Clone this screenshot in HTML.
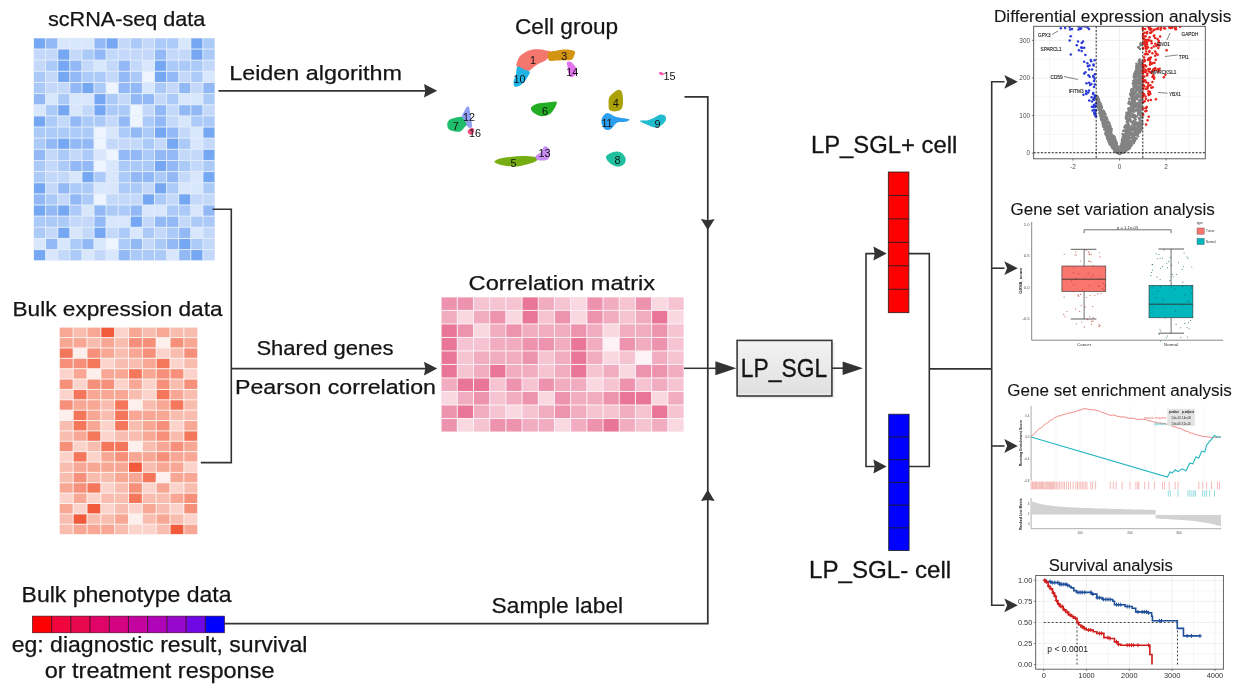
<!DOCTYPE html>
<html><head><meta charset="utf-8"><title>LP_SGL workflow</title><style>html,body{margin:0;padding:0;background:#fff;}body{width:1240px;height:687px;overflow:hidden;font-family:"Liberation Sans",sans-serif;}svg{display:block;}svg{will-change:transform}</style></head><body><svg width="1240" height="687" viewBox="0 0 1240 687" font-family="Liberation Sans, sans-serif">
<rect width="1240" height="687" fill="#ffffff"/>
<rect x="33.50" y="37.90" width="181.50" height="222.80" fill="#e2ecfb"/>
<rect x="34.00" y="38.40" width="11.10" height="10.14" fill="#76a7f3"/>
<rect x="46.10" y="38.40" width="11.10" height="10.14" fill="#92b9f6"/>
<rect x="58.20" y="38.40" width="11.10" height="10.14" fill="#d9e7fc"/>
<rect x="70.30" y="38.40" width="11.10" height="10.14" fill="#d9e7fc"/>
<rect x="82.40" y="38.40" width="11.10" height="10.14" fill="#d9e7fc"/>
<rect x="94.50" y="38.40" width="11.10" height="10.14" fill="#92b9f6"/>
<rect x="106.60" y="38.40" width="11.10" height="10.14" fill="#76a7f3"/>
<rect x="118.70" y="38.40" width="11.10" height="10.14" fill="#c4d9fa"/>
<rect x="130.80" y="38.40" width="11.10" height="10.14" fill="#abcaf8"/>
<rect x="142.90" y="38.40" width="11.10" height="10.14" fill="#c4d9fa"/>
<rect x="155.00" y="38.40" width="11.10" height="10.14" fill="#abcaf8"/>
<rect x="167.10" y="38.40" width="11.10" height="10.14" fill="#abcaf8"/>
<rect x="179.20" y="38.40" width="11.10" height="10.14" fill="#d9e7fc"/>
<rect x="191.30" y="38.40" width="11.10" height="10.14" fill="#76a7f3"/>
<rect x="203.40" y="38.40" width="11.10" height="10.14" fill="#abcaf8"/>
<rect x="34.00" y="49.54" width="11.10" height="10.14" fill="#c4d9fa"/>
<rect x="46.10" y="49.54" width="11.10" height="10.14" fill="#c4d9fa"/>
<rect x="58.20" y="49.54" width="11.10" height="10.14" fill="#76a7f3"/>
<rect x="70.30" y="49.54" width="11.10" height="10.14" fill="#c4d9fa"/>
<rect x="82.40" y="49.54" width="11.10" height="10.14" fill="#abcaf8"/>
<rect x="94.50" y="49.54" width="11.10" height="10.14" fill="#92b9f6"/>
<rect x="106.60" y="49.54" width="11.10" height="10.14" fill="#c4d9fa"/>
<rect x="118.70" y="49.54" width="11.10" height="10.14" fill="#c4d9fa"/>
<rect x="130.80" y="49.54" width="11.10" height="10.14" fill="#c4d9fa"/>
<rect x="142.90" y="49.54" width="11.10" height="10.14" fill="#c4d9fa"/>
<rect x="155.00" y="49.54" width="11.10" height="10.14" fill="#92b9f6"/>
<rect x="167.10" y="49.54" width="11.10" height="10.14" fill="#c4d9fa"/>
<rect x="179.20" y="49.54" width="11.10" height="10.14" fill="#c4d9fa"/>
<rect x="191.30" y="49.54" width="11.10" height="10.14" fill="#76a7f3"/>
<rect x="203.40" y="49.54" width="11.10" height="10.14" fill="#abcaf8"/>
<rect x="34.00" y="60.68" width="11.10" height="10.14" fill="#c4d9fa"/>
<rect x="46.10" y="60.68" width="11.10" height="10.14" fill="#abcaf8"/>
<rect x="58.20" y="60.68" width="11.10" height="10.14" fill="#76a7f3"/>
<rect x="70.30" y="60.68" width="11.10" height="10.14" fill="#92b9f6"/>
<rect x="82.40" y="60.68" width="11.10" height="10.14" fill="#c4d9fa"/>
<rect x="94.50" y="60.68" width="11.10" height="10.14" fill="#d9e7fc"/>
<rect x="106.60" y="60.68" width="11.10" height="10.14" fill="#c4d9fa"/>
<rect x="118.70" y="60.68" width="11.10" height="10.14" fill="#92b9f6"/>
<rect x="130.80" y="60.68" width="11.10" height="10.14" fill="#c4d9fa"/>
<rect x="142.90" y="60.68" width="11.10" height="10.14" fill="#d9e7fc"/>
<rect x="155.00" y="60.68" width="11.10" height="10.14" fill="#76a7f3"/>
<rect x="167.10" y="60.68" width="11.10" height="10.14" fill="#abcaf8"/>
<rect x="179.20" y="60.68" width="11.10" height="10.14" fill="#abcaf8"/>
<rect x="191.30" y="60.68" width="11.10" height="10.14" fill="#abcaf8"/>
<rect x="203.40" y="60.68" width="11.10" height="10.14" fill="#c4d9fa"/>
<rect x="34.00" y="71.82" width="11.10" height="10.14" fill="#abcaf8"/>
<rect x="46.10" y="71.82" width="11.10" height="10.14" fill="#c4d9fa"/>
<rect x="58.20" y="71.82" width="11.10" height="10.14" fill="#76a7f3"/>
<rect x="70.30" y="71.82" width="11.10" height="10.14" fill="#92b9f6"/>
<rect x="82.40" y="71.82" width="11.10" height="10.14" fill="#abcaf8"/>
<rect x="94.50" y="71.82" width="11.10" height="10.14" fill="#abcaf8"/>
<rect x="106.60" y="71.82" width="11.10" height="10.14" fill="#c4d9fa"/>
<rect x="118.70" y="71.82" width="11.10" height="10.14" fill="#92b9f6"/>
<rect x="130.80" y="71.82" width="11.10" height="10.14" fill="#abcaf8"/>
<rect x="142.90" y="71.82" width="11.10" height="10.14" fill="#eff5fe"/>
<rect x="155.00" y="71.82" width="11.10" height="10.14" fill="#76a7f3"/>
<rect x="167.10" y="71.82" width="11.10" height="10.14" fill="#92b9f6"/>
<rect x="179.20" y="71.82" width="11.10" height="10.14" fill="#c4d9fa"/>
<rect x="191.30" y="71.82" width="11.10" height="10.14" fill="#abcaf8"/>
<rect x="203.40" y="71.82" width="11.10" height="10.14" fill="#d9e7fc"/>
<rect x="34.00" y="82.96" width="11.10" height="10.14" fill="#abcaf8"/>
<rect x="46.10" y="82.96" width="11.10" height="10.14" fill="#c4d9fa"/>
<rect x="58.20" y="82.96" width="11.10" height="10.14" fill="#c4d9fa"/>
<rect x="70.30" y="82.96" width="11.10" height="10.14" fill="#92b9f6"/>
<rect x="82.40" y="82.96" width="11.10" height="10.14" fill="#76a7f3"/>
<rect x="94.50" y="82.96" width="11.10" height="10.14" fill="#abcaf8"/>
<rect x="106.60" y="82.96" width="11.10" height="10.14" fill="#eff5fe"/>
<rect x="118.70" y="82.96" width="11.10" height="10.14" fill="#92b9f6"/>
<rect x="130.80" y="82.96" width="11.10" height="10.14" fill="#92b9f6"/>
<rect x="142.90" y="82.96" width="11.10" height="10.14" fill="#d9e7fc"/>
<rect x="155.00" y="82.96" width="11.10" height="10.14" fill="#abcaf8"/>
<rect x="167.10" y="82.96" width="11.10" height="10.14" fill="#c4d9fa"/>
<rect x="179.20" y="82.96" width="11.10" height="10.14" fill="#92b9f6"/>
<rect x="191.30" y="82.96" width="11.10" height="10.14" fill="#c4d9fa"/>
<rect x="203.40" y="82.96" width="11.10" height="10.14" fill="#92b9f6"/>
<rect x="34.00" y="94.10" width="11.10" height="10.14" fill="#92b9f6"/>
<rect x="46.10" y="94.10" width="11.10" height="10.14" fill="#d9e7fc"/>
<rect x="58.20" y="94.10" width="11.10" height="10.14" fill="#abcaf8"/>
<rect x="70.30" y="94.10" width="11.10" height="10.14" fill="#d9e7fc"/>
<rect x="82.40" y="94.10" width="11.10" height="10.14" fill="#d9e7fc"/>
<rect x="94.50" y="94.10" width="11.10" height="10.14" fill="#76a7f3"/>
<rect x="106.60" y="94.10" width="11.10" height="10.14" fill="#abcaf8"/>
<rect x="118.70" y="94.10" width="11.10" height="10.14" fill="#c4d9fa"/>
<rect x="130.80" y="94.10" width="11.10" height="10.14" fill="#92b9f6"/>
<rect x="142.90" y="94.10" width="11.10" height="10.14" fill="#92b9f6"/>
<rect x="155.00" y="94.10" width="11.10" height="10.14" fill="#c4d9fa"/>
<rect x="167.10" y="94.10" width="11.10" height="10.14" fill="#abcaf8"/>
<rect x="179.20" y="94.10" width="11.10" height="10.14" fill="#d9e7fc"/>
<rect x="191.30" y="94.10" width="11.10" height="10.14" fill="#d9e7fc"/>
<rect x="203.40" y="94.10" width="11.10" height="10.14" fill="#abcaf8"/>
<rect x="34.00" y="105.24" width="11.10" height="10.14" fill="#d9e7fc"/>
<rect x="46.10" y="105.24" width="11.10" height="10.14" fill="#abcaf8"/>
<rect x="58.20" y="105.24" width="11.10" height="10.14" fill="#76a7f3"/>
<rect x="70.30" y="105.24" width="11.10" height="10.14" fill="#d9e7fc"/>
<rect x="82.40" y="105.24" width="11.10" height="10.14" fill="#c4d9fa"/>
<rect x="94.50" y="105.24" width="11.10" height="10.14" fill="#76a7f3"/>
<rect x="106.60" y="105.24" width="11.10" height="10.14" fill="#abcaf8"/>
<rect x="118.70" y="105.24" width="11.10" height="10.14" fill="#abcaf8"/>
<rect x="130.80" y="105.24" width="11.10" height="10.14" fill="#eff5fe"/>
<rect x="142.90" y="105.24" width="11.10" height="10.14" fill="#c4d9fa"/>
<rect x="155.00" y="105.24" width="11.10" height="10.14" fill="#92b9f6"/>
<rect x="167.10" y="105.24" width="11.10" height="10.14" fill="#c4d9fa"/>
<rect x="179.20" y="105.24" width="11.10" height="10.14" fill="#92b9f6"/>
<rect x="191.30" y="105.24" width="11.10" height="10.14" fill="#92b9f6"/>
<rect x="203.40" y="105.24" width="11.10" height="10.14" fill="#c4d9fa"/>
<rect x="34.00" y="116.38" width="11.10" height="10.14" fill="#76a7f3"/>
<rect x="46.10" y="116.38" width="11.10" height="10.14" fill="#abcaf8"/>
<rect x="58.20" y="116.38" width="11.10" height="10.14" fill="#c4d9fa"/>
<rect x="70.30" y="116.38" width="11.10" height="10.14" fill="#92b9f6"/>
<rect x="82.40" y="116.38" width="11.10" height="10.14" fill="#abcaf8"/>
<rect x="94.50" y="116.38" width="11.10" height="10.14" fill="#abcaf8"/>
<rect x="106.60" y="116.38" width="11.10" height="10.14" fill="#c4d9fa"/>
<rect x="118.70" y="116.38" width="11.10" height="10.14" fill="#92b9f6"/>
<rect x="130.80" y="116.38" width="11.10" height="10.14" fill="#eff5fe"/>
<rect x="142.90" y="116.38" width="11.10" height="10.14" fill="#abcaf8"/>
<rect x="155.00" y="116.38" width="11.10" height="10.14" fill="#92b9f6"/>
<rect x="167.10" y="116.38" width="11.10" height="10.14" fill="#c4d9fa"/>
<rect x="179.20" y="116.38" width="11.10" height="10.14" fill="#d9e7fc"/>
<rect x="191.30" y="116.38" width="11.10" height="10.14" fill="#abcaf8"/>
<rect x="203.40" y="116.38" width="11.10" height="10.14" fill="#abcaf8"/>
<rect x="34.00" y="127.52" width="11.10" height="10.14" fill="#abcaf8"/>
<rect x="46.10" y="127.52" width="11.10" height="10.14" fill="#abcaf8"/>
<rect x="58.20" y="127.52" width="11.10" height="10.14" fill="#abcaf8"/>
<rect x="70.30" y="127.52" width="11.10" height="10.14" fill="#abcaf8"/>
<rect x="82.40" y="127.52" width="11.10" height="10.14" fill="#abcaf8"/>
<rect x="94.50" y="127.52" width="11.10" height="10.14" fill="#eff5fe"/>
<rect x="106.60" y="127.52" width="11.10" height="10.14" fill="#d9e7fc"/>
<rect x="118.70" y="127.52" width="11.10" height="10.14" fill="#abcaf8"/>
<rect x="130.80" y="127.52" width="11.10" height="10.14" fill="#92b9f6"/>
<rect x="142.90" y="127.52" width="11.10" height="10.14" fill="#abcaf8"/>
<rect x="155.00" y="127.52" width="11.10" height="10.14" fill="#76a7f3"/>
<rect x="167.10" y="127.52" width="11.10" height="10.14" fill="#92b9f6"/>
<rect x="179.20" y="127.52" width="11.10" height="10.14" fill="#c4d9fa"/>
<rect x="191.30" y="127.52" width="11.10" height="10.14" fill="#d9e7fc"/>
<rect x="203.40" y="127.52" width="11.10" height="10.14" fill="#76a7f3"/>
<rect x="34.00" y="138.66" width="11.10" height="10.14" fill="#abcaf8"/>
<rect x="46.10" y="138.66" width="11.10" height="10.14" fill="#92b9f6"/>
<rect x="58.20" y="138.66" width="11.10" height="10.14" fill="#76a7f3"/>
<rect x="70.30" y="138.66" width="11.10" height="10.14" fill="#92b9f6"/>
<rect x="82.40" y="138.66" width="11.10" height="10.14" fill="#92b9f6"/>
<rect x="94.50" y="138.66" width="11.10" height="10.14" fill="#eff5fe"/>
<rect x="106.60" y="138.66" width="11.10" height="10.14" fill="#c4d9fa"/>
<rect x="118.70" y="138.66" width="11.10" height="10.14" fill="#c4d9fa"/>
<rect x="130.80" y="138.66" width="11.10" height="10.14" fill="#c4d9fa"/>
<rect x="142.90" y="138.66" width="11.10" height="10.14" fill="#abcaf8"/>
<rect x="155.00" y="138.66" width="11.10" height="10.14" fill="#c4d9fa"/>
<rect x="167.10" y="138.66" width="11.10" height="10.14" fill="#76a7f3"/>
<rect x="179.20" y="138.66" width="11.10" height="10.14" fill="#abcaf8"/>
<rect x="191.30" y="138.66" width="11.10" height="10.14" fill="#d9e7fc"/>
<rect x="203.40" y="138.66" width="11.10" height="10.14" fill="#c4d9fa"/>
<rect x="34.00" y="149.80" width="11.10" height="10.14" fill="#92b9f6"/>
<rect x="46.10" y="149.80" width="11.10" height="10.14" fill="#c4d9fa"/>
<rect x="58.20" y="149.80" width="11.10" height="10.14" fill="#abcaf8"/>
<rect x="70.30" y="149.80" width="11.10" height="10.14" fill="#c4d9fa"/>
<rect x="82.40" y="149.80" width="11.10" height="10.14" fill="#abcaf8"/>
<rect x="94.50" y="149.80" width="11.10" height="10.14" fill="#d9e7fc"/>
<rect x="106.60" y="149.80" width="11.10" height="10.14" fill="#eff5fe"/>
<rect x="118.70" y="149.80" width="11.10" height="10.14" fill="#92b9f6"/>
<rect x="130.80" y="149.80" width="11.10" height="10.14" fill="#92b9f6"/>
<rect x="142.90" y="149.80" width="11.10" height="10.14" fill="#abcaf8"/>
<rect x="155.00" y="149.80" width="11.10" height="10.14" fill="#92b9f6"/>
<rect x="167.10" y="149.80" width="11.10" height="10.14" fill="#92b9f6"/>
<rect x="179.20" y="149.80" width="11.10" height="10.14" fill="#c4d9fa"/>
<rect x="191.30" y="149.80" width="11.10" height="10.14" fill="#c4d9fa"/>
<rect x="203.40" y="149.80" width="11.10" height="10.14" fill="#76a7f3"/>
<rect x="34.00" y="160.94" width="11.10" height="10.14" fill="#abcaf8"/>
<rect x="46.10" y="160.94" width="11.10" height="10.14" fill="#c4d9fa"/>
<rect x="58.20" y="160.94" width="11.10" height="10.14" fill="#abcaf8"/>
<rect x="70.30" y="160.94" width="11.10" height="10.14" fill="#92b9f6"/>
<rect x="82.40" y="160.94" width="11.10" height="10.14" fill="#92b9f6"/>
<rect x="94.50" y="160.94" width="11.10" height="10.14" fill="#eff5fe"/>
<rect x="106.60" y="160.94" width="11.10" height="10.14" fill="#d9e7fc"/>
<rect x="118.70" y="160.94" width="11.10" height="10.14" fill="#abcaf8"/>
<rect x="130.80" y="160.94" width="11.10" height="10.14" fill="#abcaf8"/>
<rect x="142.90" y="160.94" width="11.10" height="10.14" fill="#abcaf8"/>
<rect x="155.00" y="160.94" width="11.10" height="10.14" fill="#76a7f3"/>
<rect x="167.10" y="160.94" width="11.10" height="10.14" fill="#92b9f6"/>
<rect x="179.20" y="160.94" width="11.10" height="10.14" fill="#abcaf8"/>
<rect x="191.30" y="160.94" width="11.10" height="10.14" fill="#c4d9fa"/>
<rect x="203.40" y="160.94" width="11.10" height="10.14" fill="#abcaf8"/>
<rect x="34.00" y="172.08" width="11.10" height="10.14" fill="#abcaf8"/>
<rect x="46.10" y="172.08" width="11.10" height="10.14" fill="#c4d9fa"/>
<rect x="58.20" y="172.08" width="11.10" height="10.14" fill="#c4d9fa"/>
<rect x="70.30" y="172.08" width="11.10" height="10.14" fill="#d9e7fc"/>
<rect x="82.40" y="172.08" width="11.10" height="10.14" fill="#76a7f3"/>
<rect x="94.50" y="172.08" width="11.10" height="10.14" fill="#abcaf8"/>
<rect x="106.60" y="172.08" width="11.10" height="10.14" fill="#d9e7fc"/>
<rect x="118.70" y="172.08" width="11.10" height="10.14" fill="#abcaf8"/>
<rect x="130.80" y="172.08" width="11.10" height="10.14" fill="#92b9f6"/>
<rect x="142.90" y="172.08" width="11.10" height="10.14" fill="#92b9f6"/>
<rect x="155.00" y="172.08" width="11.10" height="10.14" fill="#abcaf8"/>
<rect x="167.10" y="172.08" width="11.10" height="10.14" fill="#92b9f6"/>
<rect x="179.20" y="172.08" width="11.10" height="10.14" fill="#c4d9fa"/>
<rect x="191.30" y="172.08" width="11.10" height="10.14" fill="#d9e7fc"/>
<rect x="203.40" y="172.08" width="11.10" height="10.14" fill="#76a7f3"/>
<rect x="34.00" y="183.22" width="11.10" height="10.14" fill="#76a7f3"/>
<rect x="46.10" y="183.22" width="11.10" height="10.14" fill="#c4d9fa"/>
<rect x="58.20" y="183.22" width="11.10" height="10.14" fill="#92b9f6"/>
<rect x="70.30" y="183.22" width="11.10" height="10.14" fill="#abcaf8"/>
<rect x="82.40" y="183.22" width="11.10" height="10.14" fill="#abcaf8"/>
<rect x="94.50" y="183.22" width="11.10" height="10.14" fill="#d9e7fc"/>
<rect x="106.60" y="183.22" width="11.10" height="10.14" fill="#d9e7fc"/>
<rect x="118.70" y="183.22" width="11.10" height="10.14" fill="#abcaf8"/>
<rect x="130.80" y="183.22" width="11.10" height="10.14" fill="#abcaf8"/>
<rect x="142.90" y="183.22" width="11.10" height="10.14" fill="#c4d9fa"/>
<rect x="155.00" y="183.22" width="11.10" height="10.14" fill="#76a7f3"/>
<rect x="167.10" y="183.22" width="11.10" height="10.14" fill="#abcaf8"/>
<rect x="179.20" y="183.22" width="11.10" height="10.14" fill="#d9e7fc"/>
<rect x="191.30" y="183.22" width="11.10" height="10.14" fill="#d9e7fc"/>
<rect x="203.40" y="183.22" width="11.10" height="10.14" fill="#abcaf8"/>
<rect x="34.00" y="194.36" width="11.10" height="10.14" fill="#92b9f6"/>
<rect x="46.10" y="194.36" width="11.10" height="10.14" fill="#abcaf8"/>
<rect x="58.20" y="194.36" width="11.10" height="10.14" fill="#c4d9fa"/>
<rect x="70.30" y="194.36" width="11.10" height="10.14" fill="#92b9f6"/>
<rect x="82.40" y="194.36" width="11.10" height="10.14" fill="#abcaf8"/>
<rect x="94.50" y="194.36" width="11.10" height="10.14" fill="#eff5fe"/>
<rect x="106.60" y="194.36" width="11.10" height="10.14" fill="#c4d9fa"/>
<rect x="118.70" y="194.36" width="11.10" height="10.14" fill="#c4d9fa"/>
<rect x="130.80" y="194.36" width="11.10" height="10.14" fill="#c4d9fa"/>
<rect x="142.90" y="194.36" width="11.10" height="10.14" fill="#76a7f3"/>
<rect x="155.00" y="194.36" width="11.10" height="10.14" fill="#abcaf8"/>
<rect x="167.10" y="194.36" width="11.10" height="10.14" fill="#c4d9fa"/>
<rect x="179.20" y="194.36" width="11.10" height="10.14" fill="#76a7f3"/>
<rect x="191.30" y="194.36" width="11.10" height="10.14" fill="#c4d9fa"/>
<rect x="203.40" y="194.36" width="11.10" height="10.14" fill="#c4d9fa"/>
<rect x="34.00" y="205.50" width="11.10" height="10.14" fill="#76a7f3"/>
<rect x="46.10" y="205.50" width="11.10" height="10.14" fill="#92b9f6"/>
<rect x="58.20" y="205.50" width="11.10" height="10.14" fill="#76a7f3"/>
<rect x="70.30" y="205.50" width="11.10" height="10.14" fill="#abcaf8"/>
<rect x="82.40" y="205.50" width="11.10" height="10.14" fill="#d9e7fc"/>
<rect x="94.50" y="205.50" width="11.10" height="10.14" fill="#92b9f6"/>
<rect x="106.60" y="205.50" width="11.10" height="10.14" fill="#abcaf8"/>
<rect x="118.70" y="205.50" width="11.10" height="10.14" fill="#abcaf8"/>
<rect x="130.80" y="205.50" width="11.10" height="10.14" fill="#92b9f6"/>
<rect x="142.90" y="205.50" width="11.10" height="10.14" fill="#d9e7fc"/>
<rect x="155.00" y="205.50" width="11.10" height="10.14" fill="#d9e7fc"/>
<rect x="167.10" y="205.50" width="11.10" height="10.14" fill="#abcaf8"/>
<rect x="179.20" y="205.50" width="11.10" height="10.14" fill="#abcaf8"/>
<rect x="191.30" y="205.50" width="11.10" height="10.14" fill="#d9e7fc"/>
<rect x="203.40" y="205.50" width="11.10" height="10.14" fill="#92b9f6"/>
<rect x="34.00" y="216.64" width="11.10" height="10.14" fill="#abcaf8"/>
<rect x="46.10" y="216.64" width="11.10" height="10.14" fill="#abcaf8"/>
<rect x="58.20" y="216.64" width="11.10" height="10.14" fill="#abcaf8"/>
<rect x="70.30" y="216.64" width="11.10" height="10.14" fill="#c4d9fa"/>
<rect x="82.40" y="216.64" width="11.10" height="10.14" fill="#c4d9fa"/>
<rect x="94.50" y="216.64" width="11.10" height="10.14" fill="#92b9f6"/>
<rect x="106.60" y="216.64" width="11.10" height="10.14" fill="#d9e7fc"/>
<rect x="118.70" y="216.64" width="11.10" height="10.14" fill="#d9e7fc"/>
<rect x="130.80" y="216.64" width="11.10" height="10.14" fill="#76a7f3"/>
<rect x="142.90" y="216.64" width="11.10" height="10.14" fill="#c4d9fa"/>
<rect x="155.00" y="216.64" width="11.10" height="10.14" fill="#92b9f6"/>
<rect x="167.10" y="216.64" width="11.10" height="10.14" fill="#92b9f6"/>
<rect x="179.20" y="216.64" width="11.10" height="10.14" fill="#c4d9fa"/>
<rect x="191.30" y="216.64" width="11.10" height="10.14" fill="#abcaf8"/>
<rect x="203.40" y="216.64" width="11.10" height="10.14" fill="#abcaf8"/>
<rect x="34.00" y="227.78" width="11.10" height="10.14" fill="#abcaf8"/>
<rect x="46.10" y="227.78" width="11.10" height="10.14" fill="#c4d9fa"/>
<rect x="58.20" y="227.78" width="11.10" height="10.14" fill="#76a7f3"/>
<rect x="70.30" y="227.78" width="11.10" height="10.14" fill="#d9e7fc"/>
<rect x="82.40" y="227.78" width="11.10" height="10.14" fill="#c4d9fa"/>
<rect x="94.50" y="227.78" width="11.10" height="10.14" fill="#76a7f3"/>
<rect x="106.60" y="227.78" width="11.10" height="10.14" fill="#c4d9fa"/>
<rect x="118.70" y="227.78" width="11.10" height="10.14" fill="#abcaf8"/>
<rect x="130.80" y="227.78" width="11.10" height="10.14" fill="#d9e7fc"/>
<rect x="142.90" y="227.78" width="11.10" height="10.14" fill="#abcaf8"/>
<rect x="155.00" y="227.78" width="11.10" height="10.14" fill="#c4d9fa"/>
<rect x="167.10" y="227.78" width="11.10" height="10.14" fill="#abcaf8"/>
<rect x="179.20" y="227.78" width="11.10" height="10.14" fill="#92b9f6"/>
<rect x="191.30" y="227.78" width="11.10" height="10.14" fill="#d9e7fc"/>
<rect x="203.40" y="227.78" width="11.10" height="10.14" fill="#c4d9fa"/>
<rect x="34.00" y="238.92" width="11.10" height="10.14" fill="#d9e7fc"/>
<rect x="46.10" y="238.92" width="11.10" height="10.14" fill="#92b9f6"/>
<rect x="58.20" y="238.92" width="11.10" height="10.14" fill="#d9e7fc"/>
<rect x="70.30" y="238.92" width="11.10" height="10.14" fill="#abcaf8"/>
<rect x="82.40" y="238.92" width="11.10" height="10.14" fill="#92b9f6"/>
<rect x="94.50" y="238.92" width="11.10" height="10.14" fill="#d9e7fc"/>
<rect x="106.60" y="238.92" width="11.10" height="10.14" fill="#eff5fe"/>
<rect x="118.70" y="238.92" width="11.10" height="10.14" fill="#abcaf8"/>
<rect x="130.80" y="238.92" width="11.10" height="10.14" fill="#92b9f6"/>
<rect x="142.90" y="238.92" width="11.10" height="10.14" fill="#c4d9fa"/>
<rect x="155.00" y="238.92" width="11.10" height="10.14" fill="#abcaf8"/>
<rect x="167.10" y="238.92" width="11.10" height="10.14" fill="#92b9f6"/>
<rect x="179.20" y="238.92" width="11.10" height="10.14" fill="#76a7f3"/>
<rect x="191.30" y="238.92" width="11.10" height="10.14" fill="#abcaf8"/>
<rect x="203.40" y="238.92" width="11.10" height="10.14" fill="#c4d9fa"/>
<rect x="34.00" y="250.06" width="11.10" height="10.14" fill="#76a7f3"/>
<rect x="46.10" y="250.06" width="11.10" height="10.14" fill="#d9e7fc"/>
<rect x="58.20" y="250.06" width="11.10" height="10.14" fill="#c4d9fa"/>
<rect x="70.30" y="250.06" width="11.10" height="10.14" fill="#abcaf8"/>
<rect x="82.40" y="250.06" width="11.10" height="10.14" fill="#d9e7fc"/>
<rect x="94.50" y="250.06" width="11.10" height="10.14" fill="#c4d9fa"/>
<rect x="106.60" y="250.06" width="11.10" height="10.14" fill="#d9e7fc"/>
<rect x="118.70" y="250.06" width="11.10" height="10.14" fill="#92b9f6"/>
<rect x="130.80" y="250.06" width="11.10" height="10.14" fill="#abcaf8"/>
<rect x="142.90" y="250.06" width="11.10" height="10.14" fill="#abcaf8"/>
<rect x="155.00" y="250.06" width="11.10" height="10.14" fill="#abcaf8"/>
<rect x="167.10" y="250.06" width="11.10" height="10.14" fill="#d9e7fc"/>
<rect x="179.20" y="250.06" width="11.10" height="10.14" fill="#92b9f6"/>
<rect x="191.30" y="250.06" width="11.10" height="10.14" fill="#76a7f3"/>
<rect x="203.40" y="250.06" width="11.10" height="10.14" fill="#c4d9fa"/>
<rect x="59.30" y="327.20" width="138.40" height="207.40" fill="#fdf2ef"/>
<rect x="59.80" y="327.70" width="12.84" height="9.37" fill="#f8a795"/>
<rect x="73.64" y="327.70" width="12.84" height="9.37" fill="#f9bdaf"/>
<rect x="87.48" y="327.70" width="12.84" height="9.37" fill="#f8a795"/>
<rect x="101.32" y="327.70" width="12.84" height="9.37" fill="#f15a3b"/>
<rect x="115.16" y="327.70" width="12.84" height="9.37" fill="#fbd3ca"/>
<rect x="129.00" y="327.70" width="12.84" height="9.37" fill="#f8a795"/>
<rect x="142.84" y="327.70" width="12.84" height="9.37" fill="#f9bdaf"/>
<rect x="156.68" y="327.70" width="12.84" height="9.37" fill="#f8a795"/>
<rect x="170.52" y="327.70" width="12.84" height="9.37" fill="#f9bdaf"/>
<rect x="184.36" y="327.70" width="12.84" height="9.37" fill="#f9bdaf"/>
<rect x="59.80" y="338.07" width="12.84" height="9.37" fill="#f8a795"/>
<rect x="73.64" y="338.07" width="12.84" height="9.37" fill="#f8a795"/>
<rect x="87.48" y="338.07" width="12.84" height="9.37" fill="#f9bdaf"/>
<rect x="101.32" y="338.07" width="12.84" height="9.37" fill="#f8a795"/>
<rect x="115.16" y="338.07" width="12.84" height="9.37" fill="#f9bdaf"/>
<rect x="129.00" y="338.07" width="12.84" height="9.37" fill="#f6907a"/>
<rect x="142.84" y="338.07" width="12.84" height="9.37" fill="#f6907a"/>
<rect x="156.68" y="338.07" width="12.84" height="9.37" fill="#fdf0ec"/>
<rect x="170.52" y="338.07" width="12.84" height="9.37" fill="#f6907a"/>
<rect x="184.36" y="338.07" width="12.84" height="9.37" fill="#f8a795"/>
<rect x="59.80" y="348.44" width="12.84" height="9.37" fill="#f4765b"/>
<rect x="73.64" y="348.44" width="12.84" height="9.37" fill="#fdf0ec"/>
<rect x="87.48" y="348.44" width="12.84" height="9.37" fill="#f6907a"/>
<rect x="101.32" y="348.44" width="12.84" height="9.37" fill="#f8a795"/>
<rect x="115.16" y="348.44" width="12.84" height="9.37" fill="#f9bdaf"/>
<rect x="129.00" y="348.44" width="12.84" height="9.37" fill="#f8a795"/>
<rect x="142.84" y="348.44" width="12.84" height="9.37" fill="#f6907a"/>
<rect x="156.68" y="348.44" width="12.84" height="9.37" fill="#fbd3ca"/>
<rect x="170.52" y="348.44" width="12.84" height="9.37" fill="#f9bdaf"/>
<rect x="184.36" y="348.44" width="12.84" height="9.37" fill="#f6907a"/>
<rect x="59.80" y="358.81" width="12.84" height="9.37" fill="#f6907a"/>
<rect x="73.64" y="358.81" width="12.84" height="9.37" fill="#f6907a"/>
<rect x="87.48" y="358.81" width="12.84" height="9.37" fill="#f4765b"/>
<rect x="101.32" y="358.81" width="12.84" height="9.37" fill="#fbd3ca"/>
<rect x="115.16" y="358.81" width="12.84" height="9.37" fill="#f9bdaf"/>
<rect x="129.00" y="358.81" width="12.84" height="9.37" fill="#f9bdaf"/>
<rect x="142.84" y="358.81" width="12.84" height="9.37" fill="#f8a795"/>
<rect x="156.68" y="358.81" width="12.84" height="9.37" fill="#f4765b"/>
<rect x="170.52" y="358.81" width="12.84" height="9.37" fill="#fbd3ca"/>
<rect x="184.36" y="358.81" width="12.84" height="9.37" fill="#f9bdaf"/>
<rect x="59.80" y="369.18" width="12.84" height="9.37" fill="#fbd3ca"/>
<rect x="73.64" y="369.18" width="12.84" height="9.37" fill="#f8a795"/>
<rect x="87.48" y="369.18" width="12.84" height="9.37" fill="#fdf0ec"/>
<rect x="101.32" y="369.18" width="12.84" height="9.37" fill="#f8a795"/>
<rect x="115.16" y="369.18" width="12.84" height="9.37" fill="#f8a795"/>
<rect x="129.00" y="369.18" width="12.84" height="9.37" fill="#f4765b"/>
<rect x="142.84" y="369.18" width="12.84" height="9.37" fill="#f8a795"/>
<rect x="156.68" y="369.18" width="12.84" height="9.37" fill="#f6907a"/>
<rect x="170.52" y="369.18" width="12.84" height="9.37" fill="#f6907a"/>
<rect x="184.36" y="369.18" width="12.84" height="9.37" fill="#fbd3ca"/>
<rect x="59.80" y="379.55" width="12.84" height="9.37" fill="#f6907a"/>
<rect x="73.64" y="379.55" width="12.84" height="9.37" fill="#fbd3ca"/>
<rect x="87.48" y="379.55" width="12.84" height="9.37" fill="#f6907a"/>
<rect x="101.32" y="379.55" width="12.84" height="9.37" fill="#f6907a"/>
<rect x="115.16" y="379.55" width="12.84" height="9.37" fill="#fbd3ca"/>
<rect x="129.00" y="379.55" width="12.84" height="9.37" fill="#f8a795"/>
<rect x="142.84" y="379.55" width="12.84" height="9.37" fill="#fbd3ca"/>
<rect x="156.68" y="379.55" width="12.84" height="9.37" fill="#f6907a"/>
<rect x="170.52" y="379.55" width="12.84" height="9.37" fill="#f9bdaf"/>
<rect x="184.36" y="379.55" width="12.84" height="9.37" fill="#f6907a"/>
<rect x="59.80" y="389.92" width="12.84" height="9.37" fill="#fbd3ca"/>
<rect x="73.64" y="389.92" width="12.84" height="9.37" fill="#f4765b"/>
<rect x="87.48" y="389.92" width="12.84" height="9.37" fill="#f8a795"/>
<rect x="101.32" y="389.92" width="12.84" height="9.37" fill="#f8a795"/>
<rect x="115.16" y="389.92" width="12.84" height="9.37" fill="#f8a795"/>
<rect x="129.00" y="389.92" width="12.84" height="9.37" fill="#f9bdaf"/>
<rect x="142.84" y="389.92" width="12.84" height="9.37" fill="#fbd3ca"/>
<rect x="156.68" y="389.92" width="12.84" height="9.37" fill="#f4765b"/>
<rect x="170.52" y="389.92" width="12.84" height="9.37" fill="#f8a795"/>
<rect x="184.36" y="389.92" width="12.84" height="9.37" fill="#f9bdaf"/>
<rect x="59.80" y="400.29" width="12.84" height="9.37" fill="#f6907a"/>
<rect x="73.64" y="400.29" width="12.84" height="9.37" fill="#f8a795"/>
<rect x="87.48" y="400.29" width="12.84" height="9.37" fill="#f8a795"/>
<rect x="101.32" y="400.29" width="12.84" height="9.37" fill="#f9bdaf"/>
<rect x="115.16" y="400.29" width="12.84" height="9.37" fill="#f4765b"/>
<rect x="129.00" y="400.29" width="12.84" height="9.37" fill="#fdf0ec"/>
<rect x="142.84" y="400.29" width="12.84" height="9.37" fill="#f9bdaf"/>
<rect x="156.68" y="400.29" width="12.84" height="9.37" fill="#f8a795"/>
<rect x="170.52" y="400.29" width="12.84" height="9.37" fill="#f4765b"/>
<rect x="184.36" y="400.29" width="12.84" height="9.37" fill="#f9bdaf"/>
<rect x="59.80" y="410.66" width="12.84" height="9.37" fill="#fdf0ec"/>
<rect x="73.64" y="410.66" width="12.84" height="9.37" fill="#f4765b"/>
<rect x="87.48" y="410.66" width="12.84" height="9.37" fill="#f8a795"/>
<rect x="101.32" y="410.66" width="12.84" height="9.37" fill="#f9bdaf"/>
<rect x="115.16" y="410.66" width="12.84" height="9.37" fill="#f4765b"/>
<rect x="129.00" y="410.66" width="12.84" height="9.37" fill="#f8a795"/>
<rect x="142.84" y="410.66" width="12.84" height="9.37" fill="#f8a795"/>
<rect x="156.68" y="410.66" width="12.84" height="9.37" fill="#f8a795"/>
<rect x="170.52" y="410.66" width="12.84" height="9.37" fill="#f9bdaf"/>
<rect x="184.36" y="410.66" width="12.84" height="9.37" fill="#f9bdaf"/>
<rect x="59.80" y="421.03" width="12.84" height="9.37" fill="#f9bdaf"/>
<rect x="73.64" y="421.03" width="12.84" height="9.37" fill="#f4765b"/>
<rect x="87.48" y="421.03" width="12.84" height="9.37" fill="#f8a795"/>
<rect x="101.32" y="421.03" width="12.84" height="9.37" fill="#fbd3ca"/>
<rect x="115.16" y="421.03" width="12.84" height="9.37" fill="#f4765b"/>
<rect x="129.00" y="421.03" width="12.84" height="9.37" fill="#f9bdaf"/>
<rect x="142.84" y="421.03" width="12.84" height="9.37" fill="#f8a795"/>
<rect x="156.68" y="421.03" width="12.84" height="9.37" fill="#f6907a"/>
<rect x="170.52" y="421.03" width="12.84" height="9.37" fill="#fbd3ca"/>
<rect x="184.36" y="421.03" width="12.84" height="9.37" fill="#f8a795"/>
<rect x="59.80" y="431.40" width="12.84" height="9.37" fill="#f9bdaf"/>
<rect x="73.64" y="431.40" width="12.84" height="9.37" fill="#f8a795"/>
<rect x="87.48" y="431.40" width="12.84" height="9.37" fill="#f4765b"/>
<rect x="101.32" y="431.40" width="12.84" height="9.37" fill="#fbd3ca"/>
<rect x="115.16" y="431.40" width="12.84" height="9.37" fill="#f9bdaf"/>
<rect x="129.00" y="431.40" width="12.84" height="9.37" fill="#f9bdaf"/>
<rect x="142.84" y="431.40" width="12.84" height="9.37" fill="#f8a795"/>
<rect x="156.68" y="431.40" width="12.84" height="9.37" fill="#f6907a"/>
<rect x="170.52" y="431.40" width="12.84" height="9.37" fill="#f9bdaf"/>
<rect x="184.36" y="431.40" width="12.84" height="9.37" fill="#f4765b"/>
<rect x="59.80" y="441.77" width="12.84" height="9.37" fill="#f6907a"/>
<rect x="73.64" y="441.77" width="12.84" height="9.37" fill="#fbd3ca"/>
<rect x="87.48" y="441.77" width="12.84" height="9.37" fill="#f9bdaf"/>
<rect x="101.32" y="441.77" width="12.84" height="9.37" fill="#f4765b"/>
<rect x="115.16" y="441.77" width="12.84" height="9.37" fill="#f4765b"/>
<rect x="129.00" y="441.77" width="12.84" height="9.37" fill="#fdf0ec"/>
<rect x="142.84" y="441.77" width="12.84" height="9.37" fill="#f9bdaf"/>
<rect x="156.68" y="441.77" width="12.84" height="9.37" fill="#f8a795"/>
<rect x="170.52" y="441.77" width="12.84" height="9.37" fill="#f6907a"/>
<rect x="184.36" y="441.77" width="12.84" height="9.37" fill="#f8a795"/>
<rect x="59.80" y="452.14" width="12.84" height="9.37" fill="#fbd3ca"/>
<rect x="73.64" y="452.14" width="12.84" height="9.37" fill="#f4765b"/>
<rect x="87.48" y="452.14" width="12.84" height="9.37" fill="#fbd3ca"/>
<rect x="101.32" y="452.14" width="12.84" height="9.37" fill="#f8a795"/>
<rect x="115.16" y="452.14" width="12.84" height="9.37" fill="#f6907a"/>
<rect x="129.00" y="452.14" width="12.84" height="9.37" fill="#f8a795"/>
<rect x="142.84" y="452.14" width="12.84" height="9.37" fill="#f8a795"/>
<rect x="156.68" y="452.14" width="12.84" height="9.37" fill="#f6907a"/>
<rect x="170.52" y="452.14" width="12.84" height="9.37" fill="#f8a795"/>
<rect x="184.36" y="452.14" width="12.84" height="9.37" fill="#f8a795"/>
<rect x="59.80" y="462.51" width="12.84" height="9.37" fill="#f9bdaf"/>
<rect x="73.64" y="462.51" width="12.84" height="9.37" fill="#f8a795"/>
<rect x="87.48" y="462.51" width="12.84" height="9.37" fill="#f8a795"/>
<rect x="101.32" y="462.51" width="12.84" height="9.37" fill="#f8a795"/>
<rect x="115.16" y="462.51" width="12.84" height="9.37" fill="#f8a795"/>
<rect x="129.00" y="462.51" width="12.84" height="9.37" fill="#f15a3b"/>
<rect x="142.84" y="462.51" width="12.84" height="9.37" fill="#f9bdaf"/>
<rect x="156.68" y="462.51" width="12.84" height="9.37" fill="#f8a795"/>
<rect x="170.52" y="462.51" width="12.84" height="9.37" fill="#f8a795"/>
<rect x="184.36" y="462.51" width="12.84" height="9.37" fill="#fbd3ca"/>
<rect x="59.80" y="472.88" width="12.84" height="9.37" fill="#f9bdaf"/>
<rect x="73.64" y="472.88" width="12.84" height="9.37" fill="#f6907a"/>
<rect x="87.48" y="472.88" width="12.84" height="9.37" fill="#f9bdaf"/>
<rect x="101.32" y="472.88" width="12.84" height="9.37" fill="#f9bdaf"/>
<rect x="115.16" y="472.88" width="12.84" height="9.37" fill="#f8a795"/>
<rect x="129.00" y="472.88" width="12.84" height="9.37" fill="#f8a795"/>
<rect x="142.84" y="472.88" width="12.84" height="9.37" fill="#f4765b"/>
<rect x="156.68" y="472.88" width="12.84" height="9.37" fill="#fdf0ec"/>
<rect x="170.52" y="472.88" width="12.84" height="9.37" fill="#f8a795"/>
<rect x="184.36" y="472.88" width="12.84" height="9.37" fill="#f8a795"/>
<rect x="59.80" y="483.25" width="12.84" height="9.37" fill="#f8a795"/>
<rect x="73.64" y="483.25" width="12.84" height="9.37" fill="#f6907a"/>
<rect x="87.48" y="483.25" width="12.84" height="9.37" fill="#f4765b"/>
<rect x="101.32" y="483.25" width="12.84" height="9.37" fill="#fbd3ca"/>
<rect x="115.16" y="483.25" width="12.84" height="9.37" fill="#f9bdaf"/>
<rect x="129.00" y="483.25" width="12.84" height="9.37" fill="#f6907a"/>
<rect x="142.84" y="483.25" width="12.84" height="9.37" fill="#fbd3ca"/>
<rect x="156.68" y="483.25" width="12.84" height="9.37" fill="#f8a795"/>
<rect x="170.52" y="483.25" width="12.84" height="9.37" fill="#fbd3ca"/>
<rect x="184.36" y="483.25" width="12.84" height="9.37" fill="#f9bdaf"/>
<rect x="59.80" y="493.62" width="12.84" height="9.37" fill="#fbd3ca"/>
<rect x="73.64" y="493.62" width="12.84" height="9.37" fill="#f8a795"/>
<rect x="87.48" y="493.62" width="12.84" height="9.37" fill="#fbd3ca"/>
<rect x="101.32" y="493.62" width="12.84" height="9.37" fill="#f9bdaf"/>
<rect x="115.16" y="493.62" width="12.84" height="9.37" fill="#f9bdaf"/>
<rect x="129.00" y="493.62" width="12.84" height="9.37" fill="#f4765b"/>
<rect x="142.84" y="493.62" width="12.84" height="9.37" fill="#f9bdaf"/>
<rect x="156.68" y="493.62" width="12.84" height="9.37" fill="#f9bdaf"/>
<rect x="170.52" y="493.62" width="12.84" height="9.37" fill="#f8a795"/>
<rect x="184.36" y="493.62" width="12.84" height="9.37" fill="#f6907a"/>
<rect x="59.80" y="503.99" width="12.84" height="9.37" fill="#f8a795"/>
<rect x="73.64" y="503.99" width="12.84" height="9.37" fill="#fbd3ca"/>
<rect x="87.48" y="503.99" width="12.84" height="9.37" fill="#f15a3b"/>
<rect x="101.32" y="503.99" width="12.84" height="9.37" fill="#fbd3ca"/>
<rect x="115.16" y="503.99" width="12.84" height="9.37" fill="#f9bdaf"/>
<rect x="129.00" y="503.99" width="12.84" height="9.37" fill="#fbd3ca"/>
<rect x="142.84" y="503.99" width="12.84" height="9.37" fill="#f8a795"/>
<rect x="156.68" y="503.99" width="12.84" height="9.37" fill="#f9bdaf"/>
<rect x="170.52" y="503.99" width="12.84" height="9.37" fill="#fbd3ca"/>
<rect x="184.36" y="503.99" width="12.84" height="9.37" fill="#f6907a"/>
<rect x="59.80" y="514.36" width="12.84" height="9.37" fill="#f9bdaf"/>
<rect x="73.64" y="514.36" width="12.84" height="9.37" fill="#f15a3b"/>
<rect x="87.48" y="514.36" width="12.84" height="9.37" fill="#f9bdaf"/>
<rect x="101.32" y="514.36" width="12.84" height="9.37" fill="#f9bdaf"/>
<rect x="115.16" y="514.36" width="12.84" height="9.37" fill="#f8a795"/>
<rect x="129.00" y="514.36" width="12.84" height="9.37" fill="#fdf0ec"/>
<rect x="142.84" y="514.36" width="12.84" height="9.37" fill="#f9bdaf"/>
<rect x="156.68" y="514.36" width="12.84" height="9.37" fill="#f8a795"/>
<rect x="170.52" y="514.36" width="12.84" height="9.37" fill="#f9bdaf"/>
<rect x="184.36" y="514.36" width="12.84" height="9.37" fill="#fbd3ca"/>
<rect x="59.80" y="524.73" width="12.84" height="9.37" fill="#f9bdaf"/>
<rect x="73.64" y="524.73" width="12.84" height="9.37" fill="#f8a795"/>
<rect x="87.48" y="524.73" width="12.84" height="9.37" fill="#f8a795"/>
<rect x="101.32" y="524.73" width="12.84" height="9.37" fill="#f8a795"/>
<rect x="115.16" y="524.73" width="12.84" height="9.37" fill="#f9bdaf"/>
<rect x="129.00" y="524.73" width="12.84" height="9.37" fill="#fbd3ca"/>
<rect x="142.84" y="524.73" width="12.84" height="9.37" fill="#fbd3ca"/>
<rect x="156.68" y="524.73" width="12.84" height="9.37" fill="#f9bdaf"/>
<rect x="170.52" y="524.73" width="12.84" height="9.37" fill="#f15a3b"/>
<rect x="184.36" y="524.73" width="12.84" height="9.37" fill="#f8a795"/>
<rect x="441.10" y="296.90" width="242.90" height="135.10" fill="#fcf1f5"/>
<rect x="441.60" y="297.40" width="15.19" height="12.51" fill="#ee93af"/>
<rect x="457.79" y="297.40" width="15.19" height="12.51" fill="#ee93af"/>
<rect x="473.99" y="297.40" width="15.19" height="12.51" fill="#f6c3d2"/>
<rect x="490.18" y="297.40" width="15.19" height="12.51" fill="#f6c3d2"/>
<rect x="506.37" y="297.40" width="15.19" height="12.51" fill="#f6c3d2"/>
<rect x="522.57" y="297.40" width="15.19" height="12.51" fill="#e97599"/>
<rect x="538.76" y="297.40" width="15.19" height="12.51" fill="#f2acc1"/>
<rect x="554.95" y="297.40" width="15.19" height="12.51" fill="#f6c3d2"/>
<rect x="571.15" y="297.40" width="15.19" height="12.51" fill="#f9d8e2"/>
<rect x="587.34" y="297.40" width="15.19" height="12.51" fill="#ee93af"/>
<rect x="603.53" y="297.40" width="15.19" height="12.51" fill="#f2acc1"/>
<rect x="619.73" y="297.40" width="15.19" height="12.51" fill="#f6c3d2"/>
<rect x="635.92" y="297.40" width="15.19" height="12.51" fill="#ee93af"/>
<rect x="652.11" y="297.40" width="15.19" height="12.51" fill="#f9d8e2"/>
<rect x="668.31" y="297.40" width="15.19" height="12.51" fill="#f6c3d2"/>
<rect x="441.60" y="310.91" width="15.19" height="12.51" fill="#f2acc1"/>
<rect x="457.79" y="310.91" width="15.19" height="12.51" fill="#f9d8e2"/>
<rect x="473.99" y="310.91" width="15.19" height="12.51" fill="#f2acc1"/>
<rect x="490.18" y="310.91" width="15.19" height="12.51" fill="#ee93af"/>
<rect x="506.37" y="310.91" width="15.19" height="12.51" fill="#f9d8e2"/>
<rect x="522.57" y="310.91" width="15.19" height="12.51" fill="#e97599"/>
<rect x="538.76" y="310.91" width="15.19" height="12.51" fill="#f6c3d2"/>
<rect x="554.95" y="310.91" width="15.19" height="12.51" fill="#ee93af"/>
<rect x="571.15" y="310.91" width="15.19" height="12.51" fill="#f9d8e2"/>
<rect x="587.34" y="310.91" width="15.19" height="12.51" fill="#ee93af"/>
<rect x="603.53" y="310.91" width="15.19" height="12.51" fill="#f2acc1"/>
<rect x="619.73" y="310.91" width="15.19" height="12.51" fill="#f6c3d2"/>
<rect x="635.92" y="310.91" width="15.19" height="12.51" fill="#f2acc1"/>
<rect x="652.11" y="310.91" width="15.19" height="12.51" fill="#e97599"/>
<rect x="668.31" y="310.91" width="15.19" height="12.51" fill="#f9d8e2"/>
<rect x="441.60" y="324.42" width="15.19" height="12.51" fill="#e97599"/>
<rect x="457.79" y="324.42" width="15.19" height="12.51" fill="#ee93af"/>
<rect x="473.99" y="324.42" width="15.19" height="12.51" fill="#f9d8e2"/>
<rect x="490.18" y="324.42" width="15.19" height="12.51" fill="#f2acc1"/>
<rect x="506.37" y="324.42" width="15.19" height="12.51" fill="#ee93af"/>
<rect x="522.57" y="324.42" width="15.19" height="12.51" fill="#f2acc1"/>
<rect x="538.76" y="324.42" width="15.19" height="12.51" fill="#f2acc1"/>
<rect x="554.95" y="324.42" width="15.19" height="12.51" fill="#f2acc1"/>
<rect x="571.15" y="324.42" width="15.19" height="12.51" fill="#ee93af"/>
<rect x="587.34" y="324.42" width="15.19" height="12.51" fill="#f2acc1"/>
<rect x="603.53" y="324.42" width="15.19" height="12.51" fill="#f9d8e2"/>
<rect x="619.73" y="324.42" width="15.19" height="12.51" fill="#f2acc1"/>
<rect x="635.92" y="324.42" width="15.19" height="12.51" fill="#f2acc1"/>
<rect x="652.11" y="324.42" width="15.19" height="12.51" fill="#ee93af"/>
<rect x="668.31" y="324.42" width="15.19" height="12.51" fill="#f6c3d2"/>
<rect x="441.60" y="337.93" width="15.19" height="12.51" fill="#e97599"/>
<rect x="457.79" y="337.93" width="15.19" height="12.51" fill="#f6c3d2"/>
<rect x="473.99" y="337.93" width="15.19" height="12.51" fill="#f6c3d2"/>
<rect x="490.18" y="337.93" width="15.19" height="12.51" fill="#f2acc1"/>
<rect x="506.37" y="337.93" width="15.19" height="12.51" fill="#f2acc1"/>
<rect x="522.57" y="337.93" width="15.19" height="12.51" fill="#ee93af"/>
<rect x="538.76" y="337.93" width="15.19" height="12.51" fill="#ee93af"/>
<rect x="554.95" y="337.93" width="15.19" height="12.51" fill="#f2acc1"/>
<rect x="571.15" y="337.93" width="15.19" height="12.51" fill="#e97599"/>
<rect x="587.34" y="337.93" width="15.19" height="12.51" fill="#f2acc1"/>
<rect x="603.53" y="337.93" width="15.19" height="12.51" fill="#fdf2f6"/>
<rect x="619.73" y="337.93" width="15.19" height="12.51" fill="#ee93af"/>
<rect x="635.92" y="337.93" width="15.19" height="12.51" fill="#f2acc1"/>
<rect x="652.11" y="337.93" width="15.19" height="12.51" fill="#ee93af"/>
<rect x="668.31" y="337.93" width="15.19" height="12.51" fill="#f6c3d2"/>
<rect x="441.60" y="351.44" width="15.19" height="12.51" fill="#e97599"/>
<rect x="457.79" y="351.44" width="15.19" height="12.51" fill="#f6c3d2"/>
<rect x="473.99" y="351.44" width="15.19" height="12.51" fill="#f2acc1"/>
<rect x="490.18" y="351.44" width="15.19" height="12.51" fill="#f2acc1"/>
<rect x="506.37" y="351.44" width="15.19" height="12.51" fill="#f2acc1"/>
<rect x="522.57" y="351.44" width="15.19" height="12.51" fill="#ee93af"/>
<rect x="538.76" y="351.44" width="15.19" height="12.51" fill="#f6c3d2"/>
<rect x="554.95" y="351.44" width="15.19" height="12.51" fill="#f2acc1"/>
<rect x="571.15" y="351.44" width="15.19" height="12.51" fill="#e97599"/>
<rect x="587.34" y="351.44" width="15.19" height="12.51" fill="#f2acc1"/>
<rect x="603.53" y="351.44" width="15.19" height="12.51" fill="#f9d8e2"/>
<rect x="619.73" y="351.44" width="15.19" height="12.51" fill="#f6c3d2"/>
<rect x="635.92" y="351.44" width="15.19" height="12.51" fill="#fdf2f6"/>
<rect x="652.11" y="351.44" width="15.19" height="12.51" fill="#f2acc1"/>
<rect x="668.31" y="351.44" width="15.19" height="12.51" fill="#f6c3d2"/>
<rect x="441.60" y="364.95" width="15.19" height="12.51" fill="#e97599"/>
<rect x="457.79" y="364.95" width="15.19" height="12.51" fill="#f6c3d2"/>
<rect x="473.99" y="364.95" width="15.19" height="12.51" fill="#f2acc1"/>
<rect x="490.18" y="364.95" width="15.19" height="12.51" fill="#e97599"/>
<rect x="506.37" y="364.95" width="15.19" height="12.51" fill="#f2acc1"/>
<rect x="522.57" y="364.95" width="15.19" height="12.51" fill="#f2acc1"/>
<rect x="538.76" y="364.95" width="15.19" height="12.51" fill="#f6c3d2"/>
<rect x="554.95" y="364.95" width="15.19" height="12.51" fill="#f2acc1"/>
<rect x="571.15" y="364.95" width="15.19" height="12.51" fill="#e97599"/>
<rect x="587.34" y="364.95" width="15.19" height="12.51" fill="#f6c3d2"/>
<rect x="603.53" y="364.95" width="15.19" height="12.51" fill="#f2acc1"/>
<rect x="619.73" y="364.95" width="15.19" height="12.51" fill="#f9d8e2"/>
<rect x="635.92" y="364.95" width="15.19" height="12.51" fill="#ee93af"/>
<rect x="652.11" y="364.95" width="15.19" height="12.51" fill="#ee93af"/>
<rect x="668.31" y="364.95" width="15.19" height="12.51" fill="#f2acc1"/>
<rect x="441.60" y="378.46" width="15.19" height="12.51" fill="#f2acc1"/>
<rect x="457.79" y="378.46" width="15.19" height="12.51" fill="#e97599"/>
<rect x="473.99" y="378.46" width="15.19" height="12.51" fill="#e97599"/>
<rect x="490.18" y="378.46" width="15.19" height="12.51" fill="#f6c3d2"/>
<rect x="506.37" y="378.46" width="15.19" height="12.51" fill="#ee93af"/>
<rect x="522.57" y="378.46" width="15.19" height="12.51" fill="#f6c3d2"/>
<rect x="538.76" y="378.46" width="15.19" height="12.51" fill="#ee93af"/>
<rect x="554.95" y="378.46" width="15.19" height="12.51" fill="#f2acc1"/>
<rect x="571.15" y="378.46" width="15.19" height="12.51" fill="#f2acc1"/>
<rect x="587.34" y="378.46" width="15.19" height="12.51" fill="#f9d8e2"/>
<rect x="603.53" y="378.46" width="15.19" height="12.51" fill="#f6c3d2"/>
<rect x="619.73" y="378.46" width="15.19" height="12.51" fill="#ee93af"/>
<rect x="635.92" y="378.46" width="15.19" height="12.51" fill="#f6c3d2"/>
<rect x="652.11" y="378.46" width="15.19" height="12.51" fill="#f2acc1"/>
<rect x="668.31" y="378.46" width="15.19" height="12.51" fill="#f6c3d2"/>
<rect x="441.60" y="391.97" width="15.19" height="12.51" fill="#f9d8e2"/>
<rect x="457.79" y="391.97" width="15.19" height="12.51" fill="#f2acc1"/>
<rect x="473.99" y="391.97" width="15.19" height="12.51" fill="#ee93af"/>
<rect x="490.18" y="391.97" width="15.19" height="12.51" fill="#f6c3d2"/>
<rect x="506.37" y="391.97" width="15.19" height="12.51" fill="#f2acc1"/>
<rect x="522.57" y="391.97" width="15.19" height="12.51" fill="#ee93af"/>
<rect x="538.76" y="391.97" width="15.19" height="12.51" fill="#f9d8e2"/>
<rect x="554.95" y="391.97" width="15.19" height="12.51" fill="#ee93af"/>
<rect x="571.15" y="391.97" width="15.19" height="12.51" fill="#f2acc1"/>
<rect x="587.34" y="391.97" width="15.19" height="12.51" fill="#f2acc1"/>
<rect x="603.53" y="391.97" width="15.19" height="12.51" fill="#ee93af"/>
<rect x="619.73" y="391.97" width="15.19" height="12.51" fill="#e97599"/>
<rect x="635.92" y="391.97" width="15.19" height="12.51" fill="#e97599"/>
<rect x="652.11" y="391.97" width="15.19" height="12.51" fill="#f9d8e2"/>
<rect x="668.31" y="391.97" width="15.19" height="12.51" fill="#f2acc1"/>
<rect x="441.60" y="405.48" width="15.19" height="12.51" fill="#ee93af"/>
<rect x="457.79" y="405.48" width="15.19" height="12.51" fill="#e97599"/>
<rect x="473.99" y="405.48" width="15.19" height="12.51" fill="#f2acc1"/>
<rect x="490.18" y="405.48" width="15.19" height="12.51" fill="#f6c3d2"/>
<rect x="506.37" y="405.48" width="15.19" height="12.51" fill="#f9d8e2"/>
<rect x="522.57" y="405.48" width="15.19" height="12.51" fill="#f6c3d2"/>
<rect x="538.76" y="405.48" width="15.19" height="12.51" fill="#f2acc1"/>
<rect x="554.95" y="405.48" width="15.19" height="12.51" fill="#ee93af"/>
<rect x="571.15" y="405.48" width="15.19" height="12.51" fill="#f2acc1"/>
<rect x="587.34" y="405.48" width="15.19" height="12.51" fill="#f6c3d2"/>
<rect x="603.53" y="405.48" width="15.19" height="12.51" fill="#f6c3d2"/>
<rect x="619.73" y="405.48" width="15.19" height="12.51" fill="#f2acc1"/>
<rect x="635.92" y="405.48" width="15.19" height="12.51" fill="#f6c3d2"/>
<rect x="652.11" y="405.48" width="15.19" height="12.51" fill="#e97599"/>
<rect x="668.31" y="405.48" width="15.19" height="12.51" fill="#f6c3d2"/>
<rect x="441.60" y="418.99" width="15.19" height="12.51" fill="#ee93af"/>
<rect x="457.79" y="418.99" width="15.19" height="12.51" fill="#f9d8e2"/>
<rect x="473.99" y="418.99" width="15.19" height="12.51" fill="#f6c3d2"/>
<rect x="490.18" y="418.99" width="15.19" height="12.51" fill="#ee93af"/>
<rect x="506.37" y="418.99" width="15.19" height="12.51" fill="#ee93af"/>
<rect x="522.57" y="418.99" width="15.19" height="12.51" fill="#f2acc1"/>
<rect x="538.76" y="418.99" width="15.19" height="12.51" fill="#f2acc1"/>
<rect x="554.95" y="418.99" width="15.19" height="12.51" fill="#f9d8e2"/>
<rect x="571.15" y="418.99" width="15.19" height="12.51" fill="#f2acc1"/>
<rect x="587.34" y="418.99" width="15.19" height="12.51" fill="#ee93af"/>
<rect x="603.53" y="418.99" width="15.19" height="12.51" fill="#e97599"/>
<rect x="619.73" y="418.99" width="15.19" height="12.51" fill="#f2acc1"/>
<rect x="635.92" y="418.99" width="15.19" height="12.51" fill="#f6c3d2"/>
<rect x="652.11" y="418.99" width="15.19" height="12.51" fill="#f2acc1"/>
<rect x="668.31" y="418.99" width="15.19" height="12.51" fill="#f9d8e2"/>
<path d="M218.50,90.80 L426.00,90.80" fill="none" stroke="#333333" stroke-width="1.7" stroke-linejoin="miter"/>
<path d="M437.20,90.80 L424.00,84.10 L425.30,90.80 L424.00,97.50Z" fill="#333333"/>
<path d="M212.50,209.30 L231.30,209.30 L231.30,462.60 L200.80,462.60" fill="none" stroke="#333333" stroke-width="1.6" stroke-linejoin="miter"/>
<path d="M231.30,368.60 L426.00,368.60" fill="none" stroke="#333333" stroke-width="1.7" stroke-linejoin="miter"/>
<path d="M437.20,368.60 L424.00,361.80 L425.30,368.60 L424.00,375.40Z" fill="#333333"/>
<path d="M684.50,96.80 L707.80,96.80 L707.80,623.60 L224.50,623.60" fill="none" stroke="#333333" stroke-width="1.75" stroke-linejoin="miter"/>
<path d="M707.80,230.10 L700.90,219.00 L707.80,220.30 L714.70,219.00Z" fill="#333333"/>
<path d="M707.80,489.40 L701.00,501.00 L707.80,500.00 L714.60,501.00Z" fill="#333333"/>
<path d="M684.00,368.30 L716.00,368.30" fill="none" stroke="#333333" stroke-width="1.5" stroke-linejoin="miter"/>
<path d="M736.40,368.30 L715.40,361.30 L715.40,368.30 L715.40,375.30Z" fill="#333333"/>
<defs><linearGradient id="gb" x1="0" y1="0" x2="0" y2="1"><stop offset="0" stop-color="#f3f3f3"/><stop offset="1" stop-color="#dfdfdf"/></linearGradient></defs>
<rect x="738.5" y="342.0" width="96" height="56.5" fill="#e9e9e9" opacity="0.8"/>
<rect x="737.1" y="340.4" width="94.8" height="55.6" fill="url(#gb)" stroke="#3a3a3a" stroke-width="1.6"/>
<line x1="738" y1="394.3" x2="831" y2="394.3" stroke="#f4f4f4" stroke-width="0.8"/>
<text x="740.80" y="377.10" font-size="26.12" textLength="86.30" lengthAdjust="spacingAndGlyphs" fill="#141414" stroke="#141414" stroke-width="0.3" >LP_SGL</text>
<path d="M832.00,368.20 L846.00,368.20" fill="none" stroke="#333333" stroke-width="1.6" stroke-linejoin="miter"/>
<path d="M863.00,368.20 L842.60,361.40 L842.60,368.20 L842.60,375.00Z" fill="#333333"/>
<path d="M876.00,253.60 L866.00,253.60 L866.00,466.50 L876.00,466.50" fill="none" stroke="#333333" stroke-width="1.6" stroke-linejoin="miter"/>
<path d="M886.70,253.60 L873.40,246.60 L874.70,253.60 L873.40,260.60Z" fill="#333333"/>
<path d="M886.70,466.50 L873.40,459.50 L874.70,466.50 L873.40,473.50Z" fill="#333333"/>
<path d="M909.00,253.60 L929.30,253.60 L929.30,466.50 L909.00,466.50" fill="none" stroke="#333333" stroke-width="1.6" stroke-linejoin="miter"/>
<path d="M929.30,368.90 L991.70,368.90" fill="none" stroke="#333333" stroke-width="1.6" stroke-linejoin="miter"/>
<rect x="888.3" y="172.0" width="20.600000000000023" height="140.7" fill="#ff0000" stroke="#202020" stroke-width="0.8"/>
<line x1="888.3" y1="195.45" x2="908.9" y2="195.45" stroke="#202020" stroke-width="0.9"/>
<line x1="888.3" y1="218.90" x2="908.9" y2="218.90" stroke="#202020" stroke-width="0.9"/>
<line x1="888.3" y1="242.35" x2="908.9" y2="242.35" stroke="#202020" stroke-width="0.9"/>
<line x1="888.3" y1="265.80" x2="908.9" y2="265.80" stroke="#202020" stroke-width="0.9"/>
<line x1="888.3" y1="289.25" x2="908.9" y2="289.25" stroke="#202020" stroke-width="0.9"/>
<rect x="888.7" y="414.2" width="20.399999999999977" height="136.40000000000003" fill="#0000ff" stroke="#202020" stroke-width="0.8"/>
<line x1="888.7" y1="436.93" x2="909.1" y2="436.93" stroke="#202020" stroke-width="0.9"/>
<line x1="888.7" y1="459.67" x2="909.1" y2="459.67" stroke="#202020" stroke-width="0.9"/>
<line x1="888.7" y1="482.40" x2="909.1" y2="482.40" stroke="#202020" stroke-width="0.9"/>
<line x1="888.7" y1="505.13" x2="909.1" y2="505.13" stroke="#202020" stroke-width="0.9"/>
<line x1="888.7" y1="527.87" x2="909.1" y2="527.87" stroke="#202020" stroke-width="0.9"/>
<rect x="32.40" y="616.1" width="19.21" height="16.70" fill="#ff0000"/>
<rect x="51.61" y="616.1" width="19.21" height="16.70" fill="#f0063c"/>
<rect x="70.82" y="616.1" width="19.21" height="16.70" fill="#e8084e"/>
<rect x="90.03" y="616.1" width="19.21" height="16.70" fill="#e00468"/>
<rect x="109.24" y="616.1" width="19.21" height="16.70" fill="#d40382"/>
<rect x="128.45" y="616.1" width="19.21" height="16.70" fill="#c4029e"/>
<rect x="147.66" y="616.1" width="19.21" height="16.70" fill="#b004b8"/>
<rect x="166.87" y="616.1" width="19.21" height="16.70" fill="#9808cc"/>
<rect x="186.08" y="616.1" width="19.21" height="16.70" fill="#7008e6"/>
<rect x="205.29" y="616.1" width="19.21" height="16.70" fill="#0000ff"/>
<line x1="51.61" y1="616.1" x2="51.61" y2="632.8" stroke="#3a0a20" stroke-width="0.9"/>
<line x1="70.82" y1="616.1" x2="70.82" y2="632.8" stroke="#3a0a20" stroke-width="0.9"/>
<line x1="90.03" y1="616.1" x2="90.03" y2="632.8" stroke="#3a0a20" stroke-width="0.9"/>
<line x1="109.24" y1="616.1" x2="109.24" y2="632.8" stroke="#3a0a20" stroke-width="0.9"/>
<line x1="128.45" y1="616.1" x2="128.45" y2="632.8" stroke="#3a0a20" stroke-width="0.9"/>
<line x1="147.66" y1="616.1" x2="147.66" y2="632.8" stroke="#3a0a20" stroke-width="0.9"/>
<line x1="166.87" y1="616.1" x2="166.87" y2="632.8" stroke="#3a0a20" stroke-width="0.9"/>
<line x1="186.08" y1="616.1" x2="186.08" y2="632.8" stroke="#3a0a20" stroke-width="0.9"/>
<line x1="205.29" y1="616.1" x2="205.29" y2="632.8" stroke="#3a0a20" stroke-width="0.9"/>
<rect x="32.4" y="616.1" width="192.10" height="16.70" fill="none" stroke="#3a0a20" stroke-width="0.6"/>
<path d="M1004.50,81.80 L991.70,81.80 L991.70,605.30 L1004.50,605.30" fill="none" stroke="#333333" stroke-width="1.6" stroke-linejoin="miter"/>
<path d="M991.70,268.20 L1004.50,268.20" fill="none" stroke="#333333" stroke-width="1.6" stroke-linejoin="miter"/>
<path d="M991.70,446.00 L1004.50,446.00" fill="none" stroke="#333333" stroke-width="1.6" stroke-linejoin="miter"/>
<path d="M1017.80,81.80 L1004.30,74.90 L1007.10,81.80 L1004.30,88.70Z" fill="#333333"/>
<path d="M1017.80,268.20 L1004.30,261.30 L1007.10,268.20 L1004.30,275.10Z" fill="#333333"/>
<path d="M1017.80,446.00 L1004.30,439.10 L1007.10,446.00 L1004.30,452.90Z" fill="#333333"/>
<path d="M1017.80,605.30 L1004.30,598.40 L1007.10,605.30 L1004.30,612.20Z" fill="#333333"/>
<path d="M516.60,63.80 C517.10,62.23 518.13,58.53 519.60,56.60 C521.07,54.67 523.22,53.37 525.40,52.20 C527.58,51.03 530.28,50.08 532.70,49.60 C535.12,49.12 537.72,49.17 539.90,49.30 C542.08,49.43 544.10,50.03 545.80,50.40 C547.50,50.77 549.62,50.47 550.10,51.50 C550.58,52.53 549.42,55.15 548.70,56.60 C547.98,58.05 547.27,59.12 545.80,60.20 C544.33,61.28 541.85,62.02 539.90,63.10 C537.95,64.18 535.80,65.48 534.10,66.70 C532.40,67.92 531.40,69.67 529.70,70.40 C528.00,71.13 525.58,71.47 523.90,71.10 C522.22,70.73 520.82,69.05 519.60,68.20 C518.38,67.35 517.10,66.73 516.60,66.00 C516.10,65.27 516.10,65.37 516.60,63.80Z" fill="#f4766d"/>
<path d="M548.70,52.20 C550.03,50.98 553.48,51.13 555.90,50.70 C558.32,50.27 560.77,49.72 563.20,49.60 C565.63,49.48 568.55,49.68 570.50,50.00 C572.45,50.32 574.30,50.53 574.90,51.50 C575.50,52.47 574.58,54.47 574.10,55.80 C573.62,57.13 573.08,58.77 572.00,59.50 C570.92,60.23 569.07,60.08 567.60,60.20 C566.13,60.32 565.15,60.13 563.20,60.20 C561.25,60.27 558.08,60.48 555.90,60.60 C553.72,60.72 551.43,61.33 550.10,60.90 C548.77,60.47 548.13,59.45 547.90,58.00 C547.67,56.55 547.37,53.42 548.70,52.20Z" fill="#d39511"/>
<path d="M517.40,66.70 C518.62,65.72 521.15,68.05 523.20,68.90 C525.25,69.75 528.97,70.47 529.70,71.80 C530.43,73.13 528.57,75.20 527.60,76.90 C526.63,78.60 525.23,80.53 523.90,82.00 C522.57,83.47 521.17,84.97 519.60,85.70 C518.03,86.43 515.48,87.13 514.50,86.40 C513.52,85.67 513.47,83.23 513.70,81.30 C513.93,79.37 515.28,77.23 515.90,74.80 C516.52,72.37 516.18,67.68 517.40,66.70Z" fill="#20b3e6"/>
<path d="M566.90,62.40 C567.38,61.57 569.17,61.10 570.50,61.70 C571.83,62.30 573.82,64.43 574.90,66.00 C575.98,67.57 577.00,69.52 577.00,71.10 C577.00,72.68 575.98,74.53 574.90,75.50 C573.82,76.47 571.60,77.38 570.50,76.90 C569.40,76.42 568.78,74.30 568.30,72.60 C567.82,70.90 567.83,68.40 567.60,66.70 C567.37,65.00 566.42,63.23 566.90,62.40Z" fill="#e272ee"/>
<path d="M447.30,124.10 C447.43,122.53 448.05,120.88 449.50,119.80 C450.95,118.72 453.95,118.10 456.00,117.60 C458.05,117.10 460.10,116.57 461.80,116.80 C463.50,117.03 465.22,117.78 466.20,119.00 C467.18,120.22 467.93,122.77 467.70,124.10 C467.47,125.43 466.02,125.78 464.80,127.00 C463.58,128.22 462.10,130.67 460.40,131.40 C458.70,132.13 456.55,131.77 454.60,131.40 C452.65,131.03 449.92,130.42 448.70,129.20 C447.48,127.98 447.17,125.67 447.30,124.10Z" fill="#1fbe6c"/>
<path d="M466.90,106.70 C467.75,105.97 468.48,105.95 469.10,107.40 C469.72,108.85 470.12,112.25 470.60,115.40 C471.08,118.55 472.25,124.23 472.00,126.30 C471.75,128.37 469.93,127.92 469.10,127.80 C468.27,127.68 467.72,126.82 467.00,125.60 C466.28,124.38 465.67,121.97 464.80,120.50 C463.93,119.03 461.93,118.25 461.80,116.80 C461.67,115.35 463.15,113.48 464.00,111.80 C464.85,110.12 466.05,107.43 466.90,106.70Z" fill="#8f9ff3"/>
<path d="M467.70,130.70 C468.18,129.62 470.92,127.92 472.00,127.80 C473.08,127.68 474.07,128.92 474.20,130.00 C474.33,131.08 473.65,133.58 472.80,134.30 C471.95,135.02 469.95,134.90 469.10,134.30 C468.25,133.70 467.22,131.78 467.70,130.70Z" fill="#ef5580"/>
<path d="M531.50,107.00 C532.40,105.90 534.35,104.43 536.90,103.70 C539.45,102.97 543.70,102.97 546.80,102.60 C549.90,102.23 553.87,101.32 555.50,101.50 C557.13,101.68 556.97,102.23 556.60,103.70 C556.23,105.17 554.58,108.48 553.30,110.30 C552.02,112.12 550.90,113.60 548.90,114.60 C546.90,115.60 543.67,116.47 541.30,116.30 C538.93,116.13 536.33,114.60 534.70,113.60 C533.07,112.60 532.03,111.40 531.50,110.30 C530.97,109.20 530.60,108.10 531.50,107.00Z" fill="#22ad22"/>
<path d="M494.40,161.60 C494.77,160.60 498.00,159.12 500.90,158.30 C503.80,157.48 508.17,157.07 511.80,156.70 C515.43,156.33 518.70,156.02 522.70,156.10 C526.70,156.18 533.43,156.47 535.80,157.20 C538.17,157.93 537.98,159.40 536.90,160.50 C535.82,161.60 532.57,162.80 529.30,163.80 C526.03,164.80 521.12,166.15 517.30,166.50 C513.48,166.85 509.50,166.27 506.40,165.90 C503.30,165.53 500.70,165.02 498.70,164.30 C496.70,163.58 494.03,162.60 494.40,161.60Z" fill="#76ad12"/>
<path d="M535.80,156.10 C536.53,154.83 539.83,153.43 541.30,151.80 C542.77,150.17 543.33,146.85 544.60,146.30 C545.87,145.75 548.00,147.05 548.90,148.50 C549.80,149.95 550.18,153.18 550.00,155.00 C549.82,156.82 549.25,158.48 547.80,159.40 C546.35,160.32 543.12,160.50 541.30,160.50 C539.48,160.50 537.82,160.13 536.90,159.40 C535.98,158.67 535.07,157.37 535.80,156.10Z" fill="#c98ef3"/>
<path d="M609.40,97.00 C610.33,95.13 612.60,93.40 614.20,92.20 C615.80,91.00 617.67,89.67 619.00,89.80 C620.33,89.93 621.53,90.73 622.20,93.00 C622.87,95.27 623.27,100.60 623.00,103.40 C622.73,106.20 622.07,108.47 620.60,109.80 C619.13,111.13 616.07,111.40 614.20,111.40 C612.33,111.40 610.33,111.13 609.40,109.80 C608.47,108.47 608.60,105.53 608.60,103.40 C608.60,101.27 608.47,98.87 609.40,97.00Z" fill="#aba20a"/>
<path d="M603.00,116.20 C604.07,114.60 605.93,113.00 607.80,113.00 C609.67,113.00 612.07,115.40 614.20,116.20 C616.33,117.00 618.07,117.27 620.60,117.80 C623.13,118.33 628.60,118.73 629.40,119.40 C630.20,120.07 627.40,121.27 625.40,121.80 C623.40,122.33 619.53,121.67 617.40,122.60 C615.27,123.53 613.93,126.20 612.60,127.40 C611.27,128.60 610.73,129.53 609.40,129.80 C608.07,130.07 605.93,130.20 604.60,129.00 C603.27,127.80 601.67,124.73 601.40,122.60 C601.13,120.47 601.93,117.80 603.00,116.20Z" fill="#2d9ff0"/>
<path d="M639.80,121.00 C639.80,120.20 645.40,120.73 647.80,120.20 C650.20,119.67 652.07,118.73 654.20,117.80 C656.33,116.87 658.73,114.87 660.60,114.60 C662.47,114.33 664.60,115.13 665.40,116.20 C666.20,117.27 666.20,119.40 665.40,121.00 C664.60,122.60 662.47,124.73 660.60,125.80 C658.73,126.87 656.33,127.53 654.20,127.40 C652.07,127.27 650.20,126.07 647.80,125.00 C645.40,123.93 639.80,121.80 639.80,121.00Z" fill="#20bbcf"/>
<path d="M606.20,156.20 C607.00,154.73 610.20,152.87 612.60,152.20 C615.00,151.53 618.47,151.27 620.60,152.20 C622.73,153.13 624.73,155.93 625.40,157.80 C626.07,159.67 625.67,161.93 624.60,163.40 C623.53,164.87 621.00,166.33 619.00,166.60 C617.00,166.87 614.47,165.93 612.60,165.00 C610.73,164.07 608.87,162.47 607.80,161.00 C606.73,159.53 605.40,157.67 606.20,156.20Z" fill="#20bf9f"/>
<path d="M658.80,72.40 C659.05,72.03 660.05,71.73 661.00,72.00 C661.95,72.27 664.33,73.47 664.50,74.00 C664.67,74.53 662.83,75.17 662.00,75.20 C661.17,75.23 660.03,74.67 659.50,74.20 C658.97,73.73 658.55,72.77 658.80,72.40Z" fill="#f060b4"/>
<text x="533.0" y="64.2" font-size="10.8" text-anchor="middle" fill="#111111">1</text>
<text x="564.3" y="60.2" font-size="10.8" text-anchor="middle" fill="#111111">3</text>
<text x="519.6" y="83.1" font-size="10.8" text-anchor="middle" fill="#111111">10</text>
<text x="572.3" y="75.5" font-size="10.8" text-anchor="middle" fill="#111111">14</text>
<text x="455.7" y="129.6" font-size="10.8" text-anchor="middle" fill="#111111">7</text>
<text x="469.1" y="120.8" font-size="10.8" text-anchor="middle" fill="#111111">12</text>
<text x="475.0" y="137.2" font-size="10.8" text-anchor="middle" fill="#111111">16</text>
<text x="545.1" y="114.8" font-size="10.8" text-anchor="middle" fill="#111111">6</text>
<text x="513.5" y="166.7" font-size="10.8" text-anchor="middle" fill="#111111">5</text>
<text x="544.6" y="157.4" font-size="10.8" text-anchor="middle" fill="#111111">13</text>
<text x="615.8" y="106.6" font-size="10.8" text-anchor="middle" fill="#111111">4</text>
<text x="607.0" y="127.4" font-size="10.8" text-anchor="middle" fill="#111111">11</text>
<text x="657.4" y="128.2" font-size="10.8" text-anchor="middle" fill="#111111">9</text>
<text x="617.4" y="164.2" font-size="10.8" text-anchor="middle" fill="#111111">8</text>
<text x="669.4" y="80.2" font-size="10.8" text-anchor="middle" fill="#111111">15</text>
<text x="48.00" y="25.50" font-size="20.95" textLength="157.40" lengthAdjust="spacingAndGlyphs" fill="#141414" stroke="#141414" stroke-width="0.25" >scRNA-seq data</text>
<text x="229.20" y="80.30" font-size="21.09" textLength="172.70" lengthAdjust="spacingAndGlyphs" fill="#141414" stroke="#141414" stroke-width="0.25" >Leiden algorithm</text>
<text x="515.00" y="33.60" font-size="21.37" textLength="103.20" lengthAdjust="spacingAndGlyphs" fill="#141414" stroke="#141414" stroke-width="0.25" >Cell group</text>
<text x="12.50" y="315.70" font-size="21.09" textLength="210.10" lengthAdjust="spacingAndGlyphs" fill="#141414" stroke="#141414" stroke-width="0.25" >Bulk expression data</text>
<text x="256.40" y="354.80" font-size="20.95" textLength="137.20" lengthAdjust="spacingAndGlyphs" fill="#141414" stroke="#141414" stroke-width="0.25" >Shared genes</text>
<text x="235.00" y="393.90" font-size="21.09" textLength="201.00" lengthAdjust="spacingAndGlyphs" fill="#141414" stroke="#141414" stroke-width="0.25" >Pearson correlation</text>
<text x="468.60" y="289.60" font-size="20.67" textLength="186.50" lengthAdjust="spacingAndGlyphs" fill="#141414" stroke="#141414" stroke-width="0.25" >Correlation matrix</text>
<text x="810.90" y="153.40" font-size="24.30" textLength="146.40" lengthAdjust="spacingAndGlyphs" fill="#141414" stroke="#141414" stroke-width="0.3" >LP_SGL+ cell</text>
<text x="809.00" y="578.10" font-size="24.44" textLength="142.10" lengthAdjust="spacingAndGlyphs" fill="#141414" stroke="#141414" stroke-width="0.3" >LP_SGL- cell</text>
<text x="21.60" y="601.90" font-size="21.51" textLength="209.90" lengthAdjust="spacingAndGlyphs" fill="#141414" stroke="#141414" stroke-width="0.25" >Bulk phenotype data</text>
<text x="11.70" y="652.30" font-size="21.51" textLength="295.70" lengthAdjust="spacingAndGlyphs" fill="#141414" stroke="#141414" stroke-width="0.25" >eg: diagnostic result, survival</text>
<text x="44.70" y="677.50" font-size="21.51" textLength="229.80" lengthAdjust="spacingAndGlyphs" fill="#141414" stroke="#141414" stroke-width="0.25" >or treatment response</text>
<text x="491.60" y="612.70" font-size="21.79" textLength="131.50" lengthAdjust="spacingAndGlyphs" fill="#141414" stroke="#141414" stroke-width="0.25" >Sample label</text>
<text x="993.90" y="21.60" font-size="16.34" textLength="237.40" lengthAdjust="spacingAndGlyphs" fill="#141414" stroke="#141414" stroke-width="0.08" >Differential expression analysis</text>
<text x="1010.50" y="215.40" font-size="16.06" textLength="204.30" lengthAdjust="spacingAndGlyphs" fill="#141414" stroke="#141414" stroke-width="0.08" >Gene set variation analysis</text>
<text x="1007.30" y="395.90" font-size="15.64" textLength="224.60" lengthAdjust="spacingAndGlyphs" fill="#141414" stroke="#141414" stroke-width="0.08" >Gene set enrichment analysis</text>
<text x="1048.70" y="570.90" font-size="16.62" textLength="124.20" lengthAdjust="spacingAndGlyphs" fill="#141414" stroke="#141414" stroke-width="0.08" >Survival analysis</text>
<clipPath id="vclip"><rect x="1033.7" y="26.3" width="171.6" height="132.5"/></clipPath>
<rect x="1033.7" y="26.3" width="171.6" height="132.5" fill="#ffffff"/>
<line x1="1049.60" y1="26.3" x2="1049.60" y2="158.8" stroke="#ececec" stroke-width="0.5"/>
<line x1="1072.90" y1="26.3" x2="1072.90" y2="158.8" stroke="#ececec" stroke-width="0.8"/>
<line x1="1096.20" y1="26.3" x2="1096.20" y2="158.8" stroke="#ececec" stroke-width="0.5"/>
<line x1="1119.50" y1="26.3" x2="1119.50" y2="158.8" stroke="#ececec" stroke-width="0.8"/>
<line x1="1142.80" y1="26.3" x2="1142.80" y2="158.8" stroke="#ececec" stroke-width="0.5"/>
<line x1="1166.10" y1="26.3" x2="1166.10" y2="158.8" stroke="#ececec" stroke-width="0.8"/>
<line x1="1189.40" y1="26.3" x2="1189.40" y2="158.8" stroke="#ececec" stroke-width="0.5"/>
<line x1="1033.7" y1="153.20" x2="1205.3" y2="153.20" stroke="#ececec" stroke-width="0.8"/>
<line x1="1033.7" y1="134.40" x2="1205.3" y2="134.40" stroke="#ececec" stroke-width="0.5"/>
<line x1="1033.7" y1="115.60" x2="1205.3" y2="115.60" stroke="#ececec" stroke-width="0.8"/>
<line x1="1033.7" y1="96.80" x2="1205.3" y2="96.80" stroke="#ececec" stroke-width="0.5"/>
<line x1="1033.7" y1="78.00" x2="1205.3" y2="78.00" stroke="#ececec" stroke-width="0.8"/>
<line x1="1033.7" y1="59.20" x2="1205.3" y2="59.20" stroke="#ececec" stroke-width="0.5"/>
<line x1="1033.7" y1="40.40" x2="1205.3" y2="40.40" stroke="#ececec" stroke-width="0.8"/>
<g clip-path="url(#vclip)">
<circle cx="1113.9" cy="138.3" r="1.25" fill="#838383"/>
<circle cx="1106.9" cy="118.8" r="1.25" fill="#838383"/>
<circle cx="1107.6" cy="126.0" r="1.25" fill="#838383"/>
<circle cx="1116.9" cy="151.3" r="1.25" fill="#838383"/>
<circle cx="1117.8" cy="152.1" r="1.25" fill="#838383"/>
<circle cx="1118.6" cy="150.8" r="1.25" fill="#838383"/>
<circle cx="1106.4" cy="132.6" r="1.25" fill="#838383"/>
<circle cx="1117.0" cy="148.5" r="1.25" fill="#838383"/>
<circle cx="1101.7" cy="120.3" r="1.25" fill="#838383"/>
<circle cx="1106.5" cy="123.5" r="1.25" fill="#838383"/>
<circle cx="1097.7" cy="97.3" r="1.25" fill="#838383"/>
<circle cx="1100.3" cy="105.3" r="1.25" fill="#838383"/>
<circle cx="1117.4" cy="147.6" r="1.25" fill="#838383"/>
<circle cx="1108.9" cy="139.2" r="1.25" fill="#838383"/>
<circle cx="1113.5" cy="145.8" r="1.25" fill="#838383"/>
<circle cx="1105.2" cy="119.6" r="1.25" fill="#838383"/>
<circle cx="1109.6" cy="125.3" r="1.25" fill="#838383"/>
<circle cx="1118.2" cy="151.2" r="1.25" fill="#838383"/>
<circle cx="1103.9" cy="117.0" r="1.25" fill="#838383"/>
<circle cx="1110.6" cy="138.9" r="1.25" fill="#838383"/>
<circle cx="1109.9" cy="130.9" r="1.25" fill="#838383"/>
<circle cx="1100.0" cy="109.6" r="1.25" fill="#838383"/>
<circle cx="1112.2" cy="142.6" r="1.25" fill="#838383"/>
<circle cx="1104.0" cy="126.6" r="1.25" fill="#838383"/>
<circle cx="1103.6" cy="113.8" r="1.25" fill="#838383"/>
<circle cx="1097.5" cy="97.0" r="1.25" fill="#838383"/>
<circle cx="1107.1" cy="133.0" r="1.25" fill="#838383"/>
<circle cx="1114.8" cy="147.2" r="1.25" fill="#838383"/>
<circle cx="1116.9" cy="152.0" r="1.25" fill="#838383"/>
<circle cx="1101.3" cy="111.5" r="1.25" fill="#838383"/>
<circle cx="1099.8" cy="104.2" r="1.25" fill="#838383"/>
<circle cx="1102.6" cy="116.0" r="1.25" fill="#838383"/>
<circle cx="1106.0" cy="123.3" r="1.25" fill="#838383"/>
<circle cx="1098.1" cy="106.5" r="1.25" fill="#838383"/>
<circle cx="1106.7" cy="129.7" r="1.25" fill="#838383"/>
<circle cx="1116.0" cy="151.2" r="1.25" fill="#838383"/>
<circle cx="1101.0" cy="119.1" r="1.25" fill="#838383"/>
<circle cx="1101.3" cy="107.7" r="1.25" fill="#838383"/>
<circle cx="1108.4" cy="134.9" r="1.25" fill="#838383"/>
<circle cx="1118.1" cy="152.6" r="1.25" fill="#838383"/>
<circle cx="1117.0" cy="146.4" r="1.25" fill="#838383"/>
<circle cx="1115.8" cy="151.3" r="1.25" fill="#838383"/>
<circle cx="1116.8" cy="148.3" r="1.25" fill="#838383"/>
<circle cx="1106.7" cy="134.6" r="1.25" fill="#838383"/>
<circle cx="1116.6" cy="150.4" r="1.25" fill="#838383"/>
<circle cx="1103.5" cy="125.2" r="1.25" fill="#838383"/>
<circle cx="1098.8" cy="107.9" r="1.25" fill="#838383"/>
<circle cx="1112.7" cy="140.8" r="1.25" fill="#838383"/>
<circle cx="1107.3" cy="136.4" r="1.25" fill="#838383"/>
<circle cx="1098.0" cy="98.6" r="1.25" fill="#838383"/>
<circle cx="1116.1" cy="146.0" r="1.25" fill="#838383"/>
<circle cx="1113.1" cy="143.2" r="1.25" fill="#838383"/>
<circle cx="1107.2" cy="122.7" r="1.25" fill="#838383"/>
<circle cx="1118.9" cy="153.1" r="1.25" fill="#838383"/>
<circle cx="1109.6" cy="135.8" r="1.25" fill="#838383"/>
<circle cx="1096.9" cy="98.9" r="1.25" fill="#838383"/>
<circle cx="1106.2" cy="127.2" r="1.25" fill="#838383"/>
<circle cx="1106.4" cy="117.2" r="1.25" fill="#838383"/>
<circle cx="1097.7" cy="102.5" r="1.25" fill="#838383"/>
<circle cx="1098.1" cy="104.2" r="1.25" fill="#838383"/>
<circle cx="1110.5" cy="134.5" r="1.25" fill="#838383"/>
<circle cx="1115.1" cy="149.4" r="1.25" fill="#838383"/>
<circle cx="1118.8" cy="151.1" r="1.25" fill="#838383"/>
<circle cx="1116.0" cy="144.4" r="1.25" fill="#838383"/>
<circle cx="1114.3" cy="137.4" r="1.25" fill="#838383"/>
<circle cx="1119.4" cy="153.2" r="1.25" fill="#838383"/>
<circle cx="1116.6" cy="149.5" r="1.25" fill="#838383"/>
<circle cx="1116.8" cy="152.5" r="1.25" fill="#838383"/>
<circle cx="1107.3" cy="121.2" r="1.25" fill="#838383"/>
<circle cx="1113.8" cy="142.2" r="1.25" fill="#838383"/>
<circle cx="1113.3" cy="136.1" r="1.25" fill="#838383"/>
<circle cx="1097.8" cy="105.9" r="1.25" fill="#838383"/>
<circle cx="1108.2" cy="130.2" r="1.25" fill="#838383"/>
<circle cx="1118.3" cy="150.2" r="1.25" fill="#838383"/>
<circle cx="1112.6" cy="137.3" r="1.25" fill="#838383"/>
<circle cx="1101.7" cy="107.3" r="1.25" fill="#838383"/>
<circle cx="1116.7" cy="152.6" r="1.25" fill="#838383"/>
<circle cx="1109.4" cy="126.5" r="1.25" fill="#838383"/>
<circle cx="1110.0" cy="125.5" r="1.25" fill="#838383"/>
<circle cx="1103.2" cy="126.5" r="1.25" fill="#838383"/>
<circle cx="1098.7" cy="105.0" r="1.25" fill="#838383"/>
<circle cx="1113.4" cy="141.7" r="1.25" fill="#838383"/>
<circle cx="1112.6" cy="146.5" r="1.25" fill="#838383"/>
<circle cx="1104.6" cy="126.2" r="1.25" fill="#838383"/>
<circle cx="1113.2" cy="138.0" r="1.25" fill="#838383"/>
<circle cx="1098.4" cy="108.4" r="1.25" fill="#838383"/>
<circle cx="1098.5" cy="105.7" r="1.25" fill="#838383"/>
<circle cx="1099.4" cy="108.0" r="1.25" fill="#838383"/>
<circle cx="1113.0" cy="143.5" r="1.25" fill="#838383"/>
<circle cx="1114.2" cy="136.6" r="1.25" fill="#838383"/>
<circle cx="1118.5" cy="152.4" r="1.25" fill="#838383"/>
<circle cx="1111.0" cy="141.8" r="1.25" fill="#838383"/>
<circle cx="1097.4" cy="98.7" r="1.25" fill="#838383"/>
<circle cx="1096.5" cy="100.0" r="1.25" fill="#838383"/>
<circle cx="1097.6" cy="98.8" r="1.25" fill="#838383"/>
<circle cx="1115.3" cy="143.8" r="1.25" fill="#838383"/>
<circle cx="1115.9" cy="145.0" r="1.25" fill="#838383"/>
<circle cx="1102.0" cy="120.5" r="1.25" fill="#838383"/>
<circle cx="1100.0" cy="106.5" r="1.25" fill="#838383"/>
<circle cx="1102.2" cy="118.7" r="1.25" fill="#838383"/>
<circle cx="1115.4" cy="150.2" r="1.25" fill="#838383"/>
<circle cx="1097.5" cy="101.8" r="1.25" fill="#838383"/>
<circle cx="1102.1" cy="112.5" r="1.25" fill="#838383"/>
<circle cx="1112.2" cy="145.9" r="1.25" fill="#838383"/>
<circle cx="1108.5" cy="137.9" r="1.25" fill="#838383"/>
<circle cx="1097.2" cy="97.6" r="1.25" fill="#838383"/>
<circle cx="1105.9" cy="134.0" r="1.25" fill="#838383"/>
<circle cx="1104.4" cy="114.1" r="1.25" fill="#838383"/>
<circle cx="1117.4" cy="148.4" r="1.25" fill="#838383"/>
<circle cx="1097.5" cy="102.2" r="1.25" fill="#838383"/>
<circle cx="1112.8" cy="147.5" r="1.25" fill="#838383"/>
<circle cx="1096.7" cy="97.0" r="1.25" fill="#838383"/>
<circle cx="1110.1" cy="136.9" r="1.25" fill="#838383"/>
<circle cx="1118.2" cy="148.2" r="1.25" fill="#838383"/>
<circle cx="1096.8" cy="97.7" r="1.25" fill="#838383"/>
<circle cx="1103.6" cy="126.6" r="1.25" fill="#838383"/>
<circle cx="1105.8" cy="132.1" r="1.25" fill="#838383"/>
<circle cx="1101.5" cy="107.5" r="1.25" fill="#838383"/>
<circle cx="1114.2" cy="142.2" r="1.25" fill="#838383"/>
<circle cx="1112.2" cy="142.8" r="1.25" fill="#838383"/>
<circle cx="1113.1" cy="141.8" r="1.25" fill="#838383"/>
<circle cx="1112.7" cy="148.2" r="1.25" fill="#838383"/>
<circle cx="1110.8" cy="136.7" r="1.25" fill="#838383"/>
<circle cx="1102.7" cy="123.1" r="1.25" fill="#838383"/>
<circle cx="1105.7" cy="132.9" r="1.25" fill="#838383"/>
<circle cx="1107.1" cy="128.1" r="1.25" fill="#838383"/>
<circle cx="1110.5" cy="126.7" r="1.25" fill="#838383"/>
<circle cx="1111.2" cy="131.7" r="1.25" fill="#838383"/>
<circle cx="1118.5" cy="153.1" r="1.25" fill="#838383"/>
<circle cx="1114.5" cy="146.2" r="1.25" fill="#838383"/>
<circle cx="1102.2" cy="114.1" r="1.25" fill="#838383"/>
<circle cx="1110.9" cy="138.2" r="1.25" fill="#838383"/>
<circle cx="1104.1" cy="124.8" r="1.25" fill="#838383"/>
<circle cx="1115.4" cy="149.3" r="1.25" fill="#838383"/>
<circle cx="1114.4" cy="142.4" r="1.25" fill="#838383"/>
<circle cx="1101.4" cy="111.0" r="1.25" fill="#838383"/>
<circle cx="1104.2" cy="124.4" r="1.25" fill="#838383"/>
<circle cx="1098.5" cy="101.7" r="1.25" fill="#838383"/>
<circle cx="1104.9" cy="121.3" r="1.25" fill="#838383"/>
<circle cx="1105.7" cy="127.4" r="1.25" fill="#838383"/>
<circle cx="1108.1" cy="131.0" r="1.25" fill="#838383"/>
<circle cx="1104.4" cy="129.5" r="1.25" fill="#838383"/>
<circle cx="1100.8" cy="115.8" r="1.25" fill="#838383"/>
<circle cx="1098.2" cy="99.6" r="1.25" fill="#838383"/>
<circle cx="1102.9" cy="124.5" r="1.25" fill="#838383"/>
<circle cx="1101.4" cy="106.5" r="1.25" fill="#838383"/>
<circle cx="1115.8" cy="148.6" r="1.25" fill="#838383"/>
<circle cx="1117.8" cy="150.7" r="1.25" fill="#838383"/>
<circle cx="1115.7" cy="150.7" r="1.25" fill="#838383"/>
<circle cx="1099.3" cy="110.2" r="1.25" fill="#838383"/>
<circle cx="1113.3" cy="147.1" r="1.25" fill="#838383"/>
<circle cx="1106.2" cy="118.2" r="1.25" fill="#838383"/>
<circle cx="1097.4" cy="103.7" r="1.25" fill="#838383"/>
<circle cx="1109.9" cy="143.9" r="1.25" fill="#838383"/>
<circle cx="1109.6" cy="134.1" r="1.25" fill="#838383"/>
<circle cx="1096.4" cy="96.4" r="1.25" fill="#838383"/>
<circle cx="1115.0" cy="146.7" r="1.25" fill="#838383"/>
<circle cx="1108.3" cy="127.2" r="1.25" fill="#838383"/>
<circle cx="1115.1" cy="145.1" r="1.25" fill="#838383"/>
<circle cx="1105.3" cy="114.3" r="1.25" fill="#838383"/>
<circle cx="1106.7" cy="124.9" r="1.25" fill="#838383"/>
<circle cx="1118.6" cy="152.7" r="1.25" fill="#838383"/>
<circle cx="1104.6" cy="120.5" r="1.25" fill="#838383"/>
<circle cx="1114.6" cy="151.1" r="1.25" fill="#838383"/>
<circle cx="1098.8" cy="110.0" r="1.25" fill="#838383"/>
<circle cx="1117.1" cy="149.4" r="1.25" fill="#838383"/>
<circle cx="1116.5" cy="152.0" r="1.25" fill="#838383"/>
<circle cx="1115.1" cy="141.2" r="1.25" fill="#838383"/>
<circle cx="1105.8" cy="132.8" r="1.25" fill="#838383"/>
<circle cx="1101.5" cy="107.9" r="1.25" fill="#838383"/>
<circle cx="1112.1" cy="147.3" r="1.25" fill="#838383"/>
<circle cx="1104.4" cy="123.9" r="1.25" fill="#838383"/>
<circle cx="1118.5" cy="150.0" r="1.25" fill="#838383"/>
<circle cx="1103.8" cy="116.5" r="1.25" fill="#838383"/>
<circle cx="1114.5" cy="150.7" r="1.25" fill="#838383"/>
<circle cx="1102.5" cy="119.9" r="1.25" fill="#838383"/>
<circle cx="1114.5" cy="150.3" r="1.25" fill="#838383"/>
<circle cx="1115.1" cy="151.0" r="1.25" fill="#838383"/>
<circle cx="1109.6" cy="130.9" r="1.25" fill="#838383"/>
<circle cx="1103.1" cy="124.9" r="1.25" fill="#838383"/>
<circle cx="1115.1" cy="141.4" r="1.25" fill="#838383"/>
<circle cx="1108.8" cy="126.5" r="1.25" fill="#838383"/>
<circle cx="1117.6" cy="149.2" r="1.25" fill="#838383"/>
<circle cx="1118.4" cy="151.6" r="1.25" fill="#838383"/>
<circle cx="1112.9" cy="139.0" r="1.25" fill="#838383"/>
<circle cx="1102.9" cy="111.8" r="1.25" fill="#838383"/>
<circle cx="1109.8" cy="128.2" r="1.25" fill="#838383"/>
<circle cx="1114.5" cy="137.0" r="1.25" fill="#838383"/>
<circle cx="1116.3" cy="142.3" r="1.25" fill="#838383"/>
<circle cx="1102.1" cy="113.6" r="1.25" fill="#838383"/>
<circle cx="1114.1" cy="145.4" r="1.25" fill="#838383"/>
<circle cx="1098.8" cy="100.2" r="1.25" fill="#838383"/>
<circle cx="1100.7" cy="107.9" r="1.25" fill="#838383"/>
<circle cx="1104.9" cy="128.5" r="1.25" fill="#838383"/>
<circle cx="1109.6" cy="134.4" r="1.25" fill="#838383"/>
<circle cx="1100.4" cy="116.5" r="1.25" fill="#838383"/>
<circle cx="1108.0" cy="137.3" r="1.25" fill="#838383"/>
<circle cx="1102.1" cy="115.3" r="1.25" fill="#838383"/>
<circle cx="1110.6" cy="133.8" r="1.25" fill="#838383"/>
<circle cx="1118.6" cy="151.5" r="1.25" fill="#838383"/>
<circle cx="1115.5" cy="150.8" r="1.25" fill="#838383"/>
<circle cx="1115.1" cy="142.0" r="1.25" fill="#838383"/>
<circle cx="1114.5" cy="150.2" r="1.25" fill="#838383"/>
<circle cx="1098.6" cy="104.5" r="1.25" fill="#838383"/>
<circle cx="1114.0" cy="140.6" r="1.25" fill="#838383"/>
<circle cx="1112.1" cy="140.0" r="1.25" fill="#838383"/>
<circle cx="1115.0" cy="146.9" r="1.25" fill="#838383"/>
<circle cx="1108.8" cy="141.6" r="1.25" fill="#838383"/>
<circle cx="1097.0" cy="97.6" r="1.25" fill="#838383"/>
<circle cx="1109.2" cy="142.6" r="1.25" fill="#838383"/>
<circle cx="1112.5" cy="139.1" r="1.25" fill="#838383"/>
<circle cx="1119.2" cy="153.2" r="1.25" fill="#838383"/>
<circle cx="1107.9" cy="129.7" r="1.25" fill="#838383"/>
<circle cx="1113.6" cy="144.8" r="1.25" fill="#838383"/>
<circle cx="1119.1" cy="153.1" r="1.25" fill="#838383"/>
<circle cx="1116.7" cy="150.0" r="1.25" fill="#838383"/>
<circle cx="1119.2" cy="151.9" r="1.25" fill="#838383"/>
<circle cx="1113.6" cy="139.4" r="1.25" fill="#838383"/>
<circle cx="1105.4" cy="122.9" r="1.25" fill="#838383"/>
<circle cx="1101.1" cy="112.4" r="1.25" fill="#838383"/>
<circle cx="1100.5" cy="114.7" r="1.25" fill="#838383"/>
<circle cx="1111.1" cy="134.6" r="1.25" fill="#838383"/>
<circle cx="1097.3" cy="96.7" r="1.25" fill="#838383"/>
<circle cx="1101.7" cy="114.1" r="1.25" fill="#838383"/>
<circle cx="1116.1" cy="151.9" r="1.25" fill="#838383"/>
<circle cx="1098.4" cy="103.0" r="1.25" fill="#838383"/>
<circle cx="1100.6" cy="113.5" r="1.25" fill="#838383"/>
<circle cx="1114.9" cy="147.8" r="1.25" fill="#838383"/>
<circle cx="1104.7" cy="127.9" r="1.25" fill="#838383"/>
<circle cx="1099.2" cy="108.9" r="1.25" fill="#838383"/>
<circle cx="1102.8" cy="123.0" r="1.25" fill="#838383"/>
<circle cx="1102.3" cy="116.8" r="1.25" fill="#838383"/>
<circle cx="1116.6" cy="143.3" r="1.25" fill="#838383"/>
<circle cx="1116.0" cy="148.1" r="1.25" fill="#838383"/>
<circle cx="1113.9" cy="149.4" r="1.25" fill="#838383"/>
<circle cx="1105.2" cy="124.6" r="1.25" fill="#838383"/>
<circle cx="1103.5" cy="120.4" r="1.25" fill="#838383"/>
<circle cx="1111.4" cy="128.8" r="1.25" fill="#838383"/>
<circle cx="1099.7" cy="109.3" r="1.25" fill="#838383"/>
<circle cx="1107.1" cy="128.0" r="1.25" fill="#838383"/>
<circle cx="1106.7" cy="118.3" r="1.25" fill="#838383"/>
<circle cx="1103.6" cy="113.3" r="1.25" fill="#838383"/>
<circle cx="1117.7" cy="150.7" r="1.25" fill="#838383"/>
<circle cx="1104.1" cy="113.8" r="1.25" fill="#838383"/>
<circle cx="1099.6" cy="113.1" r="1.25" fill="#838383"/>
<circle cx="1108.4" cy="128.5" r="1.25" fill="#838383"/>
<circle cx="1106.4" cy="129.4" r="1.25" fill="#838383"/>
<circle cx="1101.0" cy="111.4" r="1.25" fill="#838383"/>
<circle cx="1107.1" cy="119.4" r="1.25" fill="#838383"/>
<circle cx="1116.4" cy="147.4" r="1.25" fill="#838383"/>
<circle cx="1103.2" cy="112.9" r="1.25" fill="#838383"/>
<circle cx="1109.5" cy="124.0" r="1.25" fill="#838383"/>
<circle cx="1117.9" cy="151.2" r="1.25" fill="#838383"/>
<circle cx="1102.5" cy="117.5" r="1.25" fill="#838383"/>
<circle cx="1104.9" cy="117.3" r="1.25" fill="#838383"/>
<circle cx="1107.3" cy="127.2" r="1.25" fill="#838383"/>
<circle cx="1111.1" cy="130.2" r="1.25" fill="#838383"/>
<circle cx="1099.7" cy="102.9" r="1.25" fill="#838383"/>
<circle cx="1096.3" cy="97.2" r="1.25" fill="#838383"/>
<circle cx="1118.3" cy="152.8" r="1.25" fill="#838383"/>
<circle cx="1098.4" cy="107.9" r="1.25" fill="#838383"/>
<circle cx="1110.3" cy="131.2" r="1.25" fill="#838383"/>
<circle cx="1110.2" cy="144.4" r="1.25" fill="#838383"/>
<circle cx="1112.9" cy="144.3" r="1.25" fill="#838383"/>
<circle cx="1114.8" cy="147.7" r="1.25" fill="#838383"/>
<circle cx="1098.2" cy="98.9" r="1.25" fill="#838383"/>
<circle cx="1100.4" cy="107.8" r="1.25" fill="#838383"/>
<circle cx="1098.2" cy="103.4" r="1.25" fill="#838383"/>
<circle cx="1110.1" cy="143.3" r="1.25" fill="#838383"/>
<circle cx="1111.3" cy="129.0" r="1.25" fill="#838383"/>
<circle cx="1118.9" cy="153.1" r="1.25" fill="#838383"/>
<circle cx="1110.0" cy="131.1" r="1.25" fill="#838383"/>
<circle cx="1116.0" cy="147.7" r="1.25" fill="#838383"/>
<circle cx="1108.6" cy="138.8" r="1.25" fill="#838383"/>
<circle cx="1118.8" cy="153.2" r="1.25" fill="#838383"/>
<circle cx="1101.5" cy="106.6" r="1.25" fill="#838383"/>
<circle cx="1097.4" cy="100.7" r="1.25" fill="#838383"/>
<circle cx="1099.2" cy="102.4" r="1.25" fill="#838383"/>
<circle cx="1110.9" cy="135.6" r="1.25" fill="#838383"/>
<circle cx="1096.5" cy="95.8" r="1.25" fill="#838383"/>
<circle cx="1110.9" cy="136.3" r="1.25" fill="#838383"/>
<circle cx="1115.6" cy="141.0" r="1.25" fill="#838383"/>
<circle cx="1114.0" cy="149.5" r="1.25" fill="#838383"/>
<circle cx="1108.5" cy="140.4" r="1.25" fill="#838383"/>
<circle cx="1114.4" cy="142.3" r="1.25" fill="#838383"/>
<circle cx="1109.5" cy="127.5" r="1.25" fill="#838383"/>
<circle cx="1106.4" cy="135.6" r="1.25" fill="#838383"/>
<circle cx="1097.9" cy="103.6" r="1.25" fill="#838383"/>
<circle cx="1101.8" cy="120.1" r="1.25" fill="#838383"/>
<circle cx="1097.5" cy="99.7" r="1.25" fill="#838383"/>
<circle cx="1105.2" cy="114.4" r="1.25" fill="#838383"/>
<circle cx="1102.6" cy="113.6" r="1.25" fill="#838383"/>
<circle cx="1101.1" cy="112.3" r="1.25" fill="#838383"/>
<circle cx="1115.4" cy="140.4" r="1.25" fill="#838383"/>
<circle cx="1099.0" cy="100.7" r="1.25" fill="#838383"/>
<circle cx="1109.2" cy="129.8" r="1.25" fill="#838383"/>
<circle cx="1109.8" cy="139.8" r="1.25" fill="#838383"/>
<circle cx="1097.4" cy="97.3" r="1.25" fill="#838383"/>
<circle cx="1105.3" cy="118.5" r="1.25" fill="#838383"/>
<circle cx="1106.9" cy="124.7" r="1.25" fill="#838383"/>
<circle cx="1116.7" cy="146.5" r="1.25" fill="#838383"/>
<circle cx="1110.6" cy="144.5" r="1.25" fill="#838383"/>
<circle cx="1109.6" cy="128.3" r="1.25" fill="#838383"/>
<circle cx="1096.9" cy="102.1" r="1.25" fill="#838383"/>
<circle cx="1111.3" cy="131.1" r="1.25" fill="#838383"/>
<circle cx="1116.8" cy="145.2" r="1.25" fill="#838383"/>
<circle cx="1114.0" cy="137.3" r="1.25" fill="#838383"/>
<circle cx="1114.7" cy="142.9" r="1.25" fill="#838383"/>
<circle cx="1103.1" cy="123.9" r="1.25" fill="#838383"/>
<circle cx="1102.4" cy="112.5" r="1.25" fill="#838383"/>
<circle cx="1109.0" cy="133.2" r="1.25" fill="#838383"/>
<circle cx="1111.3" cy="135.4" r="1.25" fill="#838383"/>
<circle cx="1117.8" cy="151.2" r="1.25" fill="#838383"/>
<circle cx="1097.8" cy="97.9" r="1.25" fill="#838383"/>
<circle cx="1106.3" cy="128.0" r="1.25" fill="#838383"/>
<circle cx="1100.5" cy="105.0" r="1.25" fill="#838383"/>
<circle cx="1114.1" cy="141.2" r="1.25" fill="#838383"/>
<circle cx="1109.9" cy="134.1" r="1.25" fill="#838383"/>
<circle cx="1096.6" cy="98.8" r="1.25" fill="#838383"/>
<circle cx="1100.9" cy="104.3" r="1.25" fill="#838383"/>
<circle cx="1117.0" cy="152.3" r="1.25" fill="#838383"/>
<circle cx="1098.8" cy="102.8" r="1.25" fill="#838383"/>
<circle cx="1109.1" cy="122.8" r="1.25" fill="#838383"/>
<circle cx="1106.3" cy="134.5" r="1.25" fill="#838383"/>
<circle cx="1098.8" cy="107.5" r="1.25" fill="#838383"/>
<circle cx="1097.5" cy="97.6" r="1.25" fill="#838383"/>
<circle cx="1117.7" cy="149.2" r="1.25" fill="#838383"/>
<circle cx="1105.5" cy="126.8" r="1.25" fill="#838383"/>
<circle cx="1097.1" cy="99.7" r="1.25" fill="#838383"/>
<circle cx="1102.5" cy="119.1" r="1.25" fill="#838383"/>
<circle cx="1107.9" cy="130.7" r="1.25" fill="#838383"/>
<circle cx="1116.4" cy="152.0" r="1.25" fill="#838383"/>
<circle cx="1109.9" cy="143.2" r="1.25" fill="#838383"/>
<circle cx="1105.5" cy="119.2" r="1.25" fill="#838383"/>
<circle cx="1116.8" cy="148.3" r="1.25" fill="#838383"/>
<circle cx="1103.1" cy="119.8" r="1.25" fill="#838383"/>
<circle cx="1118.1" cy="149.0" r="1.25" fill="#838383"/>
<circle cx="1106.2" cy="126.7" r="1.25" fill="#838383"/>
<circle cx="1112.0" cy="134.7" r="1.25" fill="#838383"/>
<circle cx="1108.6" cy="122.0" r="1.25" fill="#838383"/>
<circle cx="1111.9" cy="139.6" r="1.25" fill="#838383"/>
<circle cx="1097.0" cy="98.5" r="1.25" fill="#838383"/>
<circle cx="1099.1" cy="103.6" r="1.25" fill="#838383"/>
<circle cx="1114.9" cy="143.1" r="1.25" fill="#838383"/>
<circle cx="1096.8" cy="98.4" r="1.25" fill="#838383"/>
<circle cx="1115.2" cy="139.2" r="1.25" fill="#838383"/>
<circle cx="1106.1" cy="128.3" r="1.25" fill="#838383"/>
<circle cx="1111.0" cy="132.9" r="1.25" fill="#838383"/>
<circle cx="1101.1" cy="117.8" r="1.25" fill="#838383"/>
<circle cx="1116.6" cy="143.5" r="1.25" fill="#838383"/>
<circle cx="1111.4" cy="137.5" r="1.25" fill="#838383"/>
<circle cx="1105.3" cy="116.8" r="1.25" fill="#838383"/>
<circle cx="1099.8" cy="109.4" r="1.25" fill="#838383"/>
<circle cx="1109.5" cy="127.9" r="1.25" fill="#838383"/>
<circle cx="1097.4" cy="97.7" r="1.25" fill="#838383"/>
<circle cx="1101.6" cy="107.9" r="1.25" fill="#838383"/>
<circle cx="1111.3" cy="143.8" r="1.25" fill="#838383"/>
<circle cx="1108.1" cy="139.9" r="1.25" fill="#838383"/>
<circle cx="1109.9" cy="128.4" r="1.25" fill="#838383"/>
<circle cx="1113.8" cy="143.7" r="1.25" fill="#838383"/>
<circle cx="1101.0" cy="117.9" r="1.25" fill="#838383"/>
<circle cx="1115.5" cy="147.5" r="1.25" fill="#838383"/>
<circle cx="1110.0" cy="144.2" r="1.25" fill="#838383"/>
<circle cx="1117.8" cy="147.7" r="1.25" fill="#838383"/>
<circle cx="1117.4" cy="151.2" r="1.25" fill="#838383"/>
<circle cx="1097.4" cy="102.6" r="1.25" fill="#838383"/>
<circle cx="1099.6" cy="113.6" r="1.25" fill="#838383"/>
<circle cx="1098.3" cy="100.4" r="1.25" fill="#838383"/>
<circle cx="1110.9" cy="145.6" r="1.25" fill="#838383"/>
<circle cx="1104.6" cy="112.7" r="1.25" fill="#838383"/>
<circle cx="1104.6" cy="118.0" r="1.25" fill="#838383"/>
<circle cx="1111.4" cy="135.5" r="1.25" fill="#838383"/>
<circle cx="1117.7" cy="146.4" r="1.25" fill="#838383"/>
<circle cx="1113.2" cy="140.7" r="1.25" fill="#838383"/>
<circle cx="1098.2" cy="98.7" r="1.25" fill="#838383"/>
<circle cx="1097.8" cy="98.1" r="1.25" fill="#838383"/>
<circle cx="1107.8" cy="136.5" r="1.25" fill="#838383"/>
<circle cx="1100.7" cy="107.7" r="1.25" fill="#838383"/>
<circle cx="1117.3" cy="151.6" r="1.25" fill="#838383"/>
<circle cx="1106.7" cy="135.6" r="1.25" fill="#838383"/>
<circle cx="1114.8" cy="145.2" r="1.25" fill="#838383"/>
<circle cx="1100.2" cy="102.7" r="1.25" fill="#838383"/>
<circle cx="1106.8" cy="133.4" r="1.25" fill="#838383"/>
<circle cx="1104.0" cy="111.4" r="1.25" fill="#838383"/>
<circle cx="1119.1" cy="152.2" r="1.25" fill="#838383"/>
<circle cx="1098.8" cy="101.1" r="1.25" fill="#838383"/>
<circle cx="1099.9" cy="112.6" r="1.25" fill="#838383"/>
<circle cx="1112.6" cy="137.5" r="1.25" fill="#838383"/>
<circle cx="1097.0" cy="98.6" r="1.25" fill="#838383"/>
<circle cx="1110.7" cy="141.7" r="1.25" fill="#838383"/>
<circle cx="1113.0" cy="138.7" r="1.25" fill="#838383"/>
<circle cx="1118.5" cy="153.1" r="1.25" fill="#838383"/>
<circle cx="1097.8" cy="101.4" r="1.25" fill="#838383"/>
<circle cx="1098.8" cy="99.6" r="1.25" fill="#838383"/>
<circle cx="1113.2" cy="143.1" r="1.25" fill="#838383"/>
<circle cx="1096.3" cy="98.6" r="1.25" fill="#838383"/>
<circle cx="1111.8" cy="134.8" r="1.25" fill="#838383"/>
<circle cx="1108.9" cy="132.3" r="1.25" fill="#838383"/>
<circle cx="1098.8" cy="100.6" r="1.25" fill="#838383"/>
<circle cx="1099.7" cy="109.0" r="1.25" fill="#838383"/>
<circle cx="1099.2" cy="107.7" r="1.25" fill="#838383"/>
<circle cx="1106.3" cy="121.6" r="1.25" fill="#838383"/>
<circle cx="1112.3" cy="138.6" r="1.25" fill="#838383"/>
<circle cx="1103.3" cy="110.4" r="1.25" fill="#838383"/>
<circle cx="1111.9" cy="145.0" r="1.25" fill="#838383"/>
<circle cx="1116.0" cy="142.4" r="1.25" fill="#838383"/>
<circle cx="1117.5" cy="152.2" r="1.25" fill="#838383"/>
<circle cx="1107.2" cy="138.2" r="1.25" fill="#838383"/>
<circle cx="1097.3" cy="103.6" r="1.25" fill="#838383"/>
<circle cx="1115.5" cy="141.5" r="1.25" fill="#838383"/>
<circle cx="1116.0" cy="149.7" r="1.25" fill="#838383"/>
<circle cx="1103.2" cy="115.1" r="1.25" fill="#838383"/>
<circle cx="1113.6" cy="143.1" r="1.25" fill="#838383"/>
<circle cx="1103.6" cy="120.8" r="1.25" fill="#838383"/>
<circle cx="1100.2" cy="112.6" r="1.25" fill="#838383"/>
<circle cx="1106.3" cy="118.0" r="1.25" fill="#838383"/>
<circle cx="1100.8" cy="106.5" r="1.25" fill="#838383"/>
<circle cx="1106.9" cy="124.1" r="1.25" fill="#838383"/>
<circle cx="1103.9" cy="113.2" r="1.25" fill="#838383"/>
<circle cx="1114.6" cy="142.4" r="1.25" fill="#838383"/>
<circle cx="1112.2" cy="147.1" r="1.25" fill="#838383"/>
<circle cx="1107.0" cy="123.4" r="1.25" fill="#838383"/>
<circle cx="1105.6" cy="134.3" r="1.25" fill="#838383"/>
<circle cx="1109.3" cy="127.7" r="1.25" fill="#838383"/>
<circle cx="1100.0" cy="108.6" r="1.25" fill="#838383"/>
<circle cx="1097.2" cy="96.3" r="1.25" fill="#838383"/>
<circle cx="1105.4" cy="129.7" r="1.25" fill="#838383"/>
<circle cx="1098.3" cy="106.5" r="1.25" fill="#838383"/>
<circle cx="1118.2" cy="152.0" r="1.25" fill="#838383"/>
<circle cx="1117.3" cy="148.7" r="1.25" fill="#838383"/>
<circle cx="1096.9" cy="97.5" r="1.25" fill="#838383"/>
<circle cx="1098.2" cy="100.5" r="1.25" fill="#838383"/>
<circle cx="1099.6" cy="104.8" r="1.25" fill="#838383"/>
<circle cx="1110.3" cy="141.8" r="1.25" fill="#838383"/>
<circle cx="1098.5" cy="99.4" r="1.25" fill="#838383"/>
<circle cx="1104.5" cy="122.3" r="1.25" fill="#838383"/>
<circle cx="1114.3" cy="144.0" r="1.25" fill="#838383"/>
<circle cx="1116.9" cy="147.7" r="1.25" fill="#838383"/>
<circle cx="1111.8" cy="142.0" r="1.25" fill="#838383"/>
<circle cx="1106.0" cy="118.8" r="1.25" fill="#838383"/>
<circle cx="1118.8" cy="152.9" r="1.25" fill="#838383"/>
<circle cx="1105.5" cy="117.1" r="1.25" fill="#838383"/>
<circle cx="1113.7" cy="139.0" r="1.25" fill="#838383"/>
<circle cx="1100.7" cy="109.5" r="1.25" fill="#838383"/>
<circle cx="1118.6" cy="151.1" r="1.25" fill="#838383"/>
<circle cx="1109.2" cy="134.3" r="1.25" fill="#838383"/>
<circle cx="1107.1" cy="119.6" r="1.25" fill="#838383"/>
<circle cx="1113.2" cy="146.6" r="1.25" fill="#838383"/>
<circle cx="1111.0" cy="133.5" r="1.25" fill="#838383"/>
<circle cx="1107.8" cy="139.2" r="1.25" fill="#838383"/>
<circle cx="1132.1" cy="134.1" r="1.25" fill="#838383"/>
<circle cx="1130.8" cy="130.3" r="1.25" fill="#838383"/>
<circle cx="1142.5" cy="77.5" r="1.25" fill="#838383"/>
<circle cx="1126.9" cy="129.7" r="1.25" fill="#838383"/>
<circle cx="1132.8" cy="93.2" r="1.25" fill="#838383"/>
<circle cx="1120.7" cy="153.1" r="1.25" fill="#838383"/>
<circle cx="1139.3" cy="124.3" r="1.25" fill="#838383"/>
<circle cx="1140.4" cy="125.9" r="1.25" fill="#838383"/>
<circle cx="1127.9" cy="120.8" r="1.25" fill="#838383"/>
<circle cx="1120.9" cy="152.9" r="1.25" fill="#838383"/>
<circle cx="1141.3" cy="102.7" r="1.25" fill="#838383"/>
<circle cx="1125.0" cy="149.7" r="1.25" fill="#838383"/>
<circle cx="1132.7" cy="129.1" r="1.25" fill="#838383"/>
<circle cx="1123.6" cy="146.3" r="1.25" fill="#838383"/>
<circle cx="1141.3" cy="115.0" r="1.25" fill="#838383"/>
<circle cx="1124.6" cy="148.6" r="1.25" fill="#838383"/>
<circle cx="1142.2" cy="84.5" r="1.25" fill="#838383"/>
<circle cx="1122.7" cy="142.9" r="1.25" fill="#838383"/>
<circle cx="1142.4" cy="68.1" r="1.25" fill="#838383"/>
<circle cx="1126.3" cy="118.7" r="1.25" fill="#838383"/>
<circle cx="1137.9" cy="70.1" r="1.25" fill="#838383"/>
<circle cx="1139.5" cy="72.8" r="1.25" fill="#838383"/>
<circle cx="1134.1" cy="82.2" r="1.25" fill="#838383"/>
<circle cx="1134.1" cy="86.7" r="1.25" fill="#838383"/>
<circle cx="1139.7" cy="126.1" r="1.25" fill="#838383"/>
<circle cx="1134.5" cy="81.7" r="1.25" fill="#838383"/>
<circle cx="1126.8" cy="141.4" r="1.25" fill="#838383"/>
<circle cx="1132.4" cy="115.3" r="1.25" fill="#838383"/>
<circle cx="1122.7" cy="147.8" r="1.25" fill="#838383"/>
<circle cx="1141.3" cy="93.5" r="1.25" fill="#838383"/>
<circle cx="1122.4" cy="152.0" r="1.25" fill="#838383"/>
<circle cx="1131.4" cy="89.9" r="1.25" fill="#838383"/>
<circle cx="1134.0" cy="80.6" r="1.25" fill="#838383"/>
<circle cx="1135.8" cy="107.0" r="1.25" fill="#838383"/>
<circle cx="1132.6" cy="104.1" r="1.25" fill="#838383"/>
<circle cx="1134.9" cy="124.6" r="1.25" fill="#838383"/>
<circle cx="1136.4" cy="124.1" r="1.25" fill="#838383"/>
<circle cx="1132.6" cy="122.2" r="1.25" fill="#838383"/>
<circle cx="1121.7" cy="152.6" r="1.25" fill="#838383"/>
<circle cx="1129.5" cy="118.1" r="1.25" fill="#838383"/>
<circle cx="1140.1" cy="89.2" r="1.25" fill="#838383"/>
<circle cx="1128.1" cy="121.1" r="1.25" fill="#838383"/>
<circle cx="1127.1" cy="119.7" r="1.25" fill="#838383"/>
<circle cx="1124.7" cy="147.4" r="1.25" fill="#838383"/>
<circle cx="1123.6" cy="149.5" r="1.25" fill="#838383"/>
<circle cx="1126.6" cy="116.1" r="1.25" fill="#838383"/>
<circle cx="1129.5" cy="103.1" r="1.25" fill="#838383"/>
<circle cx="1139.9" cy="92.6" r="1.25" fill="#838383"/>
<circle cx="1126.8" cy="115.9" r="1.25" fill="#838383"/>
<circle cx="1132.1" cy="116.7" r="1.25" fill="#838383"/>
<circle cx="1136.6" cy="67.1" r="1.25" fill="#838383"/>
<circle cx="1142.5" cy="78.4" r="1.25" fill="#838383"/>
<circle cx="1140.3" cy="92.7" r="1.25" fill="#838383"/>
<circle cx="1133.7" cy="143.2" r="1.25" fill="#838383"/>
<circle cx="1141.8" cy="117.9" r="1.25" fill="#838383"/>
<circle cx="1136.0" cy="71.4" r="1.25" fill="#838383"/>
<circle cx="1141.8" cy="86.4" r="1.25" fill="#838383"/>
<circle cx="1122.1" cy="150.9" r="1.25" fill="#838383"/>
<circle cx="1132.8" cy="90.0" r="1.25" fill="#838383"/>
<circle cx="1136.6" cy="73.7" r="1.25" fill="#838383"/>
<circle cx="1133.8" cy="83.2" r="1.25" fill="#838383"/>
<circle cx="1141.2" cy="116.8" r="1.25" fill="#838383"/>
<circle cx="1124.7" cy="142.1" r="1.25" fill="#838383"/>
<circle cx="1131.2" cy="116.5" r="1.25" fill="#838383"/>
<circle cx="1120.5" cy="152.1" r="1.25" fill="#838383"/>
<circle cx="1131.5" cy="145.4" r="1.25" fill="#838383"/>
<circle cx="1141.2" cy="98.5" r="1.25" fill="#838383"/>
<circle cx="1130.1" cy="144.9" r="1.25" fill="#838383"/>
<circle cx="1125.2" cy="148.2" r="1.25" fill="#838383"/>
<circle cx="1133.5" cy="103.2" r="1.25" fill="#838383"/>
<circle cx="1138.6" cy="76.5" r="1.25" fill="#838383"/>
<circle cx="1140.8" cy="109.0" r="1.25" fill="#838383"/>
<circle cx="1128.9" cy="148.8" r="1.25" fill="#838383"/>
<circle cx="1133.9" cy="103.9" r="1.25" fill="#838383"/>
<circle cx="1134.7" cy="85.3" r="1.25" fill="#838383"/>
<circle cx="1140.1" cy="62.3" r="1.25" fill="#838383"/>
<circle cx="1137.1" cy="130.0" r="1.25" fill="#838383"/>
<circle cx="1127.8" cy="122.6" r="1.25" fill="#838383"/>
<circle cx="1131.3" cy="91.4" r="1.25" fill="#838383"/>
<circle cx="1135.0" cy="82.8" r="1.25" fill="#838383"/>
<circle cx="1142.3" cy="102.9" r="1.25" fill="#838383"/>
<circle cx="1137.5" cy="108.4" r="1.25" fill="#838383"/>
<circle cx="1122.6" cy="134.0" r="1.25" fill="#838383"/>
<circle cx="1120.3" cy="152.2" r="1.25" fill="#838383"/>
<circle cx="1134.3" cy="105.3" r="1.25" fill="#838383"/>
<circle cx="1140.8" cy="115.8" r="1.25" fill="#838383"/>
<circle cx="1122.7" cy="147.2" r="1.25" fill="#838383"/>
<circle cx="1129.0" cy="101.4" r="1.25" fill="#838383"/>
<circle cx="1119.1" cy="153.2" r="1.25" fill="#838383"/>
<circle cx="1123.3" cy="148.7" r="1.25" fill="#838383"/>
<circle cx="1129.6" cy="141.0" r="1.25" fill="#838383"/>
<circle cx="1130.5" cy="108.1" r="1.25" fill="#838383"/>
<circle cx="1135.0" cy="104.5" r="1.25" fill="#838383"/>
<circle cx="1130.1" cy="147.0" r="1.25" fill="#838383"/>
<circle cx="1123.8" cy="139.5" r="1.25" fill="#838383"/>
<circle cx="1125.4" cy="149.3" r="1.25" fill="#838383"/>
<circle cx="1140.6" cy="76.7" r="1.25" fill="#838383"/>
<circle cx="1128.9" cy="126.3" r="1.25" fill="#838383"/>
<circle cx="1120.9" cy="153.0" r="1.25" fill="#838383"/>
<circle cx="1132.4" cy="110.9" r="1.25" fill="#838383"/>
<circle cx="1134.8" cy="102.2" r="1.25" fill="#838383"/>
<circle cx="1140.6" cy="68.8" r="1.25" fill="#838383"/>
<circle cx="1135.1" cy="139.1" r="1.25" fill="#838383"/>
<circle cx="1122.4" cy="151.8" r="1.25" fill="#838383"/>
<circle cx="1128.5" cy="125.9" r="1.25" fill="#838383"/>
<circle cx="1124.5" cy="151.2" r="1.25" fill="#838383"/>
<circle cx="1120.7" cy="153.0" r="1.25" fill="#838383"/>
<circle cx="1136.4" cy="68.4" r="1.25" fill="#838383"/>
<circle cx="1129.1" cy="142.7" r="1.25" fill="#838383"/>
<circle cx="1136.6" cy="116.4" r="1.25" fill="#838383"/>
<circle cx="1134.1" cy="83.5" r="1.25" fill="#838383"/>
<circle cx="1127.6" cy="134.3" r="1.25" fill="#838383"/>
<circle cx="1124.5" cy="151.7" r="1.25" fill="#838383"/>
<circle cx="1139.4" cy="87.0" r="1.25" fill="#838383"/>
<circle cx="1120.6" cy="153.1" r="1.25" fill="#838383"/>
<circle cx="1136.2" cy="91.3" r="1.25" fill="#838383"/>
<circle cx="1136.0" cy="91.7" r="1.25" fill="#838383"/>
<circle cx="1122.9" cy="140.8" r="1.25" fill="#838383"/>
<circle cx="1122.0" cy="140.4" r="1.25" fill="#838383"/>
<circle cx="1136.0" cy="132.1" r="1.25" fill="#838383"/>
<circle cx="1140.6" cy="96.8" r="1.25" fill="#838383"/>
<circle cx="1133.3" cy="95.0" r="1.25" fill="#838383"/>
<circle cx="1133.6" cy="111.7" r="1.25" fill="#838383"/>
<circle cx="1137.4" cy="86.4" r="1.25" fill="#838383"/>
<circle cx="1131.8" cy="137.8" r="1.25" fill="#838383"/>
<circle cx="1137.4" cy="65.4" r="1.25" fill="#838383"/>
<circle cx="1134.0" cy="75.7" r="1.25" fill="#838383"/>
<circle cx="1125.4" cy="138.2" r="1.25" fill="#838383"/>
<circle cx="1141.9" cy="91.4" r="1.25" fill="#838383"/>
<circle cx="1134.6" cy="91.2" r="1.25" fill="#838383"/>
<circle cx="1136.7" cy="75.7" r="1.25" fill="#838383"/>
<circle cx="1134.8" cy="139.8" r="1.25" fill="#838383"/>
<circle cx="1138.2" cy="103.8" r="1.25" fill="#838383"/>
<circle cx="1142.3" cy="100.1" r="1.25" fill="#838383"/>
<circle cx="1139.8" cy="120.0" r="1.25" fill="#838383"/>
<circle cx="1140.7" cy="96.5" r="1.25" fill="#838383"/>
<circle cx="1137.6" cy="123.0" r="1.25" fill="#838383"/>
<circle cx="1131.8" cy="110.0" r="1.25" fill="#838383"/>
<circle cx="1129.7" cy="141.9" r="1.25" fill="#838383"/>
<circle cx="1126.6" cy="150.3" r="1.25" fill="#838383"/>
<circle cx="1120.8" cy="146.4" r="1.25" fill="#838383"/>
<circle cx="1128.5" cy="148.7" r="1.25" fill="#838383"/>
<circle cx="1125.6" cy="131.3" r="1.25" fill="#838383"/>
<circle cx="1119.8" cy="152.4" r="1.25" fill="#838383"/>
<circle cx="1137.8" cy="97.1" r="1.25" fill="#838383"/>
<circle cx="1139.2" cy="96.6" r="1.25" fill="#838383"/>
<circle cx="1123.7" cy="150.9" r="1.25" fill="#838383"/>
<circle cx="1138.2" cy="129.7" r="1.25" fill="#838383"/>
<circle cx="1141.5" cy="82.8" r="1.25" fill="#838383"/>
<circle cx="1125.6" cy="150.9" r="1.25" fill="#838383"/>
<circle cx="1142.1" cy="71.6" r="1.25" fill="#838383"/>
<circle cx="1122.0" cy="148.7" r="1.25" fill="#838383"/>
<circle cx="1120.5" cy="148.4" r="1.25" fill="#838383"/>
<circle cx="1140.8" cy="79.5" r="1.25" fill="#838383"/>
<circle cx="1140.1" cy="103.4" r="1.25" fill="#838383"/>
<circle cx="1132.4" cy="103.7" r="1.25" fill="#838383"/>
<circle cx="1120.9" cy="149.1" r="1.25" fill="#838383"/>
<circle cx="1133.4" cy="89.9" r="1.25" fill="#838383"/>
<circle cx="1129.9" cy="133.5" r="1.25" fill="#838383"/>
<circle cx="1120.4" cy="152.7" r="1.25" fill="#838383"/>
<circle cx="1133.6" cy="136.5" r="1.25" fill="#838383"/>
<circle cx="1129.3" cy="129.3" r="1.25" fill="#838383"/>
<circle cx="1139.3" cy="65.5" r="1.25" fill="#838383"/>
<circle cx="1139.0" cy="79.1" r="1.25" fill="#838383"/>
<circle cx="1121.3" cy="152.4" r="1.25" fill="#838383"/>
<circle cx="1138.5" cy="123.1" r="1.25" fill="#838383"/>
<circle cx="1135.6" cy="131.1" r="1.25" fill="#838383"/>
<circle cx="1129.9" cy="113.3" r="1.25" fill="#838383"/>
<circle cx="1134.3" cy="77.8" r="1.25" fill="#838383"/>
<circle cx="1134.2" cy="82.8" r="1.25" fill="#838383"/>
<circle cx="1118.5" cy="153.2" r="1.25" fill="#838383"/>
<circle cx="1142.3" cy="89.4" r="1.25" fill="#838383"/>
<circle cx="1119.7" cy="153.1" r="1.25" fill="#838383"/>
<circle cx="1139.1" cy="117.9" r="1.25" fill="#838383"/>
<circle cx="1127.1" cy="143.8" r="1.25" fill="#838383"/>
<circle cx="1137.9" cy="131.1" r="1.25" fill="#838383"/>
<circle cx="1136.2" cy="138.2" r="1.25" fill="#838383"/>
<circle cx="1125.6" cy="136.4" r="1.25" fill="#838383"/>
<circle cx="1136.1" cy="96.3" r="1.25" fill="#838383"/>
<circle cx="1126.0" cy="148.5" r="1.25" fill="#838383"/>
<circle cx="1125.9" cy="150.1" r="1.25" fill="#838383"/>
<circle cx="1139.8" cy="96.6" r="1.25" fill="#838383"/>
<circle cx="1133.3" cy="104.0" r="1.25" fill="#838383"/>
<circle cx="1131.3" cy="126.3" r="1.25" fill="#838383"/>
<circle cx="1134.8" cy="74.4" r="1.25" fill="#838383"/>
<circle cx="1134.3" cy="74.7" r="1.25" fill="#838383"/>
<circle cx="1124.7" cy="142.3" r="1.25" fill="#838383"/>
<circle cx="1138.5" cy="73.1" r="1.25" fill="#838383"/>
<circle cx="1140.0" cy="128.3" r="1.25" fill="#838383"/>
<circle cx="1128.1" cy="140.3" r="1.25" fill="#838383"/>
<circle cx="1138.6" cy="114.0" r="1.25" fill="#838383"/>
<circle cx="1138.4" cy="90.4" r="1.25" fill="#838383"/>
<circle cx="1128.9" cy="131.0" r="1.25" fill="#838383"/>
<circle cx="1130.1" cy="145.7" r="1.25" fill="#838383"/>
<circle cx="1139.0" cy="100.4" r="1.25" fill="#838383"/>
<circle cx="1126.0" cy="144.8" r="1.25" fill="#838383"/>
<circle cx="1137.9" cy="88.1" r="1.25" fill="#838383"/>
<circle cx="1124.9" cy="147.6" r="1.25" fill="#838383"/>
<circle cx="1136.0" cy="75.1" r="1.25" fill="#838383"/>
<circle cx="1124.9" cy="143.3" r="1.25" fill="#838383"/>
<circle cx="1140.6" cy="95.9" r="1.25" fill="#838383"/>
<circle cx="1122.3" cy="145.8" r="1.25" fill="#838383"/>
<circle cx="1126.5" cy="139.2" r="1.25" fill="#838383"/>
<circle cx="1128.8" cy="114.9" r="1.25" fill="#838383"/>
<circle cx="1126.1" cy="132.7" r="1.25" fill="#838383"/>
<circle cx="1140.8" cy="64.2" r="1.25" fill="#838383"/>
<circle cx="1128.5" cy="149.0" r="1.25" fill="#838383"/>
<circle cx="1123.4" cy="149.0" r="1.25" fill="#838383"/>
<circle cx="1141.3" cy="63.1" r="1.25" fill="#838383"/>
<circle cx="1135.7" cy="92.6" r="1.25" fill="#838383"/>
<circle cx="1129.3" cy="143.0" r="1.25" fill="#838383"/>
<circle cx="1122.0" cy="148.7" r="1.25" fill="#838383"/>
<circle cx="1124.4" cy="127.5" r="1.25" fill="#838383"/>
<circle cx="1138.7" cy="126.5" r="1.25" fill="#838383"/>
<circle cx="1136.1" cy="97.0" r="1.25" fill="#838383"/>
<circle cx="1134.9" cy="103.6" r="1.25" fill="#838383"/>
<circle cx="1126.9" cy="146.6" r="1.25" fill="#838383"/>
<circle cx="1137.8" cy="126.0" r="1.25" fill="#838383"/>
<circle cx="1138.0" cy="72.3" r="1.25" fill="#838383"/>
<circle cx="1138.7" cy="109.7" r="1.25" fill="#838383"/>
<circle cx="1128.5" cy="124.5" r="1.25" fill="#838383"/>
<circle cx="1141.1" cy="93.8" r="1.25" fill="#838383"/>
<circle cx="1139.2" cy="88.0" r="1.25" fill="#838383"/>
<circle cx="1139.6" cy="78.9" r="1.25" fill="#838383"/>
<circle cx="1134.9" cy="102.6" r="1.25" fill="#838383"/>
<circle cx="1133.2" cy="134.0" r="1.25" fill="#838383"/>
<circle cx="1123.6" cy="149.2" r="1.25" fill="#838383"/>
<circle cx="1139.4" cy="87.1" r="1.25" fill="#838383"/>
<circle cx="1131.8" cy="103.9" r="1.25" fill="#838383"/>
<circle cx="1132.6" cy="124.3" r="1.25" fill="#838383"/>
<circle cx="1134.0" cy="104.7" r="1.25" fill="#838383"/>
<circle cx="1141.6" cy="99.0" r="1.25" fill="#838383"/>
<circle cx="1129.1" cy="143.9" r="1.25" fill="#838383"/>
<circle cx="1135.8" cy="87.5" r="1.25" fill="#838383"/>
<circle cx="1142.1" cy="118.0" r="1.25" fill="#838383"/>
<circle cx="1122.2" cy="152.1" r="1.25" fill="#838383"/>
<circle cx="1129.7" cy="145.4" r="1.25" fill="#838383"/>
<circle cx="1139.1" cy="68.4" r="1.25" fill="#838383"/>
<circle cx="1125.1" cy="149.0" r="1.25" fill="#838383"/>
<circle cx="1138.0" cy="113.0" r="1.25" fill="#838383"/>
<circle cx="1136.6" cy="115.9" r="1.25" fill="#838383"/>
<circle cx="1137.8" cy="81.7" r="1.25" fill="#838383"/>
<circle cx="1141.6" cy="125.5" r="1.25" fill="#838383"/>
<circle cx="1130.4" cy="142.0" r="1.25" fill="#838383"/>
<circle cx="1138.1" cy="127.1" r="1.25" fill="#838383"/>
<circle cx="1129.9" cy="147.8" r="1.25" fill="#838383"/>
<circle cx="1124.3" cy="130.4" r="1.25" fill="#838383"/>
<circle cx="1128.3" cy="137.1" r="1.25" fill="#838383"/>
<circle cx="1120.5" cy="152.9" r="1.25" fill="#838383"/>
<circle cx="1137.1" cy="124.6" r="1.25" fill="#838383"/>
<circle cx="1127.9" cy="130.7" r="1.25" fill="#838383"/>
<circle cx="1131.8" cy="140.9" r="1.25" fill="#838383"/>
<circle cx="1139.2" cy="68.5" r="1.25" fill="#838383"/>
<circle cx="1132.4" cy="141.3" r="1.25" fill="#838383"/>
<circle cx="1127.8" cy="127.2" r="1.25" fill="#838383"/>
<circle cx="1128.2" cy="147.4" r="1.25" fill="#838383"/>
<circle cx="1138.8" cy="83.9" r="1.25" fill="#838383"/>
<circle cx="1134.9" cy="120.0" r="1.25" fill="#838383"/>
<circle cx="1135.0" cy="140.8" r="1.25" fill="#838383"/>
<circle cx="1134.6" cy="130.6" r="1.25" fill="#838383"/>
<circle cx="1140.7" cy="82.9" r="1.25" fill="#838383"/>
<circle cx="1130.3" cy="120.1" r="1.25" fill="#838383"/>
<circle cx="1128.6" cy="112.3" r="1.25" fill="#838383"/>
<circle cx="1136.2" cy="81.1" r="1.25" fill="#838383"/>
<circle cx="1135.7" cy="79.1" r="1.25" fill="#838383"/>
<circle cx="1128.2" cy="128.6" r="1.25" fill="#838383"/>
<circle cx="1127.8" cy="124.1" r="1.25" fill="#838383"/>
<circle cx="1119.8" cy="153.2" r="1.25" fill="#838383"/>
<circle cx="1126.0" cy="136.6" r="1.25" fill="#838383"/>
<circle cx="1130.3" cy="134.9" r="1.25" fill="#838383"/>
<circle cx="1136.0" cy="123.9" r="1.25" fill="#838383"/>
<circle cx="1133.8" cy="100.7" r="1.25" fill="#838383"/>
<circle cx="1141.5" cy="69.8" r="1.25" fill="#838383"/>
<circle cx="1124.8" cy="151.3" r="1.25" fill="#838383"/>
<circle cx="1140.8" cy="72.6" r="1.25" fill="#838383"/>
<circle cx="1129.3" cy="146.7" r="1.25" fill="#838383"/>
<circle cx="1128.5" cy="103.5" r="1.25" fill="#838383"/>
<circle cx="1121.5" cy="153.0" r="1.25" fill="#838383"/>
<circle cx="1132.2" cy="101.1" r="1.25" fill="#838383"/>
<circle cx="1121.3" cy="149.0" r="1.25" fill="#838383"/>
<circle cx="1132.6" cy="140.3" r="1.25" fill="#838383"/>
<circle cx="1125.8" cy="131.2" r="1.25" fill="#838383"/>
<circle cx="1140.9" cy="72.8" r="1.25" fill="#838383"/>
<circle cx="1131.3" cy="144.9" r="1.25" fill="#838383"/>
<circle cx="1139.3" cy="106.1" r="1.25" fill="#838383"/>
<circle cx="1141.1" cy="99.7" r="1.25" fill="#838383"/>
<circle cx="1140.8" cy="86.4" r="1.25" fill="#838383"/>
<circle cx="1130.1" cy="142.9" r="1.25" fill="#838383"/>
<circle cx="1138.4" cy="114.0" r="1.25" fill="#838383"/>
<circle cx="1140.5" cy="122.9" r="1.25" fill="#838383"/>
<circle cx="1130.9" cy="111.6" r="1.25" fill="#838383"/>
<circle cx="1123.5" cy="140.2" r="1.25" fill="#838383"/>
<circle cx="1126.6" cy="117.7" r="1.25" fill="#838383"/>
<circle cx="1127.6" cy="120.2" r="1.25" fill="#838383"/>
<circle cx="1134.0" cy="117.9" r="1.25" fill="#838383"/>
<circle cx="1140.4" cy="113.2" r="1.25" fill="#838383"/>
<circle cx="1120.7" cy="153.1" r="1.25" fill="#838383"/>
<circle cx="1134.9" cy="120.2" r="1.25" fill="#838383"/>
<circle cx="1140.4" cy="100.1" r="1.25" fill="#838383"/>
<circle cx="1131.3" cy="128.7" r="1.25" fill="#838383"/>
<circle cx="1136.4" cy="65.9" r="1.25" fill="#838383"/>
<circle cx="1137.4" cy="103.1" r="1.25" fill="#838383"/>
<circle cx="1121.9" cy="152.4" r="1.25" fill="#838383"/>
<circle cx="1141.7" cy="98.2" r="1.25" fill="#838383"/>
<circle cx="1139.8" cy="132.5" r="1.25" fill="#838383"/>
<circle cx="1134.0" cy="116.0" r="1.25" fill="#838383"/>
<circle cx="1134.6" cy="73.6" r="1.25" fill="#838383"/>
<circle cx="1137.9" cy="94.3" r="1.25" fill="#838383"/>
<circle cx="1138.1" cy="131.8" r="1.25" fill="#838383"/>
<circle cx="1132.1" cy="129.5" r="1.25" fill="#838383"/>
<circle cx="1138.8" cy="114.5" r="1.25" fill="#838383"/>
<circle cx="1127.1" cy="141.9" r="1.25" fill="#838383"/>
<circle cx="1134.4" cy="124.4" r="1.25" fill="#838383"/>
<circle cx="1135.5" cy="81.9" r="1.25" fill="#838383"/>
<circle cx="1136.6" cy="81.8" r="1.25" fill="#838383"/>
<circle cx="1130.3" cy="116.7" r="1.25" fill="#838383"/>
<circle cx="1142.1" cy="116.4" r="1.25" fill="#838383"/>
<circle cx="1139.7" cy="101.2" r="1.25" fill="#838383"/>
<circle cx="1128.3" cy="132.5" r="1.25" fill="#838383"/>
<circle cx="1132.0" cy="135.1" r="1.25" fill="#838383"/>
<circle cx="1139.5" cy="103.3" r="1.25" fill="#838383"/>
<circle cx="1123.1" cy="152.0" r="1.25" fill="#838383"/>
<circle cx="1138.7" cy="75.0" r="1.25" fill="#838383"/>
<circle cx="1121.4" cy="151.6" r="1.25" fill="#838383"/>
<circle cx="1119.4" cy="153.1" r="1.25" fill="#838383"/>
<circle cx="1139.6" cy="70.7" r="1.25" fill="#838383"/>
<circle cx="1139.7" cy="100.8" r="1.25" fill="#838383"/>
<circle cx="1139.5" cy="72.1" r="1.25" fill="#838383"/>
<circle cx="1137.1" cy="105.2" r="1.25" fill="#838383"/>
<circle cx="1137.4" cy="96.7" r="1.25" fill="#838383"/>
<circle cx="1132.1" cy="98.4" r="1.25" fill="#838383"/>
<circle cx="1135.2" cy="99.9" r="1.25" fill="#838383"/>
<circle cx="1132.3" cy="89.3" r="1.25" fill="#838383"/>
<circle cx="1121.3" cy="144.0" r="1.25" fill="#838383"/>
<circle cx="1141.6" cy="88.0" r="1.25" fill="#838383"/>
<circle cx="1133.9" cy="101.1" r="1.25" fill="#838383"/>
<circle cx="1140.4" cy="82.4" r="1.25" fill="#838383"/>
<circle cx="1130.9" cy="110.9" r="1.25" fill="#838383"/>
<circle cx="1129.4" cy="134.9" r="1.25" fill="#838383"/>
<circle cx="1130.0" cy="133.5" r="1.25" fill="#838383"/>
<circle cx="1141.6" cy="102.6" r="1.25" fill="#838383"/>
<circle cx="1123.1" cy="151.4" r="1.25" fill="#838383"/>
<circle cx="1120.2" cy="152.0" r="1.25" fill="#838383"/>
<circle cx="1138.2" cy="83.8" r="1.25" fill="#838383"/>
<circle cx="1138.3" cy="71.1" r="1.25" fill="#838383"/>
<circle cx="1120.5" cy="152.9" r="1.25" fill="#838383"/>
<circle cx="1141.6" cy="107.8" r="1.25" fill="#838383"/>
<circle cx="1139.3" cy="63.5" r="1.25" fill="#838383"/>
<circle cx="1126.0" cy="125.3" r="1.25" fill="#838383"/>
<circle cx="1131.5" cy="102.3" r="1.25" fill="#838383"/>
<circle cx="1120.7" cy="146.0" r="1.25" fill="#838383"/>
<circle cx="1120.1" cy="153.1" r="1.25" fill="#838383"/>
<circle cx="1129.7" cy="147.8" r="1.25" fill="#838383"/>
<circle cx="1126.9" cy="149.7" r="1.25" fill="#838383"/>
<circle cx="1120.5" cy="147.4" r="1.25" fill="#838383"/>
<circle cx="1133.2" cy="94.1" r="1.25" fill="#838383"/>
<circle cx="1132.7" cy="92.6" r="1.25" fill="#838383"/>
<circle cx="1124.0" cy="151.6" r="1.25" fill="#838383"/>
<circle cx="1140.8" cy="94.8" r="1.25" fill="#838383"/>
<circle cx="1131.4" cy="93.0" r="1.25" fill="#838383"/>
<circle cx="1138.4" cy="104.0" r="1.25" fill="#838383"/>
<circle cx="1141.4" cy="120.9" r="1.25" fill="#838383"/>
<circle cx="1136.3" cy="138.7" r="1.25" fill="#838383"/>
<circle cx="1130.2" cy="94.4" r="1.25" fill="#838383"/>
<circle cx="1121.2" cy="152.9" r="1.25" fill="#838383"/>
<circle cx="1133.2" cy="83.0" r="1.25" fill="#838383"/>
<circle cx="1134.8" cy="134.2" r="1.25" fill="#838383"/>
<circle cx="1130.8" cy="145.0" r="1.25" fill="#838383"/>
<circle cx="1126.5" cy="118.4" r="1.25" fill="#838383"/>
<circle cx="1133.9" cy="129.3" r="1.25" fill="#838383"/>
<circle cx="1136.8" cy="122.9" r="1.25" fill="#838383"/>
<circle cx="1129.1" cy="146.4" r="1.25" fill="#838383"/>
<circle cx="1135.1" cy="129.7" r="1.25" fill="#838383"/>
<circle cx="1134.2" cy="103.9" r="1.25" fill="#838383"/>
<circle cx="1138.4" cy="127.7" r="1.25" fill="#838383"/>
<circle cx="1141.0" cy="67.9" r="1.25" fill="#838383"/>
<circle cx="1131.5" cy="110.4" r="1.25" fill="#838383"/>
<circle cx="1125.9" cy="151.1" r="1.25" fill="#838383"/>
<circle cx="1140.4" cy="95.9" r="1.25" fill="#838383"/>
<circle cx="1133.4" cy="132.4" r="1.25" fill="#838383"/>
<circle cx="1141.5" cy="63.9" r="1.25" fill="#838383"/>
<circle cx="1132.3" cy="106.9" r="1.25" fill="#838383"/>
<circle cx="1140.5" cy="123.9" r="1.25" fill="#838383"/>
<circle cx="1136.2" cy="128.5" r="1.25" fill="#838383"/>
<circle cx="1141.0" cy="106.8" r="1.25" fill="#838383"/>
<circle cx="1135.1" cy="84.2" r="1.25" fill="#838383"/>
<circle cx="1118.7" cy="153.2" r="1.25" fill="#838383"/>
<circle cx="1135.0" cy="124.4" r="1.25" fill="#838383"/>
<circle cx="1141.4" cy="83.2" r="1.25" fill="#838383"/>
<circle cx="1123.8" cy="151.9" r="1.25" fill="#838383"/>
<circle cx="1141.2" cy="83.7" r="1.25" fill="#838383"/>
<circle cx="1131.3" cy="109.9" r="1.25" fill="#838383"/>
<circle cx="1140.8" cy="79.1" r="1.25" fill="#838383"/>
<circle cx="1141.4" cy="98.0" r="1.25" fill="#838383"/>
<circle cx="1124.6" cy="131.1" r="1.25" fill="#838383"/>
<circle cx="1139.4" cy="111.7" r="1.25" fill="#838383"/>
<circle cx="1130.9" cy="142.7" r="1.25" fill="#838383"/>
<circle cx="1136.9" cy="69.5" r="1.25" fill="#838383"/>
<circle cx="1137.8" cy="106.3" r="1.25" fill="#838383"/>
<circle cx="1128.7" cy="120.4" r="1.25" fill="#838383"/>
<circle cx="1133.1" cy="138.7" r="1.25" fill="#838383"/>
<circle cx="1136.7" cy="86.0" r="1.25" fill="#838383"/>
<circle cx="1126.4" cy="149.8" r="1.25" fill="#838383"/>
<circle cx="1133.9" cy="88.2" r="1.25" fill="#838383"/>
<circle cx="1141.0" cy="109.1" r="1.25" fill="#838383"/>
<circle cx="1138.5" cy="75.1" r="1.25" fill="#838383"/>
<circle cx="1135.5" cy="119.3" r="1.25" fill="#838383"/>
<circle cx="1123.4" cy="143.5" r="1.25" fill="#838383"/>
<circle cx="1129.5" cy="144.1" r="1.25" fill="#838383"/>
<circle cx="1133.6" cy="129.8" r="1.25" fill="#838383"/>
<circle cx="1133.6" cy="126.2" r="1.25" fill="#838383"/>
<circle cx="1121.0" cy="146.1" r="1.25" fill="#838383"/>
<circle cx="1139.0" cy="61.4" r="1.25" fill="#838383"/>
<circle cx="1125.8" cy="148.7" r="1.25" fill="#838383"/>
<circle cx="1133.4" cy="86.5" r="1.25" fill="#838383"/>
<circle cx="1132.7" cy="107.3" r="1.25" fill="#838383"/>
<circle cx="1126.4" cy="115.2" r="1.25" fill="#838383"/>
<circle cx="1123.9" cy="152.3" r="1.25" fill="#838383"/>
<circle cx="1137.9" cy="77.3" r="1.25" fill="#838383"/>
<circle cx="1131.1" cy="110.4" r="1.25" fill="#838383"/>
<circle cx="1136.2" cy="87.4" r="1.25" fill="#838383"/>
<circle cx="1140.9" cy="67.7" r="1.25" fill="#838383"/>
<circle cx="1142.2" cy="82.9" r="1.25" fill="#838383"/>
<circle cx="1122.3" cy="138.7" r="1.25" fill="#838383"/>
<circle cx="1123.5" cy="142.6" r="1.25" fill="#838383"/>
<circle cx="1120.3" cy="150.0" r="1.25" fill="#838383"/>
<circle cx="1140.5" cy="111.4" r="1.25" fill="#838383"/>
<circle cx="1141.6" cy="121.1" r="1.25" fill="#838383"/>
<circle cx="1135.1" cy="72.1" r="1.25" fill="#838383"/>
<circle cx="1133.5" cy="107.2" r="1.25" fill="#838383"/>
<circle cx="1129.5" cy="147.9" r="1.25" fill="#838383"/>
<circle cx="1130.3" cy="138.5" r="1.25" fill="#838383"/>
<circle cx="1142.0" cy="102.7" r="1.25" fill="#838383"/>
<circle cx="1134.4" cy="99.6" r="1.25" fill="#838383"/>
<circle cx="1127.6" cy="122.0" r="1.25" fill="#838383"/>
<circle cx="1142.5" cy="65.3" r="1.25" fill="#838383"/>
<circle cx="1121.9" cy="141.1" r="1.25" fill="#838383"/>
<circle cx="1127.1" cy="138.6" r="1.25" fill="#838383"/>
<circle cx="1141.8" cy="73.0" r="1.25" fill="#838383"/>
<circle cx="1133.3" cy="80.7" r="1.25" fill="#838383"/>
<circle cx="1139.4" cy="86.6" r="1.25" fill="#838383"/>
<circle cx="1142.4" cy="102.1" r="1.25" fill="#838383"/>
<circle cx="1120.6" cy="151.3" r="1.25" fill="#838383"/>
<circle cx="1141.9" cy="90.2" r="1.25" fill="#838383"/>
<circle cx="1133.2" cy="98.8" r="1.25" fill="#838383"/>
<circle cx="1138.9" cy="107.9" r="1.25" fill="#838383"/>
<circle cx="1123.0" cy="148.8" r="1.25" fill="#838383"/>
<circle cx="1123.7" cy="138.5" r="1.25" fill="#838383"/>
<circle cx="1128.3" cy="118.9" r="1.25" fill="#838383"/>
<circle cx="1123.6" cy="139.9" r="1.25" fill="#838383"/>
<circle cx="1129.4" cy="98.7" r="1.25" fill="#838383"/>
<circle cx="1132.5" cy="94.4" r="1.25" fill="#838383"/>
<circle cx="1123.8" cy="152.2" r="1.25" fill="#838383"/>
<circle cx="1134.3" cy="141.2" r="1.25" fill="#838383"/>
<circle cx="1141.6" cy="77.3" r="1.25" fill="#838383"/>
<circle cx="1125.2" cy="146.7" r="1.25" fill="#838383"/>
<circle cx="1127.9" cy="149.3" r="1.25" fill="#838383"/>
<circle cx="1139.0" cy="80.1" r="1.25" fill="#838383"/>
<circle cx="1130.9" cy="121.6" r="1.25" fill="#838383"/>
<circle cx="1137.3" cy="82.4" r="1.25" fill="#838383"/>
<circle cx="1130.3" cy="104.0" r="1.25" fill="#838383"/>
<circle cx="1122.1" cy="141.1" r="1.25" fill="#838383"/>
<circle cx="1137.0" cy="94.8" r="1.25" fill="#838383"/>
<circle cx="1129.9" cy="146.4" r="1.25" fill="#838383"/>
<circle cx="1128.3" cy="137.8" r="1.25" fill="#838383"/>
<circle cx="1123.7" cy="145.7" r="1.25" fill="#838383"/>
<circle cx="1136.1" cy="80.5" r="1.25" fill="#838383"/>
<circle cx="1126.5" cy="144.9" r="1.25" fill="#838383"/>
<circle cx="1138.0" cy="133.6" r="1.25" fill="#838383"/>
<circle cx="1129.4" cy="148.3" r="1.25" fill="#838383"/>
<circle cx="1125.2" cy="151.3" r="1.25" fill="#838383"/>
<circle cx="1131.9" cy="99.7" r="1.25" fill="#838383"/>
<circle cx="1130.2" cy="119.2" r="1.25" fill="#838383"/>
<circle cx="1124.9" cy="138.4" r="1.25" fill="#838383"/>
<circle cx="1141.4" cy="129.6" r="1.25" fill="#838383"/>
<circle cx="1142.1" cy="61.3" r="1.25" fill="#838383"/>
<circle cx="1122.5" cy="149.2" r="1.25" fill="#838383"/>
<circle cx="1134.7" cy="73.7" r="1.25" fill="#838383"/>
<circle cx="1133.9" cy="93.4" r="1.25" fill="#838383"/>
<circle cx="1136.4" cy="63.7" r="1.25" fill="#838383"/>
<circle cx="1135.7" cy="84.2" r="1.25" fill="#838383"/>
<circle cx="1120.5" cy="146.7" r="1.25" fill="#838383"/>
<circle cx="1137.9" cy="81.3" r="1.25" fill="#838383"/>
<circle cx="1126.4" cy="143.7" r="1.25" fill="#838383"/>
<circle cx="1136.4" cy="71.9" r="1.25" fill="#838383"/>
<circle cx="1129.2" cy="109.9" r="1.25" fill="#838383"/>
<circle cx="1130.4" cy="144.1" r="1.25" fill="#838383"/>
<circle cx="1132.5" cy="95.0" r="1.25" fill="#838383"/>
<circle cx="1120.6" cy="150.2" r="1.25" fill="#838383"/>
<circle cx="1135.1" cy="106.1" r="1.25" fill="#838383"/>
<circle cx="1125.3" cy="137.2" r="1.25" fill="#838383"/>
<circle cx="1138.3" cy="105.7" r="1.25" fill="#838383"/>
<circle cx="1138.3" cy="83.7" r="1.25" fill="#838383"/>
<circle cx="1122.0" cy="142.5" r="1.25" fill="#838383"/>
<circle cx="1135.4" cy="92.7" r="1.25" fill="#838383"/>
<circle cx="1130.9" cy="93.9" r="1.25" fill="#838383"/>
<circle cx="1135.7" cy="83.8" r="1.25" fill="#838383"/>
<circle cx="1141.3" cy="80.2" r="1.25" fill="#838383"/>
<circle cx="1125.8" cy="117.7" r="1.25" fill="#838383"/>
<circle cx="1138.4" cy="72.1" r="1.25" fill="#838383"/>
<circle cx="1136.0" cy="76.6" r="1.25" fill="#838383"/>
<circle cx="1131.4" cy="143.7" r="1.25" fill="#838383"/>
<circle cx="1126.4" cy="129.4" r="1.25" fill="#838383"/>
<circle cx="1134.4" cy="129.0" r="1.25" fill="#838383"/>
<circle cx="1119.8" cy="153.1" r="1.25" fill="#838383"/>
<circle cx="1133.9" cy="122.3" r="1.25" fill="#838383"/>
<circle cx="1127.2" cy="147.9" r="1.25" fill="#838383"/>
<circle cx="1141.2" cy="83.1" r="1.25" fill="#838383"/>
<circle cx="1134.8" cy="133.3" r="1.25" fill="#838383"/>
<circle cx="1137.6" cy="128.1" r="1.25" fill="#838383"/>
<circle cx="1125.3" cy="151.1" r="1.25" fill="#838383"/>
<circle cx="1139.1" cy="66.7" r="1.25" fill="#838383"/>
<circle cx="1134.8" cy="115.8" r="1.25" fill="#838383"/>
<circle cx="1126.7" cy="113.4" r="1.25" fill="#838383"/>
<circle cx="1137.5" cy="65.1" r="1.25" fill="#838383"/>
<circle cx="1122.2" cy="143.9" r="1.25" fill="#838383"/>
<circle cx="1133.9" cy="139.0" r="1.25" fill="#838383"/>
<circle cx="1120.0" cy="152.4" r="1.25" fill="#838383"/>
<circle cx="1132.2" cy="96.4" r="1.25" fill="#838383"/>
<circle cx="1121.2" cy="152.8" r="1.25" fill="#838383"/>
<circle cx="1135.2" cy="109.4" r="1.25" fill="#838383"/>
<circle cx="1131.1" cy="96.0" r="1.25" fill="#838383"/>
<circle cx="1140.0" cy="76.9" r="1.25" fill="#838383"/>
<circle cx="1120.3" cy="151.8" r="1.25" fill="#838383"/>
<circle cx="1134.1" cy="117.7" r="1.25" fill="#838383"/>
<circle cx="1124.0" cy="136.7" r="1.25" fill="#838383"/>
<circle cx="1126.6" cy="126.0" r="1.25" fill="#838383"/>
<circle cx="1140.5" cy="107.8" r="1.25" fill="#838383"/>
<circle cx="1126.8" cy="146.3" r="1.25" fill="#838383"/>
<circle cx="1132.7" cy="91.1" r="1.25" fill="#838383"/>
<circle cx="1141.9" cy="82.0" r="1.25" fill="#838383"/>
<circle cx="1131.7" cy="127.5" r="1.25" fill="#838383"/>
<circle cx="1138.0" cy="80.4" r="1.25" fill="#838383"/>
<circle cx="1141.5" cy="126.9" r="1.25" fill="#838383"/>
<circle cx="1135.2" cy="87.7" r="1.25" fill="#838383"/>
<circle cx="1126.5" cy="139.8" r="1.25" fill="#838383"/>
<circle cx="1142.2" cy="123.2" r="1.25" fill="#838383"/>
<circle cx="1141.7" cy="84.5" r="1.25" fill="#838383"/>
<circle cx="1141.0" cy="83.3" r="1.25" fill="#838383"/>
<circle cx="1122.7" cy="151.4" r="1.25" fill="#838383"/>
<circle cx="1142.1" cy="66.3" r="1.25" fill="#838383"/>
<circle cx="1128.0" cy="139.1" r="1.25" fill="#838383"/>
<circle cx="1133.5" cy="103.5" r="1.25" fill="#838383"/>
<circle cx="1127.4" cy="114.0" r="1.25" fill="#838383"/>
<circle cx="1133.6" cy="123.4" r="1.25" fill="#838383"/>
<circle cx="1120.0" cy="152.7" r="1.25" fill="#838383"/>
<circle cx="1141.1" cy="64.8" r="1.25" fill="#838383"/>
<circle cx="1139.9" cy="68.8" r="1.25" fill="#838383"/>
<circle cx="1141.4" cy="84.0" r="1.25" fill="#838383"/>
<circle cx="1134.3" cy="75.1" r="1.25" fill="#838383"/>
<circle cx="1132.2" cy="102.6" r="1.25" fill="#838383"/>
<circle cx="1132.9" cy="98.6" r="1.25" fill="#838383"/>
<circle cx="1141.4" cy="112.9" r="1.25" fill="#838383"/>
<circle cx="1131.7" cy="104.8" r="1.25" fill="#838383"/>
<circle cx="1133.2" cy="115.1" r="1.25" fill="#838383"/>
<circle cx="1137.6" cy="67.1" r="1.25" fill="#838383"/>
<circle cx="1133.2" cy="134.6" r="1.25" fill="#838383"/>
<circle cx="1126.0" cy="147.9" r="1.25" fill="#838383"/>
<circle cx="1139.3" cy="66.5" r="1.25" fill="#838383"/>
<circle cx="1129.2" cy="137.6" r="1.25" fill="#838383"/>
<circle cx="1128.7" cy="113.7" r="1.25" fill="#838383"/>
<circle cx="1121.6" cy="147.7" r="1.25" fill="#838383"/>
<circle cx="1128.9" cy="135.6" r="1.25" fill="#838383"/>
<circle cx="1126.2" cy="136.0" r="1.25" fill="#838383"/>
<circle cx="1124.3" cy="149.7" r="1.25" fill="#838383"/>
<circle cx="1138.8" cy="80.4" r="1.25" fill="#838383"/>
<circle cx="1137.1" cy="110.1" r="1.25" fill="#838383"/>
<circle cx="1130.5" cy="142.6" r="1.25" fill="#838383"/>
<circle cx="1134.6" cy="120.8" r="1.25" fill="#838383"/>
<circle cx="1134.8" cy="105.6" r="1.25" fill="#838383"/>
<circle cx="1126.6" cy="134.2" r="1.25" fill="#838383"/>
<circle cx="1128.5" cy="141.2" r="1.25" fill="#838383"/>
<circle cx="1134.6" cy="128.0" r="1.25" fill="#838383"/>
<circle cx="1120.3" cy="153.0" r="1.25" fill="#838383"/>
<circle cx="1135.6" cy="77.8" r="1.25" fill="#838383"/>
<circle cx="1134.5" cy="111.4" r="1.25" fill="#838383"/>
<circle cx="1138.0" cy="136.3" r="1.25" fill="#838383"/>
<circle cx="1134.9" cy="135.4" r="1.25" fill="#838383"/>
<circle cx="1121.4" cy="145.5" r="1.25" fill="#838383"/>
<circle cx="1137.6" cy="76.7" r="1.25" fill="#838383"/>
<circle cx="1122.3" cy="151.0" r="1.25" fill="#838383"/>
<circle cx="1137.8" cy="122.8" r="1.25" fill="#838383"/>
<circle cx="1122.2" cy="148.6" r="1.25" fill="#838383"/>
<circle cx="1140.8" cy="66.1" r="1.25" fill="#838383"/>
<circle cx="1124.4" cy="145.8" r="1.25" fill="#838383"/>
<circle cx="1135.3" cy="130.7" r="1.25" fill="#838383"/>
<circle cx="1140.4" cy="105.3" r="1.25" fill="#838383"/>
<circle cx="1137.7" cy="82.6" r="1.25" fill="#838383"/>
<circle cx="1139.5" cy="92.0" r="1.25" fill="#838383"/>
<circle cx="1136.5" cy="89.6" r="1.25" fill="#838383"/>
<circle cx="1139.4" cy="86.8" r="1.25" fill="#838383"/>
<circle cx="1135.7" cy="71.5" r="1.25" fill="#838383"/>
<circle cx="1133.7" cy="76.8" r="1.25" fill="#838383"/>
<circle cx="1137.9" cy="89.0" r="1.25" fill="#838383"/>
<circle cx="1141.9" cy="117.3" r="1.25" fill="#838383"/>
<circle cx="1133.6" cy="109.9" r="1.25" fill="#838383"/>
<circle cx="1141.2" cy="86.9" r="1.25" fill="#838383"/>
<circle cx="1133.4" cy="106.2" r="1.25" fill="#838383"/>
<circle cx="1133.0" cy="121.6" r="1.25" fill="#838383"/>
<circle cx="1133.8" cy="93.7" r="1.25" fill="#838383"/>
<circle cx="1134.2" cy="127.3" r="1.25" fill="#838383"/>
<circle cx="1129.7" cy="127.9" r="1.25" fill="#838383"/>
<circle cx="1140.9" cy="86.5" r="1.25" fill="#838383"/>
<circle cx="1133.2" cy="117.1" r="1.25" fill="#838383"/>
<circle cx="1124.7" cy="143.8" r="1.25" fill="#838383"/>
<circle cx="1126.7" cy="146.4" r="1.25" fill="#838383"/>
<circle cx="1128.6" cy="108.9" r="1.25" fill="#838383"/>
<circle cx="1137.3" cy="70.9" r="1.25" fill="#838383"/>
<circle cx="1141.0" cy="80.0" r="1.25" fill="#838383"/>
<circle cx="1137.2" cy="66.2" r="1.25" fill="#838383"/>
<circle cx="1140.9" cy="124.0" r="1.25" fill="#838383"/>
<circle cx="1119.6" cy="153.0" r="1.25" fill="#838383"/>
<circle cx="1134.7" cy="110.6" r="1.25" fill="#838383"/>
<circle cx="1140.8" cy="70.8" r="1.25" fill="#838383"/>
<circle cx="1142.5" cy="113.3" r="1.25" fill="#838383"/>
<circle cx="1134.6" cy="115.3" r="1.25" fill="#838383"/>
<circle cx="1134.5" cy="97.9" r="1.25" fill="#838383"/>
<circle cx="1134.0" cy="130.2" r="1.25" fill="#838383"/>
<circle cx="1140.1" cy="130.8" r="1.25" fill="#838383"/>
<circle cx="1136.2" cy="98.9" r="1.25" fill="#838383"/>
<circle cx="1123.3" cy="149.1" r="1.25" fill="#838383"/>
<circle cx="1134.4" cy="126.4" r="1.25" fill="#838383"/>
<circle cx="1140.7" cy="109.7" r="1.25" fill="#838383"/>
<circle cx="1139.2" cy="65.5" r="1.25" fill="#838383"/>
<circle cx="1135.8" cy="122.8" r="1.25" fill="#838383"/>
<circle cx="1138.8" cy="61.6" r="1.25" fill="#838383"/>
<circle cx="1139.6" cy="114.1" r="1.25" fill="#838383"/>
<circle cx="1124.6" cy="144.7" r="1.25" fill="#838383"/>
<circle cx="1141.5" cy="63.8" r="1.25" fill="#838383"/>
<circle cx="1127.8" cy="115.8" r="1.25" fill="#838383"/>
<circle cx="1140.0" cy="74.0" r="1.25" fill="#838383"/>
<circle cx="1142.5" cy="82.7" r="1.25" fill="#838383"/>
<circle cx="1137.6" cy="74.7" r="1.25" fill="#838383"/>
<circle cx="1123.9" cy="145.7" r="1.25" fill="#838383"/>
<circle cx="1134.3" cy="115.9" r="1.25" fill="#838383"/>
<circle cx="1123.3" cy="143.5" r="1.25" fill="#838383"/>
<circle cx="1136.9" cy="103.8" r="1.25" fill="#838383"/>
<circle cx="1141.0" cy="130.6" r="1.25" fill="#838383"/>
<circle cx="1129.0" cy="103.1" r="1.25" fill="#838383"/>
<circle cx="1138.7" cy="125.4" r="1.25" fill="#838383"/>
<circle cx="1134.0" cy="134.5" r="1.25" fill="#838383"/>
<circle cx="1119.2" cy="153.1" r="1.25" fill="#838383"/>
<circle cx="1138.6" cy="80.1" r="1.25" fill="#838383"/>
<circle cx="1131.7" cy="99.8" r="1.25" fill="#838383"/>
<circle cx="1135.0" cy="117.3" r="1.25" fill="#838383"/>
<circle cx="1131.9" cy="137.8" r="1.25" fill="#838383"/>
<circle cx="1142.5" cy="114.0" r="1.25" fill="#838383"/>
<circle cx="1133.5" cy="109.6" r="1.25" fill="#838383"/>
<circle cx="1121.8" cy="147.8" r="1.25" fill="#838383"/>
<circle cx="1132.3" cy="89.7" r="1.25" fill="#838383"/>
<circle cx="1121.5" cy="149.1" r="1.25" fill="#838383"/>
<circle cx="1139.7" cy="114.9" r="1.25" fill="#838383"/>
<circle cx="1139.7" cy="105.6" r="1.25" fill="#838383"/>
<circle cx="1119.9" cy="151.0" r="1.25" fill="#838383"/>
<circle cx="1134.9" cy="88.4" r="1.25" fill="#838383"/>
<circle cx="1134.5" cy="94.6" r="1.25" fill="#838383"/>
<circle cx="1123.9" cy="144.8" r="1.25" fill="#838383"/>
<circle cx="1127.9" cy="149.1" r="1.25" fill="#838383"/>
<circle cx="1132.6" cy="108.8" r="1.25" fill="#838383"/>
<circle cx="1131.7" cy="121.9" r="1.25" fill="#838383"/>
<circle cx="1125.0" cy="151.4" r="1.25" fill="#838383"/>
<circle cx="1141.9" cy="108.8" r="1.25" fill="#838383"/>
<circle cx="1135.8" cy="122.8" r="1.25" fill="#838383"/>
<circle cx="1122.4" cy="139.1" r="1.25" fill="#838383"/>
<circle cx="1141.5" cy="69.6" r="1.25" fill="#838383"/>
<circle cx="1137.8" cy="133.8" r="1.25" fill="#838383"/>
<circle cx="1135.4" cy="83.2" r="1.25" fill="#838383"/>
<circle cx="1142.0" cy="106.7" r="1.25" fill="#838383"/>
<circle cx="1141.7" cy="117.5" r="1.25" fill="#838383"/>
<circle cx="1127.3" cy="139.6" r="1.25" fill="#838383"/>
<circle cx="1132.9" cy="94.2" r="1.25" fill="#838383"/>
<circle cx="1137.2" cy="134.3" r="1.25" fill="#838383"/>
<circle cx="1139.0" cy="118.6" r="1.25" fill="#838383"/>
<circle cx="1124.2" cy="139.5" r="1.25" fill="#838383"/>
<circle cx="1126.6" cy="130.1" r="1.25" fill="#838383"/>
<circle cx="1138.0" cy="64.6" r="1.25" fill="#838383"/>
<circle cx="1128.7" cy="110.9" r="1.25" fill="#838383"/>
<circle cx="1132.6" cy="113.7" r="1.25" fill="#838383"/>
<circle cx="1125.2" cy="126.2" r="1.25" fill="#838383"/>
<circle cx="1128.4" cy="147.7" r="1.25" fill="#838383"/>
<circle cx="1127.5" cy="130.8" r="1.25" fill="#838383"/>
<circle cx="1124.6" cy="143.3" r="1.25" fill="#838383"/>
<circle cx="1122.1" cy="140.0" r="1.25" fill="#838383"/>
<circle cx="1133.6" cy="100.2" r="1.25" fill="#838383"/>
<circle cx="1128.6" cy="145.7" r="1.25" fill="#838383"/>
<circle cx="1122.2" cy="149.5" r="1.25" fill="#838383"/>
<circle cx="1134.0" cy="81.0" r="1.25" fill="#838383"/>
<circle cx="1139.6" cy="122.5" r="1.25" fill="#838383"/>
<circle cx="1133.8" cy="84.5" r="1.25" fill="#838383"/>
<circle cx="1136.1" cy="130.6" r="1.25" fill="#838383"/>
<circle cx="1141.3" cy="128.5" r="1.25" fill="#838383"/>
<circle cx="1133.9" cy="142.1" r="1.25" fill="#838383"/>
<circle cx="1129.6" cy="116.6" r="1.25" fill="#838383"/>
<circle cx="1127.2" cy="121.6" r="1.25" fill="#838383"/>
<circle cx="1133.2" cy="95.6" r="1.25" fill="#838383"/>
<circle cx="1139.2" cy="73.3" r="1.25" fill="#838383"/>
<circle cx="1127.9" cy="129.3" r="1.25" fill="#838383"/>
<circle cx="1130.9" cy="106.1" r="1.25" fill="#838383"/>
<circle cx="1134.8" cy="76.6" r="1.25" fill="#838383"/>
<circle cx="1135.0" cy="115.8" r="1.25" fill="#838383"/>
<circle cx="1134.0" cy="137.4" r="1.25" fill="#838383"/>
<circle cx="1136.0" cy="127.8" r="1.25" fill="#838383"/>
<circle cx="1131.8" cy="110.3" r="1.25" fill="#838383"/>
<circle cx="1125.4" cy="127.4" r="1.25" fill="#838383"/>
<circle cx="1131.2" cy="144.3" r="1.25" fill="#838383"/>
<circle cx="1134.0" cy="133.3" r="1.25" fill="#838383"/>
<circle cx="1125.3" cy="148.6" r="1.25" fill="#838383"/>
<circle cx="1132.4" cy="129.9" r="1.25" fill="#838383"/>
<circle cx="1123.4" cy="135.3" r="1.25" fill="#838383"/>
<circle cx="1126.4" cy="134.1" r="1.25" fill="#838383"/>
<circle cx="1127.5" cy="147.6" r="1.25" fill="#838383"/>
<circle cx="1128.6" cy="136.5" r="1.25" fill="#838383"/>
<circle cx="1140.8" cy="72.2" r="1.25" fill="#838383"/>
<circle cx="1141.4" cy="75.4" r="1.25" fill="#838383"/>
<circle cx="1123.2" cy="147.2" r="1.25" fill="#838383"/>
<circle cx="1122.3" cy="152.4" r="1.25" fill="#838383"/>
<circle cx="1133.7" cy="100.2" r="1.25" fill="#838383"/>
<circle cx="1136.3" cy="125.3" r="1.25" fill="#838383"/>
<circle cx="1132.9" cy="96.4" r="1.25" fill="#838383"/>
<circle cx="1136.4" cy="79.6" r="1.25" fill="#838383"/>
<circle cx="1130.8" cy="104.0" r="1.25" fill="#838383"/>
<circle cx="1128.8" cy="148.2" r="1.25" fill="#838383"/>
<circle cx="1139.1" cy="92.5" r="1.25" fill="#838383"/>
<circle cx="1119.8" cy="152.0" r="1.25" fill="#838383"/>
<circle cx="1123.0" cy="145.3" r="1.25" fill="#838383"/>
<circle cx="1128.7" cy="134.8" r="1.25" fill="#838383"/>
<circle cx="1121.1" cy="152.0" r="1.25" fill="#838383"/>
<circle cx="1131.0" cy="102.9" r="1.25" fill="#838383"/>
<circle cx="1138.4" cy="80.5" r="1.25" fill="#838383"/>
<circle cx="1133.3" cy="94.5" r="1.25" fill="#838383"/>
<circle cx="1136.9" cy="123.3" r="1.25" fill="#838383"/>
<circle cx="1123.2" cy="131.0" r="1.25" fill="#838383"/>
<circle cx="1140.4" cy="81.1" r="1.25" fill="#838383"/>
<circle cx="1122.9" cy="136.2" r="1.25" fill="#838383"/>
<circle cx="1138.9" cy="78.7" r="1.25" fill="#838383"/>
<circle cx="1121.0" cy="151.7" r="1.25" fill="#838383"/>
<circle cx="1127.5" cy="148.5" r="1.25" fill="#838383"/>
<circle cx="1133.6" cy="142.0" r="1.25" fill="#838383"/>
<circle cx="1131.8" cy="90.8" r="1.25" fill="#838383"/>
<circle cx="1134.7" cy="96.9" r="1.25" fill="#838383"/>
<circle cx="1140.5" cy="91.0" r="1.25" fill="#838383"/>
<circle cx="1123.6" cy="136.6" r="1.25" fill="#838383"/>
<circle cx="1138.5" cy="67.7" r="1.25" fill="#838383"/>
<circle cx="1140.3" cy="69.7" r="1.25" fill="#838383"/>
<circle cx="1140.5" cy="92.0" r="1.25" fill="#838383"/>
<circle cx="1134.7" cy="104.0" r="1.25" fill="#838383"/>
<circle cx="1123.8" cy="151.4" r="1.25" fill="#838383"/>
<circle cx="1133.7" cy="123.9" r="1.25" fill="#838383"/>
<circle cx="1136.0" cy="69.9" r="1.25" fill="#838383"/>
<circle cx="1131.6" cy="89.4" r="1.25" fill="#838383"/>
<circle cx="1140.1" cy="96.0" r="1.25" fill="#838383"/>
<circle cx="1130.2" cy="138.2" r="1.25" fill="#838383"/>
<circle cx="1140.2" cy="64.9" r="1.25" fill="#838383"/>
<circle cx="1130.5" cy="112.7" r="1.25" fill="#838383"/>
<circle cx="1122.0" cy="151.2" r="1.25" fill="#838383"/>
<circle cx="1127.9" cy="125.4" r="1.25" fill="#838383"/>
<circle cx="1124.8" cy="134.2" r="1.25" fill="#838383"/>
<circle cx="1138.4" cy="95.5" r="1.25" fill="#838383"/>
<circle cx="1125.1" cy="139.9" r="1.25" fill="#838383"/>
<circle cx="1133.4" cy="115.6" r="1.25" fill="#838383"/>
<circle cx="1137.8" cy="69.0" r="1.25" fill="#838383"/>
<circle cx="1136.9" cy="135.1" r="1.25" fill="#838383"/>
<circle cx="1126.5" cy="146.6" r="1.25" fill="#838383"/>
<circle cx="1137.1" cy="132.3" r="1.25" fill="#838383"/>
<circle cx="1138.7" cy="112.3" r="1.25" fill="#838383"/>
<circle cx="1128.7" cy="144.8" r="1.25" fill="#838383"/>
<circle cx="1134.5" cy="107.1" r="1.25" fill="#838383"/>
<circle cx="1140.6" cy="88.9" r="1.25" fill="#838383"/>
<circle cx="1122.9" cy="148.3" r="1.25" fill="#838383"/>
<circle cx="1127.0" cy="130.0" r="1.25" fill="#838383"/>
<circle cx="1121.5" cy="151.1" r="1.25" fill="#838383"/>
<circle cx="1130.2" cy="142.9" r="1.25" fill="#838383"/>
<circle cx="1126.8" cy="122.0" r="1.25" fill="#838383"/>
<circle cx="1130.8" cy="133.0" r="1.25" fill="#838383"/>
<circle cx="1126.4" cy="129.7" r="1.25" fill="#838383"/>
<circle cx="1119.9" cy="150.6" r="1.25" fill="#838383"/>
<circle cx="1141.1" cy="62.1" r="1.25" fill="#838383"/>
<circle cx="1125.5" cy="149.9" r="1.25" fill="#838383"/>
<circle cx="1139.9" cy="63.5" r="1.25" fill="#838383"/>
<circle cx="1124.6" cy="148.6" r="1.25" fill="#838383"/>
<circle cx="1128.0" cy="123.3" r="1.25" fill="#838383"/>
<circle cx="1126.6" cy="112.8" r="1.25" fill="#838383"/>
<circle cx="1139.8" cy="70.9" r="1.25" fill="#838383"/>
<circle cx="1141.6" cy="104.1" r="1.25" fill="#838383"/>
<circle cx="1132.2" cy="101.4" r="1.25" fill="#838383"/>
<circle cx="1123.7" cy="139.3" r="1.25" fill="#838383"/>
<circle cx="1122.5" cy="152.5" r="1.25" fill="#838383"/>
<circle cx="1135.8" cy="80.4" r="1.25" fill="#838383"/>
<circle cx="1128.9" cy="143.7" r="1.25" fill="#838383"/>
<circle cx="1141.9" cy="79.7" r="1.25" fill="#838383"/>
<circle cx="1130.0" cy="144.9" r="1.25" fill="#838383"/>
<circle cx="1140.0" cy="81.5" r="1.25" fill="#838383"/>
<circle cx="1126.0" cy="132.9" r="1.25" fill="#838383"/>
<circle cx="1135.8" cy="82.1" r="1.25" fill="#838383"/>
<circle cx="1133.5" cy="129.3" r="1.25" fill="#838383"/>
<circle cx="1138.7" cy="129.2" r="1.25" fill="#838383"/>
<circle cx="1122.2" cy="139.8" r="1.25" fill="#838383"/>
<circle cx="1136.8" cy="110.4" r="1.25" fill="#838383"/>
<circle cx="1139.6" cy="82.8" r="1.25" fill="#838383"/>
<circle cx="1142.1" cy="72.7" r="1.25" fill="#838383"/>
<circle cx="1134.1" cy="117.6" r="1.25" fill="#838383"/>
<circle cx="1124.0" cy="145.6" r="1.25" fill="#838383"/>
<circle cx="1128.5" cy="108.9" r="1.25" fill="#838383"/>
<circle cx="1131.6" cy="97.6" r="1.25" fill="#838383"/>
<circle cx="1142.0" cy="122.5" r="1.25" fill="#838383"/>
<circle cx="1120.3" cy="149.6" r="1.25" fill="#838383"/>
<circle cx="1128.0" cy="122.8" r="1.25" fill="#838383"/>
<circle cx="1130.3" cy="93.8" r="1.25" fill="#838383"/>
<circle cx="1141.2" cy="80.3" r="1.25" fill="#838383"/>
<circle cx="1136.3" cy="86.5" r="1.25" fill="#838383"/>
<circle cx="1132.7" cy="136.4" r="1.25" fill="#838383"/>
<circle cx="1133.0" cy="115.6" r="1.25" fill="#838383"/>
<circle cx="1130.7" cy="131.8" r="1.25" fill="#838383"/>
<circle cx="1140.2" cy="100.0" r="1.25" fill="#838383"/>
<circle cx="1135.8" cy="72.8" r="1.25" fill="#838383"/>
<circle cx="1129.6" cy="135.4" r="1.25" fill="#838383"/>
<circle cx="1132.4" cy="110.7" r="1.25" fill="#838383"/>
<circle cx="1122.1" cy="143.0" r="1.25" fill="#838383"/>
<circle cx="1130.6" cy="133.1" r="1.25" fill="#838383"/>
<circle cx="1142.0" cy="64.6" r="1.25" fill="#838383"/>
<circle cx="1142.3" cy="77.4" r="1.25" fill="#838383"/>
<circle cx="1140.0" cy="65.8" r="1.25" fill="#838383"/>
<circle cx="1132.8" cy="83.8" r="1.25" fill="#838383"/>
<circle cx="1137.4" cy="98.9" r="1.25" fill="#838383"/>
<circle cx="1131.7" cy="135.3" r="1.25" fill="#838383"/>
<circle cx="1139.0" cy="66.9" r="1.25" fill="#838383"/>
<circle cx="1132.8" cy="102.0" r="1.25" fill="#838383"/>
<circle cx="1138.7" cy="131.4" r="1.25" fill="#838383"/>
<circle cx="1120.3" cy="152.5" r="1.25" fill="#838383"/>
<circle cx="1135.2" cy="98.6" r="1.25" fill="#838383"/>
<circle cx="1125.1" cy="149.9" r="1.25" fill="#838383"/>
<circle cx="1134.2" cy="129.0" r="1.25" fill="#838383"/>
<circle cx="1133.9" cy="125.0" r="1.25" fill="#838383"/>
<circle cx="1133.1" cy="110.6" r="1.25" fill="#838383"/>
<circle cx="1121.9" cy="148.3" r="1.25" fill="#838383"/>
<circle cx="1138.7" cy="74.5" r="1.25" fill="#838383"/>
<circle cx="1128.2" cy="148.4" r="1.25" fill="#838383"/>
<circle cx="1123.2" cy="138.8" r="1.25" fill="#838383"/>
<circle cx="1130.4" cy="114.0" r="1.25" fill="#838383"/>
<circle cx="1135.0" cy="118.1" r="1.25" fill="#838383"/>
<circle cx="1129.5" cy="140.8" r="1.25" fill="#838383"/>
<circle cx="1125.0" cy="148.3" r="1.25" fill="#838383"/>
<circle cx="1128.6" cy="108.2" r="1.25" fill="#838383"/>
<circle cx="1125.4" cy="125.7" r="1.25" fill="#838383"/>
<circle cx="1140.1" cy="122.8" r="1.25" fill="#838383"/>
<circle cx="1138.0" cy="112.0" r="1.25" fill="#838383"/>
<circle cx="1132.3" cy="90.0" r="1.25" fill="#838383"/>
<circle cx="1140.9" cy="62.2" r="1.25" fill="#838383"/>
<circle cx="1127.4" cy="149.0" r="1.25" fill="#838383"/>
<circle cx="1127.0" cy="127.2" r="1.25" fill="#838383"/>
<circle cx="1140.6" cy="43.2" r="1.25" fill="#7d7d7d"/>
<circle cx="1138.7" cy="47.4" r="1.25" fill="#7d7d7d"/>
<circle cx="1138.4" cy="47.3" r="1.25" fill="#7d7d7d"/>
<circle cx="1139.8" cy="59.5" r="1.25" fill="#7d7d7d"/>
<circle cx="1140.8" cy="64.5" r="1.25" fill="#7d7d7d"/>
<circle cx="1139.5" cy="60.0" r="1.25" fill="#7d7d7d"/>
<circle cx="1140.0" cy="48.9" r="1.25" fill="#7d7d7d"/>
<circle cx="1140.9" cy="44.8" r="1.25" fill="#7d7d7d"/>
<circle cx="1140.6" cy="45.2" r="1.25" fill="#7d7d7d"/>
<circle cx="1142.0" cy="44.1" r="1.25" fill="#7d7d7d"/>
<circle cx="1095.3" cy="106.8" r="1.25" fill="#2b3bd6"/>
<circle cx="1093.1" cy="94.1" r="1.25" fill="#2b3bd6"/>
<circle cx="1093.6" cy="65.4" r="1.25" fill="#2b3bd6"/>
<circle cx="1094.3" cy="109.8" r="1.25" fill="#2b3bd6"/>
<circle cx="1094.6" cy="60.3" r="1.25" fill="#2b3bd6"/>
<circle cx="1084.2" cy="61.7" r="1.25" fill="#2b3bd6"/>
<circle cx="1085.4" cy="72.2" r="1.25" fill="#2b3bd6"/>
<circle cx="1093.5" cy="77.0" r="1.25" fill="#2b3bd6"/>
<circle cx="1096.0" cy="110.4" r="1.25" fill="#2b3bd6"/>
<circle cx="1087.9" cy="65.9" r="1.25" fill="#2b3bd6"/>
<circle cx="1093.9" cy="105.1" r="1.25" fill="#2b3bd6"/>
<circle cx="1081.7" cy="50.9" r="1.25" fill="#2b3bd6"/>
<circle cx="1092.6" cy="110.4" r="1.25" fill="#2b3bd6"/>
<circle cx="1095.7" cy="110.6" r="1.25" fill="#2b3bd6"/>
<circle cx="1094.5" cy="105.7" r="1.25" fill="#2b3bd6"/>
<circle cx="1094.4" cy="98.0" r="1.25" fill="#2b3bd6"/>
<circle cx="1086.2" cy="91.0" r="1.25" fill="#2b3bd6"/>
<circle cx="1081.1" cy="47.4" r="1.25" fill="#2b3bd6"/>
<circle cx="1093.5" cy="64.6" r="1.25" fill="#2b3bd6"/>
<circle cx="1069.7" cy="40.5" r="1.25" fill="#2b3bd6"/>
<circle cx="1086.3" cy="94.0" r="1.25" fill="#2b3bd6"/>
<circle cx="1094.0" cy="81.0" r="1.25" fill="#2b3bd6"/>
<circle cx="1070.8" cy="54.5" r="1.25" fill="#2b3bd6"/>
<circle cx="1095.5" cy="105.9" r="1.25" fill="#2b3bd6"/>
<circle cx="1089.5" cy="65.5" r="1.25" fill="#2b3bd6"/>
<circle cx="1086.5" cy="83.2" r="1.25" fill="#2b3bd6"/>
<circle cx="1078.9" cy="50.3" r="1.25" fill="#2b3bd6"/>
<circle cx="1082.1" cy="47.7" r="1.25" fill="#2b3bd6"/>
<circle cx="1094.7" cy="112.7" r="1.25" fill="#2b3bd6"/>
<circle cx="1095.8" cy="103.5" r="1.25" fill="#2b3bd6"/>
<circle cx="1084.2" cy="73.5" r="1.25" fill="#2b3bd6"/>
<circle cx="1093.7" cy="106.7" r="1.25" fill="#2b3bd6"/>
<circle cx="1091.4" cy="83.9" r="1.25" fill="#2b3bd6"/>
<circle cx="1089.1" cy="90.4" r="1.25" fill="#2b3bd6"/>
<circle cx="1095.7" cy="116.2" r="1.25" fill="#2b3bd6"/>
<circle cx="1083.5" cy="94.7" r="1.25" fill="#2b3bd6"/>
<circle cx="1094.9" cy="84.6" r="1.25" fill="#2b3bd6"/>
<circle cx="1094.6" cy="114.4" r="1.25" fill="#2b3bd6"/>
<circle cx="1088.1" cy="66.3" r="1.25" fill="#2b3bd6"/>
<circle cx="1093.4" cy="99.3" r="1.25" fill="#2b3bd6"/>
<circle cx="1093.9" cy="100.1" r="1.25" fill="#2b3bd6"/>
<circle cx="1094.7" cy="78.8" r="1.25" fill="#2b3bd6"/>
<circle cx="1070.7" cy="36.3" r="1.25" fill="#2b3bd6"/>
<circle cx="1093.2" cy="76.0" r="1.25" fill="#2b3bd6"/>
<circle cx="1084.2" cy="47.7" r="1.25" fill="#2b3bd6"/>
<circle cx="1092.0" cy="69.6" r="1.25" fill="#2b3bd6"/>
<circle cx="1088.2" cy="92.4" r="1.25" fill="#2b3bd6"/>
<circle cx="1085.4" cy="54.9" r="1.25" fill="#2b3bd6"/>
<circle cx="1083.0" cy="41.4" r="1.25" fill="#2b3bd6"/>
<circle cx="1094.8" cy="97.0" r="1.25" fill="#2b3bd6"/>
<circle cx="1090.8" cy="60.1" r="1.25" fill="#2b3bd6"/>
<circle cx="1089.1" cy="69.5" r="1.25" fill="#2b3bd6"/>
<circle cx="1089.7" cy="76.8" r="1.25" fill="#2b3bd6"/>
<circle cx="1094.9" cy="113.6" r="1.25" fill="#2b3bd6"/>
<circle cx="1094.9" cy="95.5" r="1.25" fill="#2b3bd6"/>
<circle cx="1089.2" cy="82.7" r="1.25" fill="#2b3bd6"/>
<circle cx="1091.9" cy="101.5" r="1.25" fill="#2b3bd6"/>
<circle cx="1086.1" cy="93.5" r="1.25" fill="#2b3bd6"/>
<circle cx="1096.1" cy="116.1" r="1.25" fill="#2b3bd6"/>
<circle cx="1090.1" cy="85.1" r="1.25" fill="#2b3bd6"/>
<circle cx="1088.5" cy="75.3" r="1.25" fill="#2b3bd6"/>
<circle cx="1091.9" cy="106.8" r="1.25" fill="#2b3bd6"/>
<circle cx="1091.6" cy="97.2" r="1.25" fill="#2b3bd6"/>
<circle cx="1091.2" cy="61.2" r="1.25" fill="#2b3bd6"/>
<circle cx="1078.0" cy="41.5" r="1.25" fill="#2b3bd6"/>
<circle cx="1081.7" cy="43.1" r="1.25" fill="#2b3bd6"/>
<circle cx="1094.2" cy="112.4" r="1.25" fill="#2b3bd6"/>
<circle cx="1094.9" cy="74.3" r="1.25" fill="#2b3bd6"/>
<circle cx="1093.2" cy="92.9" r="1.25" fill="#2b3bd6"/>
<circle cx="1094.0" cy="87.1" r="1.25" fill="#2b3bd6"/>
<circle cx="1095.2" cy="113.2" r="1.25" fill="#2b3bd6"/>
<circle cx="1076.8" cy="45.2" r="1.25" fill="#2b3bd6"/>
<circle cx="1089.2" cy="100.5" r="1.25" fill="#2b3bd6"/>
<circle cx="1093.3" cy="107.1" r="1.25" fill="#2b3bd6"/>
<circle cx="1087.4" cy="63.3" r="1.25" fill="#2b3bd6"/>
<circle cx="1072.0" cy="29.1" r="1.25" fill="#2b3bd6"/>
<circle cx="1078.6" cy="26.6" r="1.25" fill="#2b3bd6"/>
<circle cx="1080.1" cy="29.1" r="1.25" fill="#2b3bd6"/>
<circle cx="1082.9" cy="26.3" r="1.25" fill="#2b3bd6"/>
<circle cx="1078.5" cy="29.6" r="1.25" fill="#2b3bd6"/>
<circle cx="1085.3" cy="26.6" r="1.25" fill="#2b3bd6"/>
<circle cx="1070.0" cy="29.4" r="1.25" fill="#2b3bd6"/>
<circle cx="1065.1" cy="27.9" r="1.25" fill="#2b3bd6"/>
<circle cx="1087.5" cy="27.5" r="1.25" fill="#2b3bd6"/>
<circle cx="1089.0" cy="29.1" r="1.25" fill="#2b3bd6"/>
<circle cx="1069.6" cy="27.1" r="1.25" fill="#2b3bd6"/>
<circle cx="1080.1" cy="28.3" r="1.25" fill="#2b3bd6"/>
<circle cx="1081.1" cy="28.6" r="1.25" fill="#2b3bd6"/>
<circle cx="1060.8" cy="28.3" r="1.25" fill="#2b3bd6"/>
<circle cx="1146.4" cy="110.8" r="1.25" fill="#e8221c"/>
<circle cx="1147.2" cy="75.5" r="1.25" fill="#e8221c"/>
<circle cx="1145.0" cy="54.3" r="1.25" fill="#e8221c"/>
<circle cx="1142.8" cy="64.5" r="1.25" fill="#e8221c"/>
<circle cx="1150.9" cy="32.8" r="1.25" fill="#e8221c"/>
<circle cx="1143.1" cy="29.1" r="1.25" fill="#e8221c"/>
<circle cx="1152.4" cy="53.2" r="1.25" fill="#e8221c"/>
<circle cx="1143.2" cy="75.9" r="1.25" fill="#e8221c"/>
<circle cx="1143.4" cy="94.0" r="1.25" fill="#e8221c"/>
<circle cx="1143.4" cy="42.7" r="1.25" fill="#e8221c"/>
<circle cx="1147.9" cy="39.7" r="1.25" fill="#e8221c"/>
<circle cx="1149.6" cy="58.7" r="1.25" fill="#e8221c"/>
<circle cx="1150.8" cy="57.5" r="1.25" fill="#e8221c"/>
<circle cx="1146.0" cy="54.1" r="1.25" fill="#e8221c"/>
<circle cx="1145.2" cy="44.5" r="1.25" fill="#e8221c"/>
<circle cx="1153.8" cy="46.4" r="1.25" fill="#e8221c"/>
<circle cx="1146.0" cy="42.2" r="1.25" fill="#e8221c"/>
<circle cx="1158.9" cy="42.4" r="1.25" fill="#e8221c"/>
<circle cx="1145.0" cy="65.3" r="1.25" fill="#e8221c"/>
<circle cx="1155.8" cy="59.8" r="1.25" fill="#e8221c"/>
<circle cx="1142.8" cy="97.1" r="1.25" fill="#e8221c"/>
<circle cx="1150.3" cy="63.5" r="1.25" fill="#e8221c"/>
<circle cx="1146.8" cy="42.3" r="1.25" fill="#e8221c"/>
<circle cx="1145.1" cy="29.0" r="1.25" fill="#e8221c"/>
<circle cx="1143.4" cy="43.4" r="1.25" fill="#e8221c"/>
<circle cx="1143.2" cy="114.7" r="1.25" fill="#e8221c"/>
<circle cx="1145.6" cy="108.0" r="1.25" fill="#e8221c"/>
<circle cx="1144.1" cy="57.4" r="1.25" fill="#e8221c"/>
<circle cx="1147.2" cy="31.9" r="1.25" fill="#e8221c"/>
<circle cx="1143.6" cy="94.9" r="1.25" fill="#e8221c"/>
<circle cx="1157.3" cy="44.7" r="1.25" fill="#e8221c"/>
<circle cx="1142.9" cy="93.3" r="1.25" fill="#e8221c"/>
<circle cx="1145.1" cy="42.0" r="1.25" fill="#e8221c"/>
<circle cx="1149.8" cy="29.4" r="1.25" fill="#e8221c"/>
<circle cx="1146.2" cy="51.6" r="1.25" fill="#e8221c"/>
<circle cx="1148.5" cy="40.6" r="1.25" fill="#e8221c"/>
<circle cx="1153.0" cy="76.4" r="1.25" fill="#e8221c"/>
<circle cx="1148.2" cy="100.4" r="1.25" fill="#e8221c"/>
<circle cx="1146.8" cy="107.1" r="1.25" fill="#e8221c"/>
<circle cx="1153.2" cy="69.6" r="1.25" fill="#e8221c"/>
<circle cx="1146.1" cy="108.1" r="1.25" fill="#e8221c"/>
<circle cx="1154.2" cy="68.9" r="1.25" fill="#e8221c"/>
<circle cx="1152.3" cy="31.6" r="1.25" fill="#e8221c"/>
<circle cx="1144.3" cy="86.3" r="1.25" fill="#e8221c"/>
<circle cx="1146.2" cy="82.3" r="1.25" fill="#e8221c"/>
<circle cx="1143.9" cy="85.5" r="1.25" fill="#e8221c"/>
<circle cx="1151.7" cy="43.3" r="1.25" fill="#e8221c"/>
<circle cx="1154.1" cy="78.8" r="1.25" fill="#e8221c"/>
<circle cx="1147.5" cy="87.1" r="1.25" fill="#e8221c"/>
<circle cx="1150.3" cy="94.0" r="1.25" fill="#e8221c"/>
<circle cx="1145.6" cy="36.3" r="1.25" fill="#e8221c"/>
<circle cx="1155.3" cy="43.8" r="1.25" fill="#e8221c"/>
<circle cx="1145.2" cy="80.3" r="1.25" fill="#e8221c"/>
<circle cx="1154.5" cy="62.8" r="1.25" fill="#e8221c"/>
<circle cx="1148.3" cy="93.4" r="1.25" fill="#e8221c"/>
<circle cx="1147.7" cy="54.3" r="1.25" fill="#e8221c"/>
<circle cx="1155.2" cy="55.7" r="1.25" fill="#e8221c"/>
<circle cx="1151.3" cy="87.8" r="1.25" fill="#e8221c"/>
<circle cx="1151.4" cy="73.1" r="1.25" fill="#e8221c"/>
<circle cx="1144.4" cy="36.6" r="1.25" fill="#e8221c"/>
<circle cx="1160.1" cy="36.6" r="1.25" fill="#e8221c"/>
<circle cx="1142.9" cy="78.9" r="1.25" fill="#e8221c"/>
<circle cx="1150.9" cy="99.9" r="1.25" fill="#e8221c"/>
<circle cx="1147.6" cy="120.2" r="1.25" fill="#e8221c"/>
<circle cx="1148.8" cy="94.7" r="1.25" fill="#e8221c"/>
<circle cx="1143.5" cy="101.9" r="1.25" fill="#e8221c"/>
<circle cx="1143.3" cy="48.4" r="1.25" fill="#e8221c"/>
<circle cx="1153.4" cy="75.0" r="1.25" fill="#e8221c"/>
<circle cx="1156.3" cy="46.1" r="1.25" fill="#e8221c"/>
<circle cx="1143.0" cy="29.6" r="1.25" fill="#e8221c"/>
<circle cx="1150.4" cy="85.2" r="1.25" fill="#e8221c"/>
<circle cx="1143.0" cy="47.9" r="1.25" fill="#e8221c"/>
<circle cx="1144.6" cy="61.3" r="1.25" fill="#e8221c"/>
<circle cx="1143.4" cy="67.2" r="1.25" fill="#e8221c"/>
<circle cx="1148.7" cy="116.8" r="1.25" fill="#e8221c"/>
<circle cx="1152.5" cy="77.1" r="1.25" fill="#e8221c"/>
<circle cx="1145.9" cy="98.7" r="1.25" fill="#e8221c"/>
<circle cx="1145.5" cy="96.6" r="1.25" fill="#e8221c"/>
<circle cx="1148.5" cy="91.3" r="1.25" fill="#e8221c"/>
<circle cx="1148.8" cy="95.1" r="1.25" fill="#e8221c"/>
<circle cx="1143.5" cy="61.6" r="1.25" fill="#e8221c"/>
<circle cx="1147.4" cy="73.7" r="1.25" fill="#e8221c"/>
<circle cx="1146.9" cy="33.2" r="1.25" fill="#e8221c"/>
<circle cx="1152.6" cy="87.2" r="1.25" fill="#e8221c"/>
<circle cx="1154.2" cy="35.4" r="1.25" fill="#e8221c"/>
<circle cx="1143.8" cy="81.3" r="1.25" fill="#e8221c"/>
<circle cx="1143.1" cy="82.1" r="1.25" fill="#e8221c"/>
<circle cx="1145.4" cy="111.3" r="1.25" fill="#e8221c"/>
<circle cx="1148.4" cy="69.0" r="1.25" fill="#e8221c"/>
<circle cx="1142.8" cy="72.9" r="1.25" fill="#e8221c"/>
<circle cx="1151.5" cy="48.0" r="1.25" fill="#e8221c"/>
<circle cx="1149.0" cy="58.3" r="1.25" fill="#e8221c"/>
<circle cx="1158.3" cy="47.9" r="1.25" fill="#e8221c"/>
<circle cx="1153.8" cy="36.0" r="1.25" fill="#e8221c"/>
<circle cx="1145.4" cy="69.8" r="1.25" fill="#e8221c"/>
<circle cx="1155.3" cy="68.1" r="1.25" fill="#e8221c"/>
<circle cx="1146.1" cy="70.8" r="1.25" fill="#e8221c"/>
<circle cx="1143.6" cy="68.9" r="1.25" fill="#e8221c"/>
<circle cx="1142.8" cy="28.5" r="1.25" fill="#e8221c"/>
<circle cx="1156.3" cy="53.6" r="1.25" fill="#e8221c"/>
<circle cx="1148.2" cy="83.1" r="1.25" fill="#e8221c"/>
<circle cx="1144.5" cy="71.7" r="1.25" fill="#e8221c"/>
<circle cx="1143.3" cy="89.1" r="1.25" fill="#e8221c"/>
<circle cx="1155.1" cy="37.9" r="1.25" fill="#e8221c"/>
<circle cx="1143.1" cy="33.8" r="1.25" fill="#e8221c"/>
<circle cx="1146.1" cy="47.6" r="1.25" fill="#e8221c"/>
<circle cx="1149.5" cy="50.9" r="1.25" fill="#e8221c"/>
<circle cx="1154.0" cy="77.2" r="1.25" fill="#e8221c"/>
<circle cx="1146.0" cy="124.6" r="1.25" fill="#e8221c"/>
<circle cx="1149.6" cy="37.2" r="1.25" fill="#e8221c"/>
<circle cx="1157.6" cy="54.7" r="1.25" fill="#e8221c"/>
<circle cx="1148.3" cy="85.2" r="1.25" fill="#e8221c"/>
<circle cx="1147.0" cy="44.3" r="1.25" fill="#e8221c"/>
<circle cx="1147.2" cy="46.4" r="1.25" fill="#e8221c"/>
<circle cx="1149.9" cy="59.6" r="1.25" fill="#e8221c"/>
<circle cx="1146.0" cy="48.8" r="1.25" fill="#e8221c"/>
<circle cx="1149.3" cy="52.1" r="1.25" fill="#e8221c"/>
<circle cx="1148.0" cy="86.4" r="1.25" fill="#e8221c"/>
<circle cx="1152.4" cy="82.1" r="1.25" fill="#e8221c"/>
<circle cx="1151.4" cy="63.7" r="1.25" fill="#e8221c"/>
<circle cx="1147.8" cy="59.9" r="1.25" fill="#e8221c"/>
<circle cx="1143.5" cy="86.6" r="1.25" fill="#e8221c"/>
<circle cx="1150.2" cy="32.7" r="1.25" fill="#e8221c"/>
<circle cx="1148.6" cy="59.8" r="1.25" fill="#e8221c"/>
<circle cx="1145.1" cy="39.8" r="1.25" fill="#e8221c"/>
<circle cx="1150.0" cy="92.1" r="1.25" fill="#e8221c"/>
<circle cx="1150.0" cy="64.8" r="1.25" fill="#e8221c"/>
<circle cx="1157.5" cy="38.9" r="1.25" fill="#e8221c"/>
<circle cx="1143.0" cy="36.3" r="1.25" fill="#e8221c"/>
<circle cx="1152.5" cy="71.3" r="1.25" fill="#e8221c"/>
<circle cx="1143.7" cy="39.5" r="1.25" fill="#e8221c"/>
<circle cx="1144.1" cy="94.3" r="1.25" fill="#e8221c"/>
<circle cx="1144.7" cy="101.2" r="1.25" fill="#e8221c"/>
<circle cx="1149.6" cy="40.4" r="1.25" fill="#e8221c"/>
<circle cx="1143.2" cy="65.4" r="1.25" fill="#e8221c"/>
<circle cx="1155.4" cy="70.1" r="1.25" fill="#e8221c"/>
<circle cx="1148.0" cy="47.5" r="1.25" fill="#e8221c"/>
<circle cx="1152.8" cy="63.3" r="1.25" fill="#e8221c"/>
<circle cx="1144.0" cy="43.3" r="1.25" fill="#e8221c"/>
<circle cx="1146.7" cy="48.6" r="1.25" fill="#e8221c"/>
<circle cx="1144.7" cy="60.0" r="1.25" fill="#e8221c"/>
<circle cx="1145.5" cy="72.2" r="1.25" fill="#e8221c"/>
<circle cx="1142.8" cy="71.3" r="1.25" fill="#e8221c"/>
<circle cx="1147.4" cy="88.8" r="1.25" fill="#e8221c"/>
<circle cx="1143.4" cy="108.5" r="1.25" fill="#e8221c"/>
<circle cx="1145.4" cy="46.0" r="1.25" fill="#e8221c"/>
<circle cx="1144.4" cy="76.4" r="1.25" fill="#e8221c"/>
<circle cx="1143.4" cy="38.4" r="1.25" fill="#e8221c"/>
<circle cx="1155.2" cy="51.6" r="1.25" fill="#e8221c"/>
<circle cx="1145.8" cy="88.7" r="1.25" fill="#e8221c"/>
<circle cx="1151.4" cy="41.1" r="1.25" fill="#e8221c"/>
<circle cx="1143.0" cy="72.1" r="1.25" fill="#e8221c"/>
<circle cx="1146.1" cy="66.2" r="1.25" fill="#e8221c"/>
<circle cx="1145.7" cy="46.4" r="1.25" fill="#e8221c"/>
<circle cx="1149.8" cy="69.0" r="1.25" fill="#e8221c"/>
<circle cx="1146.7" cy="39.9" r="1.25" fill="#e8221c"/>
<circle cx="1148.6" cy="71.0" r="1.25" fill="#e8221c"/>
<circle cx="1144.6" cy="32.8" r="1.25" fill="#e8221c"/>
<circle cx="1154.2" cy="30.1" r="1.25" fill="#e8221c"/>
<circle cx="1149.8" cy="72.1" r="1.25" fill="#e8221c"/>
<circle cx="1155.9" cy="99.3" r="1.25" fill="#e8221c"/>
<circle cx="1163.9" cy="77.2" r="1.25" fill="#e8221c"/>
<circle cx="1159.6" cy="68.8" r="1.25" fill="#e8221c"/>
<circle cx="1166.6" cy="50.2" r="1.25" fill="#e8221c"/>
<circle cx="1150.3" cy="62.0" r="1.25" fill="#e8221c"/>
<circle cx="1158.4" cy="71.3" r="1.25" fill="#e8221c"/>
<circle cx="1165.4" cy="74.7" r="1.25" fill="#e8221c"/>
<circle cx="1158.6" cy="40.7" r="1.25" fill="#e8221c"/>
<circle cx="1158.0" cy="69.2" r="1.25" fill="#e8221c"/>
<circle cx="1159.3" cy="45.4" r="1.25" fill="#e8221c"/>
<circle cx="1169.3" cy="27.1" r="1.25" fill="#e8221c"/>
<circle cx="1160.6" cy="29.7" r="1.25" fill="#e8221c"/>
<circle cx="1169.6" cy="27.8" r="1.25" fill="#e8221c"/>
<circle cx="1172.6" cy="27.0" r="1.25" fill="#e8221c"/>
<circle cx="1151.3" cy="29.0" r="1.25" fill="#e8221c"/>
<circle cx="1150.0" cy="26.8" r="1.25" fill="#e8221c"/>
<circle cx="1150.8" cy="29.5" r="1.25" fill="#e8221c"/>
<circle cx="1172.0" cy="27.7" r="1.25" fill="#e8221c"/>
<circle cx="1149.3" cy="27.3" r="1.25" fill="#e8221c"/>
<circle cx="1170.7" cy="28.1" r="1.25" fill="#e8221c"/>
<circle cx="1149.2" cy="27.3" r="1.25" fill="#e8221c"/>
<circle cx="1161.1" cy="27.7" r="1.25" fill="#e8221c"/>
<circle cx="1180.0" cy="26.8" r="1.25" fill="#e8221c"/>
<circle cx="1175.9" cy="29.3" r="1.25" fill="#e8221c"/>
<circle cx="1158.4" cy="27.9" r="1.25" fill="#e8221c"/>
<circle cx="1147.7" cy="26.2" r="1.25" fill="#e8221c"/>
<circle cx="1156.4" cy="28.9" r="1.25" fill="#e8221c"/>
<circle cx="1157.7" cy="28.9" r="1.25" fill="#e8221c"/>
<circle cx="1175.5" cy="27.8" r="1.25" fill="#e8221c"/>
<circle cx="1164.1" cy="28.3" r="1.25" fill="#e8221c"/>
<circle cx="1149.1" cy="28.7" r="1.25" fill="#e8221c"/>
<circle cx="1175.7" cy="26.9" r="1.25" fill="#e8221c"/>
<circle cx="1175.4" cy="28.9" r="1.25" fill="#e8221c"/>
<circle cx="1154.0" cy="29.7" r="1.25" fill="#e8221c"/>
<circle cx="1165.0" cy="28.5" r="1.25" fill="#e8221c"/>
</g>
<line x1="1096.20" y1="26.3" x2="1096.20" y2="158.8" stroke="#111" stroke-width="0.9" stroke-dasharray="2,1.6"/>
<line x1="1142.80" y1="26.3" x2="1142.80" y2="158.8" stroke="#111" stroke-width="0.9" stroke-dasharray="2,1.6"/>
<line x1="1033.7" y1="152.7" x2="1205.3" y2="152.7" stroke="#111" stroke-width="0.9" stroke-dasharray="2,1.6"/>
<rect x="1033.7" y="26.3" width="171.6" height="132.5" fill="none" stroke="#4d4d4d" stroke-width="0.9"/>
<text x="1030.00" y="155.40" font-size="6.4" text-anchor="end" fill="#4d4d4d" >0</text>
<line x1="1031.9" y1="153.20" x2="1033.7" y2="153.20" stroke="#4d4d4d" stroke-width="0.7"/>
<text x="1030.00" y="117.80" font-size="6.4" text-anchor="end" fill="#4d4d4d" >100</text>
<line x1="1031.9" y1="115.60" x2="1033.7" y2="115.60" stroke="#4d4d4d" stroke-width="0.7"/>
<text x="1030.00" y="80.20" font-size="6.4" text-anchor="end" fill="#4d4d4d" >200</text>
<line x1="1031.9" y1="78.00" x2="1033.7" y2="78.00" stroke="#4d4d4d" stroke-width="0.7"/>
<text x="1030.00" y="42.60" font-size="6.4" text-anchor="end" fill="#4d4d4d" >300</text>
<line x1="1031.9" y1="40.40" x2="1033.7" y2="40.40" stroke="#4d4d4d" stroke-width="0.7"/>
<text x="1072.90" y="168.60" font-size="6.4" text-anchor="middle" fill="#4d4d4d" >-2</text>
<line x1="1072.90" y1="158.8" x2="1072.90" y2="160.60000000000002" stroke="#4d4d4d" stroke-width="0.7"/>
<text x="1119.50" y="168.60" font-size="6.4" text-anchor="middle" fill="#4d4d4d" >0</text>
<line x1="1119.50" y1="158.8" x2="1119.50" y2="160.60000000000002" stroke="#4d4d4d" stroke-width="0.7"/>
<text x="1166.10" y="168.60" font-size="6.4" text-anchor="middle" fill="#4d4d4d" >2</text>
<line x1="1166.10" y1="158.8" x2="1166.10" y2="160.60000000000002" stroke="#4d4d4d" stroke-width="0.7"/>
<text x="1038.00" y="36.50" font-size="4.7" text-anchor="start" fill="#1e1e1e" stroke="#1e1e1e" stroke-width="0.12">GPX3</text>
<text x="1040.50" y="50.50" font-size="4.7" text-anchor="start" fill="#1e1e1e" stroke="#1e1e1e" stroke-width="0.12">SPARCL1</text>
<text x="1050.60" y="79.20" font-size="4.7" text-anchor="start" fill="#1e1e1e" stroke="#1e1e1e" stroke-width="0.12">CD59</text>
<text x="1068.70" y="93.40" font-size="4.7" text-anchor="start" fill="#1e1e1e" stroke="#1e1e1e" stroke-width="0.12">IFITM3</text>
<text x="1181.60" y="35.60" font-size="4.7" text-anchor="start" fill="#1e1e1e" stroke="#1e1e1e" stroke-width="0.12">GAPDH</text>
<text x="1157.20" y="45.50" font-size="4.7" text-anchor="start" fill="#1e1e1e" stroke="#1e1e1e" stroke-width="0.12">ENO1</text>
<text x="1178.80" y="59.20" font-size="4.7" text-anchor="start" fill="#1e1e1e" stroke="#1e1e1e" stroke-width="0.12">TPI1</text>
<text x="1151.20" y="73.60" font-size="4.7" text-anchor="start" fill="#1e1e1e" stroke="#1e1e1e" stroke-width="0.12">MARCKSL1</text>
<text x="1168.90" y="95.60" font-size="4.7" text-anchor="start" fill="#1e1e1e" stroke="#1e1e1e" stroke-width="0.12">YBX1</text>
<line x1="1052" y1="34.5" x2="1058" y2="31" stroke="#333" stroke-width="0.6"/>
<line x1="1064" y1="76.5" x2="1078" y2="79.5" stroke="#333" stroke-width="0.6"/>
<line x1="1165" y1="56.5" x2="1177.5" y2="55" stroke="#333" stroke-width="0.6"/>
<line x1="1158" y1="92.5" x2="1167.5" y2="93.2" stroke="#333" stroke-width="0.6"/>
<line x1="1167" y1="40" x2="1170" y2="33" stroke="#333" stroke-width="0.6"/>
<line x1="1031.7" y1="221.9" x2="1031.7" y2="340.2" stroke="#555" stroke-width="0.7"/>
<line x1="1031.7" y1="340.2" x2="1223.2" y2="340.2" stroke="#555" stroke-width="0.7"/>
<text x="1029.60" y="225.50" font-size="4.2" text-anchor="end" fill="#4d4d4d" >1.0</text>
<text x="1029.60" y="257.10" font-size="4.2" text-anchor="end" fill="#4d4d4d" >0.5</text>
<text x="1029.60" y="288.70" font-size="4.2" text-anchor="end" fill="#4d4d4d" >0.0</text>
<text x="1029.60" y="320.30" font-size="4.2" text-anchor="end" fill="#4d4d4d" >-0.5</text>
<text x="1022.40" y="280.60" font-size="4.4" text-anchor="middle" fill="#222" font-weight="bold" transform="rotate(-90 1022.4 280.6)">GSVA_score</text>
<text x="1084.10" y="346.00" font-size="4.4" text-anchor="middle" fill="#333" >Cancer</text>
<text x="1171.10" y="346.00" font-size="4.4" text-anchor="middle" fill="#333" >Normal</text>
<line x1="1084.1" y1="249.3" x2="1084.1" y2="319.0" stroke="#333" stroke-width="0.7"/>
<line x1="1070.8" y1="249.3" x2="1096.4" y2="249.3" stroke="#333" stroke-width="0.8"/>
<line x1="1070.8" y1="319.0" x2="1096.4" y2="319.0" stroke="#333" stroke-width="0.8"/>
<rect x="1061.9" y="266.0" width="43.9" height="25.5" fill="#f8766d" stroke="#333" stroke-width="0.6"/>
<line x1="1061.9" y1="279.2" x2="1105.8" y2="279.2" stroke="#333" stroke-width="0.9"/>
<circle cx="1073.2" cy="291.6" r="0.55" fill="#b22a22" opacity="0.8"/>
<circle cx="1078.7" cy="296.2" r="0.55" fill="#b22a22" opacity="0.8"/>
<circle cx="1089.3" cy="254.4" r="0.55" fill="#b22a22" opacity="0.8"/>
<circle cx="1063.8" cy="314.4" r="0.55" fill="#b22a22" opacity="0.8"/>
<circle cx="1074.1" cy="267.5" r="0.55" fill="#b22a22" opacity="0.8"/>
<circle cx="1104.8" cy="285.8" r="0.55" fill="#b22a22" opacity="0.8"/>
<circle cx="1098.1" cy="286.3" r="0.55" fill="#b22a22" opacity="0.8"/>
<circle cx="1089.9" cy="261.0" r="0.55" fill="#b22a22" opacity="0.8"/>
<circle cx="1089.7" cy="316.7" r="0.55" fill="#b22a22" opacity="0.8"/>
<circle cx="1085.1" cy="306.9" r="0.55" fill="#b22a22" opacity="0.8"/>
<circle cx="1091.2" cy="254.3" r="0.55" fill="#b22a22" opacity="0.8"/>
<circle cx="1094.9" cy="295.2" r="0.55" fill="#b22a22" opacity="0.8"/>
<circle cx="1075.8" cy="251.7" r="0.55" fill="#b22a22" opacity="0.8"/>
<circle cx="1099.3" cy="286.0" r="0.55" fill="#b22a22" opacity="0.8"/>
<circle cx="1093.2" cy="317.6" r="0.55" fill="#b22a22" opacity="0.8"/>
<circle cx="1093.0" cy="320.9" r="0.55" fill="#b22a22" opacity="0.8"/>
<circle cx="1079.7" cy="311.5" r="0.55" fill="#b22a22" opacity="0.8"/>
<circle cx="1081.8" cy="322.0" r="0.55" fill="#b22a22" opacity="0.8"/>
<circle cx="1099.9" cy="256.9" r="0.55" fill="#b22a22" opacity="0.8"/>
<circle cx="1068.9" cy="266.2" r="0.55" fill="#b22a22" opacity="0.8"/>
<circle cx="1103.5" cy="283.2" r="0.55" fill="#b22a22" opacity="0.8"/>
<circle cx="1089.4" cy="272.7" r="0.55" fill="#b22a22" opacity="0.8"/>
<circle cx="1084.4" cy="279.3" r="0.55" fill="#b22a22" opacity="0.8"/>
<circle cx="1077.9" cy="294.8" r="0.55" fill="#b22a22" opacity="0.8"/>
<circle cx="1087.6" cy="319.6" r="0.55" fill="#b22a22" opacity="0.8"/>
<circle cx="1091.7" cy="321.5" r="0.55" fill="#b22a22" opacity="0.8"/>
<circle cx="1099.0" cy="326.3" r="0.55" fill="#b22a22" opacity="0.8"/>
<circle cx="1091.2" cy="262.0" r="0.55" fill="#b22a22" opacity="0.8"/>
<circle cx="1099.1" cy="324.3" r="0.55" fill="#b22a22" opacity="0.8"/>
<circle cx="1101.0" cy="293.5" r="0.55" fill="#b22a22" opacity="0.8"/>
<circle cx="1093.0" cy="265.7" r="0.55" fill="#b22a22" opacity="0.8"/>
<circle cx="1097.9" cy="293.9" r="0.55" fill="#b22a22" opacity="0.8"/>
<circle cx="1075.1" cy="254.2" r="0.55" fill="#b22a22" opacity="0.8"/>
<circle cx="1098.9" cy="326.2" r="0.55" fill="#b22a22" opacity="0.8"/>
<circle cx="1066.9" cy="311.5" r="0.55" fill="#b22a22" opacity="0.8"/>
<circle cx="1080.4" cy="261.0" r="0.55" fill="#b22a22" opacity="0.8"/>
<circle cx="1075.5" cy="309.0" r="0.55" fill="#b22a22" opacity="0.8"/>
<circle cx="1099.6" cy="252.7" r="0.55" fill="#b22a22" opacity="0.8"/>
<circle cx="1088.9" cy="252.8" r="0.55" fill="#b22a22" opacity="0.8"/>
<circle cx="1093.2" cy="275.0" r="0.55" fill="#b22a22" opacity="0.8"/>
<circle cx="1100.0" cy="325.5" r="0.55" fill="#b22a22" opacity="0.8"/>
<circle cx="1084.3" cy="326.9" r="0.55" fill="#b22a22" opacity="0.8"/>
<circle cx="1076.2" cy="255.3" r="0.55" fill="#b22a22" opacity="0.8"/>
<circle cx="1088.3" cy="251.7" r="0.55" fill="#b22a22" opacity="0.8"/>
<circle cx="1071.5" cy="281.0" r="0.55" fill="#b22a22" opacity="0.8"/>
<circle cx="1088.7" cy="261.4" r="0.55" fill="#b22a22" opacity="0.8"/>
<circle cx="1065.0" cy="316.7" r="0.55" fill="#b22a22" opacity="0.8"/>
<circle cx="1076.3" cy="323.8" r="0.55" fill="#b22a22" opacity="0.8"/>
<circle cx="1100.6" cy="278.7" r="0.55" fill="#b22a22" opacity="0.8"/>
<circle cx="1082.4" cy="289.7" r="0.55" fill="#b22a22" opacity="0.8"/>
<circle cx="1090.1" cy="295.6" r="0.55" fill="#b22a22" opacity="0.8"/>
<circle cx="1086.6" cy="297.5" r="0.55" fill="#b22a22" opacity="0.8"/>
<circle cx="1102.5" cy="288.7" r="0.55" fill="#b22a22" opacity="0.8"/>
<circle cx="1081.2" cy="305.3" r="0.55" fill="#b22a22" opacity="0.8"/>
<circle cx="1073.2" cy="272.7" r="0.55" fill="#b22a22" opacity="0.8"/>
<circle cx="1104.0" cy="289.8" r="0.55" fill="#b22a22" opacity="0.8"/>
<circle cx="1086.1" cy="250.2" r="0.55" fill="#b22a22" opacity="0.8"/>
<circle cx="1080.6" cy="294.4" r="0.55" fill="#b22a22" opacity="0.8"/>
<circle cx="1064.1" cy="297.1" r="0.55" fill="#b22a22" opacity="0.8"/>
<circle cx="1089.6" cy="254.0" r="0.55" fill="#b22a22" opacity="0.8"/>
<circle cx="1089.4" cy="285.5" r="0.55" fill="#b22a22" opacity="0.8"/>
<circle cx="1091.6" cy="276.7" r="0.55" fill="#b22a22" opacity="0.8"/>
<circle cx="1092.7" cy="306.6" r="0.55" fill="#b22a22" opacity="0.8"/>
<circle cx="1064.2" cy="254.0" r="0.55" fill="#b22a22" opacity="0.8"/>
<circle cx="1091.4" cy="324.1" r="0.55" fill="#b22a22" opacity="0.8"/>
<circle cx="1073.7" cy="284.8" r="0.55" fill="#b22a22" opacity="0.8"/>
<circle cx="1088.0" cy="274.2" r="0.55" fill="#b22a22" opacity="0.8"/>
<circle cx="1078.4" cy="273.6" r="0.55" fill="#b22a22" opacity="0.8"/>
<circle cx="1078.6" cy="295.6" r="0.55" fill="#b22a22" opacity="0.8"/>
<circle cx="1075.8" cy="278.6" r="0.55" fill="#b22a22" opacity="0.8"/>
<line x1="1171.1" y1="249.0" x2="1171.1" y2="333.2" stroke="#333" stroke-width="0.7"/>
<line x1="1158.5" y1="249.0" x2="1184.0" y2="249.0" stroke="#333" stroke-width="0.8"/>
<line x1="1158.5" y1="333.2" x2="1184.0" y2="333.2" stroke="#333" stroke-width="0.8"/>
<rect x="1149.0" y="285.3" width="43.9" height="32.5" fill="#00b7bd" stroke="#333" stroke-width="0.6"/>
<line x1="1149.0" y1="304.2" x2="1192.9" y2="304.2" stroke="#333" stroke-width="0.9"/>
<circle cx="1160.1" cy="258.5" r="0.55" fill="#0a5b5e" opacity="0.8"/>
<circle cx="1166.8" cy="263.3" r="0.55" fill="#0a5b5e" opacity="0.8"/>
<circle cx="1153.0" cy="286.0" r="0.55" fill="#0a5b5e" opacity="0.8"/>
<circle cx="1188.5" cy="322.8" r="0.55" fill="#0a5b5e" opacity="0.8"/>
<circle cx="1182.2" cy="269.5" r="0.55" fill="#0a5b5e" opacity="0.8"/>
<circle cx="1172.6" cy="274.5" r="0.55" fill="#0a5b5e" opacity="0.8"/>
<circle cx="1157.4" cy="258.8" r="0.55" fill="#0a5b5e" opacity="0.8"/>
<circle cx="1159.2" cy="334.5" r="0.55" fill="#0a5b5e" opacity="0.8"/>
<circle cx="1184.8" cy="323.4" r="0.55" fill="#0a5b5e" opacity="0.8"/>
<circle cx="1183.6" cy="266.8" r="0.55" fill="#0a5b5e" opacity="0.8"/>
<circle cx="1163.2" cy="306.8" r="0.55" fill="#0a5b5e" opacity="0.8"/>
<circle cx="1180.8" cy="327.8" r="0.55" fill="#0a5b5e" opacity="0.8"/>
<circle cx="1187.0" cy="257.0" r="0.55" fill="#0a5b5e" opacity="0.8"/>
<circle cx="1175.5" cy="310.9" r="0.55" fill="#0a5b5e" opacity="0.8"/>
<circle cx="1171.3" cy="265.4" r="0.55" fill="#0a5b5e" opacity="0.8"/>
<circle cx="1170.0" cy="257.2" r="0.55" fill="#0a5b5e" opacity="0.8"/>
<circle cx="1189.2" cy="328.8" r="0.55" fill="#0a5b5e" opacity="0.8"/>
<circle cx="1173.1" cy="276.7" r="0.55" fill="#0a5b5e" opacity="0.8"/>
<circle cx="1188.2" cy="301.8" r="0.55" fill="#0a5b5e" opacity="0.8"/>
<circle cx="1187.0" cy="327.2" r="0.55" fill="#0a5b5e" opacity="0.8"/>
<circle cx="1171.4" cy="287.2" r="0.55" fill="#0a5b5e" opacity="0.8"/>
<circle cx="1175.2" cy="288.7" r="0.55" fill="#0a5b5e" opacity="0.8"/>
<circle cx="1157.0" cy="277.1" r="0.55" fill="#0a5b5e" opacity="0.8"/>
<circle cx="1184.1" cy="253.0" r="0.55" fill="#0a5b5e" opacity="0.8"/>
<circle cx="1152.2" cy="306.7" r="0.55" fill="#0a5b5e" opacity="0.8"/>
<circle cx="1161.9" cy="298.3" r="0.55" fill="#0a5b5e" opacity="0.8"/>
<circle cx="1169.9" cy="280.6" r="0.55" fill="#0a5b5e" opacity="0.8"/>
<circle cx="1191.8" cy="267.0" r="0.55" fill="#0a5b5e" opacity="0.8"/>
<circle cx="1167.5" cy="267.7" r="0.55" fill="#0a5b5e" opacity="0.8"/>
<circle cx="1176.6" cy="274.5" r="0.55" fill="#0a5b5e" opacity="0.8"/>
<circle cx="1165.1" cy="317.9" r="0.55" fill="#0a5b5e" opacity="0.8"/>
<circle cx="1163.6" cy="300.5" r="0.55" fill="#0a5b5e" opacity="0.8"/>
<circle cx="1188.0" cy="258.3" r="0.55" fill="#0a5b5e" opacity="0.8"/>
<circle cx="1152.8" cy="270.1" r="0.55" fill="#0a5b5e" opacity="0.8"/>
<circle cx="1182.2" cy="305.7" r="0.55" fill="#0a5b5e" opacity="0.8"/>
<circle cx="1160.1" cy="279.5" r="0.55" fill="#0a5b5e" opacity="0.8"/>
<circle cx="1157.7" cy="291.3" r="0.55" fill="#0a5b5e" opacity="0.8"/>
<circle cx="1152.0" cy="313.3" r="0.55" fill="#0a5b5e" opacity="0.8"/>
<circle cx="1187.6" cy="337.0" r="0.55" fill="#0a5b5e" opacity="0.8"/>
<circle cx="1180.9" cy="337.5" r="0.55" fill="#0a5b5e" opacity="0.8"/>
<circle cx="1151.0" cy="275.6" r="0.55" fill="#0a5b5e" opacity="0.8"/>
<circle cx="1190.5" cy="320.5" r="0.55" fill="#0a5b5e" opacity="0.8"/>
<circle cx="1167.4" cy="336.0" r="0.55" fill="#0a5b5e" opacity="0.8"/>
<circle cx="1176.1" cy="324.4" r="0.55" fill="#0a5b5e" opacity="0.8"/>
<circle cx="1162.5" cy="266.6" r="0.55" fill="#0a5b5e" opacity="0.8"/>
<circle cx="1168.8" cy="261.6" r="0.55" fill="#0a5b5e" opacity="0.8"/>
<circle cx="1166.2" cy="337.7" r="0.55" fill="#0a5b5e" opacity="0.8"/>
<circle cx="1164.1" cy="249.9" r="0.55" fill="#0a5b5e" opacity="0.8"/>
<circle cx="1152.1" cy="264.6" r="0.55" fill="#0a5b5e" opacity="0.8"/>
<circle cx="1182.9" cy="282.4" r="0.55" fill="#0a5b5e" opacity="0.8"/>
<circle cx="1162.4" cy="258.0" r="0.55" fill="#0a5b5e" opacity="0.8"/>
<circle cx="1191.2" cy="288.1" r="0.55" fill="#0a5b5e" opacity="0.8"/>
<circle cx="1158.9" cy="254.5" r="0.55" fill="#0a5b5e" opacity="0.8"/>
<circle cx="1152.6" cy="264.6" r="0.55" fill="#0a5b5e" opacity="0.8"/>
<circle cx="1178.5" cy="262.8" r="0.55" fill="#0a5b5e" opacity="0.8"/>
<circle cx="1152.0" cy="294.2" r="0.55" fill="#0a5b5e" opacity="0.8"/>
<circle cx="1160.6" cy="341.0" r="0.55" fill="#0a5b5e" opacity="0.8"/>
<circle cx="1155.3" cy="297.8" r="0.55" fill="#0a5b5e" opacity="0.8"/>
<circle cx="1182.5" cy="286.7" r="0.55" fill="#0a5b5e" opacity="0.8"/>
<circle cx="1191.4" cy="293.0" r="0.55" fill="#0a5b5e" opacity="0.8"/>
<circle cx="1160.3" cy="286.9" r="0.55" fill="#0a5b5e" opacity="0.8"/>
<circle cx="1151.8" cy="287.8" r="0.55" fill="#0a5b5e" opacity="0.8"/>
<circle cx="1160.6" cy="331.0" r="0.55" fill="#0a5b5e" opacity="0.8"/>
<circle cx="1184.9" cy="295.0" r="0.55" fill="#0a5b5e" opacity="0.8"/>
<circle cx="1151.6" cy="272.5" r="0.55" fill="#0a5b5e" opacity="0.8"/>
<circle cx="1160.4" cy="268.2" r="0.55" fill="#0a5b5e" opacity="0.8"/>
<circle cx="1159.9" cy="329.2" r="0.55" fill="#0a5b5e" opacity="0.8"/>
<circle cx="1156.2" cy="253.7" r="0.55" fill="#0a5b5e" opacity="0.8"/>
<circle cx="1189.0" cy="301.1" r="0.55" fill="#0a5b5e" opacity="0.8"/>
<circle cx="1191.6" cy="286.2" r="0.55" fill="#0a5b5e" opacity="0.8"/>
<path d="M1084.1,233.2 L1084.1,229.8 L1171.1,229.8 L1171.1,233.2" fill="none" stroke="#333" stroke-width="0.7"/>
<text x="1127.60" y="228.60" font-size="4.2" text-anchor="middle" fill="#333" >p = 1.1e-05</text>
<text x="1196.70" y="223.80" font-size="3.2" text-anchor="start" fill="#333" >type</text>
<rect x="1197" y="228" width="7.2" height="6.2" fill="#f8766d" stroke="#555" stroke-width="0.4"/>
<rect x="1197" y="238.4" width="7.2" height="6.2" fill="#00b7bd" stroke="#555" stroke-width="0.4"/>
<text x="1206.00" y="232.30" font-size="3.0" text-anchor="start" fill="#333" >Tumor</text>
<text x="1206.00" y="242.70" font-size="3.0" text-anchor="start" fill="#333" >Normal</text>
<line x1="1031.1" y1="405.9" x2="1031.1" y2="480.6" stroke="#777" stroke-width="0.6"/>
<line x1="1031.1" y1="498.3" x2="1031.1" y2="528.7" stroke="#777" stroke-width="0.6"/>
<line x1="1031.1" y1="528.7" x2="1221" y2="528.7" stroke="#777" stroke-width="0.6"/>
<line x1="1056" y1="405.9" x2="1056" y2="480.6" stroke="#f1f1f1" stroke-width="0.6"/>
<line x1="1080" y1="405.9" x2="1080" y2="480.6" stroke="#f1f1f1" stroke-width="0.6"/>
<line x1="1105" y1="405.9" x2="1105" y2="480.6" stroke="#f1f1f1" stroke-width="0.6"/>
<line x1="1130" y1="405.9" x2="1130" y2="480.6" stroke="#f1f1f1" stroke-width="0.6"/>
<line x1="1155" y1="405.9" x2="1155" y2="480.6" stroke="#f1f1f1" stroke-width="0.6"/>
<line x1="1179" y1="405.9" x2="1179" y2="480.6" stroke="#f1f1f1" stroke-width="0.6"/>
<line x1="1204" y1="405.9" x2="1204" y2="480.6" stroke="#f1f1f1" stroke-width="0.6"/>
<path d="M1031.1,514.4 L1031.1,501.2 L1033.2,501.9 L1035.2,502.6 L1037.3,503.2 L1039.4,503.7 L1041.5,504.2 L1043.5,504.6 L1045.6,504.9 L1047.7,505.2 L1049.8,505.5 L1051.8,505.8 L1053.9,506.0 L1056.0,506.2 L1058.1,506.4 L1060.1,506.6 L1062.2,506.8 L1064.3,506.9 L1066.4,507.1 L1068.4,507.2 L1070.5,507.3 L1072.6,507.4 L1074.7,507.5 L1076.8,507.6 L1078.8,507.7 L1080.9,507.8 L1083.0,507.9 L1085.0,508.0 L1087.1,508.0 L1089.2,508.1 L1091.3,508.2 L1093.3,508.2 L1095.4,508.3 L1097.5,508.4 L1099.6,508.4 L1101.6,508.5 L1103.7,508.6 L1105.8,508.6 L1107.9,508.7 L1109.9,508.8 L1112.0,508.8 L1114.1,508.9 L1116.2,508.9 L1118.2,509.0 L1120.3,509.0 L1122.4,509.1 L1124.5,509.2 L1126.5,509.2 L1128.6,509.3 L1130.7,509.3 L1132.8,509.4 L1134.8,509.4 L1136.9,509.5 L1139.0,509.6 L1141.1,509.6 L1143.1,509.7 L1145.2,509.7 L1147.3,509.8 L1149.4,509.8 L1151.4,509.9 L1153.5,509.9 L1155.6,510.0 L1155.6,514.4 Z" fill="#d2d2d2"/>
<path d="M1155.6,515.0 L1155.6,518.5 L1156.7,518.6 L1157.8,518.6 L1158.9,518.7 L1160.0,518.7 L1161.0,518.8 L1162.1,518.9 L1163.2,518.9 L1164.3,519.0 L1165.4,519.0 L1166.5,519.1 L1167.6,519.1 L1168.7,519.2 L1169.8,519.3 L1170.9,519.3 L1171.9,519.4 L1173.0,519.5 L1174.1,519.5 L1175.2,519.6 L1176.3,519.7 L1177.4,519.7 L1178.5,519.8 L1179.6,519.9 L1180.7,519.9 L1181.8,520.0 L1182.8,520.1 L1183.9,520.2 L1185.0,520.3 L1186.1,520.3 L1187.2,520.4 L1188.3,520.5 L1189.4,520.6 L1190.5,520.7 L1191.6,520.8 L1192.7,520.9 L1193.8,521.1 L1194.8,521.2 L1195.9,521.3 L1197.0,521.4 L1198.1,521.6 L1199.2,521.7 L1200.3,521.9 L1201.4,522.0 L1202.5,522.2 L1203.6,522.4 L1204.7,522.5 L1205.7,522.7 L1206.8,522.9 L1207.9,523.1 L1209.0,523.4 L1210.1,523.6 L1211.2,523.8 L1212.3,524.1 L1213.4,524.3 L1214.5,524.6 L1215.5,524.9 L1216.6,525.2 L1217.7,525.5 L1218.8,525.8 L1219.9,526.1 L1221.0,526.5 L1221,515.0 Z" fill="#d2d2d2"/>
<line x1="1031.1" y1="481.6" x2="1031.1" y2="489.4" stroke="#ec8b86" stroke-width="0.6"/>
<line x1="1032.3" y1="481.6" x2="1032.3" y2="489.4" stroke="#ec8b86" stroke-width="0.6"/>
<line x1="1033.1" y1="481.6" x2="1033.1" y2="489.4" stroke="#ec8b86" stroke-width="0.6"/>
<line x1="1034.1" y1="481.6" x2="1034.1" y2="489.4" stroke="#ec8b86" stroke-width="0.6"/>
<line x1="1035.2" y1="481.6" x2="1035.2" y2="489.4" stroke="#ec8b86" stroke-width="0.6"/>
<line x1="1036.2" y1="481.6" x2="1036.2" y2="489.4" stroke="#ec8b86" stroke-width="0.6"/>
<line x1="1037.0" y1="481.6" x2="1037.0" y2="489.4" stroke="#ec8b86" stroke-width="0.6"/>
<line x1="1038.2" y1="481.6" x2="1038.2" y2="489.4" stroke="#ec8b86" stroke-width="0.6"/>
<line x1="1039.4" y1="481.6" x2="1039.4" y2="489.4" stroke="#ec8b86" stroke-width="0.6"/>
<line x1="1040.6" y1="481.6" x2="1040.6" y2="489.4" stroke="#ec8b86" stroke-width="0.6"/>
<line x1="1041.7" y1="481.6" x2="1041.7" y2="489.4" stroke="#ec8b86" stroke-width="0.6"/>
<line x1="1042.5" y1="481.6" x2="1042.5" y2="489.4" stroke="#ec8b86" stroke-width="0.6"/>
<line x1="1043.7" y1="481.6" x2="1043.7" y2="489.4" stroke="#ec8b86" stroke-width="0.6"/>
<line x1="1044.9" y1="481.6" x2="1044.9" y2="489.4" stroke="#ec8b86" stroke-width="0.6"/>
<line x1="1046.1" y1="481.6" x2="1046.1" y2="489.4" stroke="#ec8b86" stroke-width="0.6"/>
<line x1="1047.0" y1="481.6" x2="1047.0" y2="489.4" stroke="#ec8b86" stroke-width="0.6"/>
<line x1="1048.0" y1="481.6" x2="1048.0" y2="489.4" stroke="#ec8b86" stroke-width="0.6"/>
<line x1="1049.0" y1="481.6" x2="1049.0" y2="489.4" stroke="#ec8b86" stroke-width="0.6"/>
<line x1="1050.0" y1="481.6" x2="1050.0" y2="489.4" stroke="#ec8b86" stroke-width="0.6"/>
<line x1="1051.0" y1="481.6" x2="1051.0" y2="489.4" stroke="#ec8b86" stroke-width="0.6"/>
<line x1="1051.9" y1="481.6" x2="1051.9" y2="489.4" stroke="#ec8b86" stroke-width="0.6"/>
<line x1="1052.9" y1="481.6" x2="1052.9" y2="489.4" stroke="#ec8b86" stroke-width="0.6"/>
<line x1="1053.9" y1="481.6" x2="1053.9" y2="489.4" stroke="#ec8b86" stroke-width="0.6"/>
<line x1="1054.9" y1="481.6" x2="1054.9" y2="489.4" stroke="#ec8b86" stroke-width="0.6"/>
<line x1="1056.3" y1="481.6" x2="1056.3" y2="489.4" stroke="#ec8b86" stroke-width="0.6"/>
<line x1="1057.8" y1="481.6" x2="1057.8" y2="489.4" stroke="#ec8b86" stroke-width="0.6"/>
<line x1="1059.4" y1="481.6" x2="1059.4" y2="489.4" stroke="#ec8b86" stroke-width="0.6"/>
<line x1="1061.2" y1="481.6" x2="1061.2" y2="489.4" stroke="#ec8b86" stroke-width="0.6"/>
<line x1="1063.0" y1="481.6" x2="1063.0" y2="489.4" stroke="#ec8b86" stroke-width="0.6"/>
<line x1="1064.5" y1="481.6" x2="1064.5" y2="489.4" stroke="#ec8b86" stroke-width="0.6"/>
<line x1="1066.5" y1="481.6" x2="1066.5" y2="489.4" stroke="#ec8b86" stroke-width="0.6"/>
<line x1="1068.5" y1="481.6" x2="1068.5" y2="489.4" stroke="#ec8b86" stroke-width="0.6"/>
<line x1="1070.4" y1="481.6" x2="1070.4" y2="489.4" stroke="#ec8b86" stroke-width="0.6"/>
<line x1="1073.2" y1="481.6" x2="1073.2" y2="489.4" stroke="#ec8b86" stroke-width="0.6"/>
<line x1="1075.9" y1="481.6" x2="1075.9" y2="489.4" stroke="#ec8b86" stroke-width="0.6"/>
<line x1="1077.5" y1="481.6" x2="1077.5" y2="489.4" stroke="#ec8b86" stroke-width="0.6"/>
<line x1="1079.1" y1="481.6" x2="1079.1" y2="489.4" stroke="#ec8b86" stroke-width="0.6"/>
<line x1="1080.8" y1="481.6" x2="1080.8" y2="489.4" stroke="#ec8b86" stroke-width="0.6"/>
<line x1="1082.2" y1="481.6" x2="1082.2" y2="489.4" stroke="#ec8b86" stroke-width="0.6"/>
<line x1="1083.8" y1="481.6" x2="1083.8" y2="489.4" stroke="#ec8b86" stroke-width="0.6"/>
<line x1="1085.4" y1="481.6" x2="1085.4" y2="489.4" stroke="#ec8b86" stroke-width="0.6"/>
<line x1="1086.9" y1="481.6" x2="1086.9" y2="489.4" stroke="#ec8b86" stroke-width="0.6"/>
<line x1="1090.7" y1="481.6" x2="1090.7" y2="489.4" stroke="#ec8b86" stroke-width="0.6"/>
<line x1="1092.6" y1="481.6" x2="1092.6" y2="489.4" stroke="#ec8b86" stroke-width="0.6"/>
<line x1="1095.6" y1="481.6" x2="1095.6" y2="489.4" stroke="#ec8b86" stroke-width="0.6"/>
<line x1="1110.3" y1="481.6" x2="1110.3" y2="489.4" stroke="#ec8b86" stroke-width="0.6"/>
<line x1="1113.3" y1="481.6" x2="1113.3" y2="489.4" stroke="#ec8b86" stroke-width="0.6"/>
<line x1="1116.2" y1="481.6" x2="1116.2" y2="489.4" stroke="#ec8b86" stroke-width="0.6"/>
<line x1="1122.1" y1="481.6" x2="1122.1" y2="489.4" stroke="#ec8b86" stroke-width="0.6"/>
<line x1="1130.0" y1="481.6" x2="1130.0" y2="489.4" stroke="#ec8b86" stroke-width="0.6"/>
<line x1="1135.9" y1="481.6" x2="1135.9" y2="489.4" stroke="#ec8b86" stroke-width="0.6"/>
<line x1="1137.8" y1="481.6" x2="1137.8" y2="489.4" stroke="#ec8b86" stroke-width="0.6"/>
<line x1="1138.8" y1="481.6" x2="1138.8" y2="489.4" stroke="#ec8b86" stroke-width="0.6"/>
<line x1="1144.7" y1="481.6" x2="1144.7" y2="489.4" stroke="#ec8b86" stroke-width="0.6"/>
<line x1="1148.6" y1="481.6" x2="1148.6" y2="489.4" stroke="#ec8b86" stroke-width="0.6"/>
<line x1="1154.5" y1="481.6" x2="1154.5" y2="489.4" stroke="#ec8b86" stroke-width="0.6"/>
<line x1="1162.4" y1="481.6" x2="1162.4" y2="489.4" stroke="#ec8b86" stroke-width="0.6"/>
<line x1="1164.4" y1="481.6" x2="1164.4" y2="489.4" stroke="#ec8b86" stroke-width="0.6"/>
<line x1="1169.3" y1="481.6" x2="1169.3" y2="489.4" stroke="#ec8b86" stroke-width="0.6"/>
<line x1="1175.2" y1="481.6" x2="1175.2" y2="489.4" stroke="#ec8b86" stroke-width="0.6"/>
<line x1="1178.1" y1="481.6" x2="1178.1" y2="489.4" stroke="#ec8b86" stroke-width="0.6"/>
<line x1="1198.8" y1="481.6" x2="1198.8" y2="489.4" stroke="#ec8b86" stroke-width="0.6"/>
<line x1="1202.7" y1="481.6" x2="1202.7" y2="489.4" stroke="#ec8b86" stroke-width="0.6"/>
<line x1="1206.6" y1="481.6" x2="1206.6" y2="489.4" stroke="#ec8b86" stroke-width="0.6"/>
<line x1="1211.5" y1="481.6" x2="1211.5" y2="489.4" stroke="#ec8b86" stroke-width="0.6"/>
<line x1="1217.4" y1="481.6" x2="1217.4" y2="489.4" stroke="#ec8b86" stroke-width="0.6"/>
<line x1="1219.4" y1="481.6" x2="1219.4" y2="489.4" stroke="#ec8b86" stroke-width="0.6"/>
<line x1="1168.3" y1="490.2" x2="1168.3" y2="496.7" stroke="#4ec4cc" stroke-width="0.6"/>
<line x1="1170.3" y1="490.2" x2="1170.3" y2="496.7" stroke="#4ec4cc" stroke-width="0.6"/>
<line x1="1178.1" y1="490.2" x2="1178.1" y2="496.7" stroke="#4ec4cc" stroke-width="0.6"/>
<line x1="1188.0" y1="490.2" x2="1188.0" y2="496.7" stroke="#4ec4cc" stroke-width="0.6"/>
<line x1="1189.9" y1="490.2" x2="1189.9" y2="496.7" stroke="#4ec4cc" stroke-width="0.6"/>
<line x1="1191.9" y1="490.2" x2="1191.9" y2="496.7" stroke="#4ec4cc" stroke-width="0.6"/>
<line x1="1193.9" y1="490.2" x2="1193.9" y2="496.7" stroke="#4ec4cc" stroke-width="0.6"/>
<line x1="1195.4" y1="490.2" x2="1195.4" y2="496.7" stroke="#4ec4cc" stroke-width="0.6"/>
<line x1="1202.7" y1="490.2" x2="1202.7" y2="496.7" stroke="#4ec4cc" stroke-width="0.6"/>
<line x1="1204.7" y1="490.2" x2="1204.7" y2="496.7" stroke="#4ec4cc" stroke-width="0.6"/>
<line x1="1206.6" y1="490.2" x2="1206.6" y2="496.7" stroke="#4ec4cc" stroke-width="0.6"/>
<line x1="1209.6" y1="490.2" x2="1209.6" y2="496.7" stroke="#4ec4cc" stroke-width="0.6"/>
<line x1="1214.5" y1="490.2" x2="1214.5" y2="496.7" stroke="#4ec4cc" stroke-width="0.6"/>
<path d="M1031.1,436.4 L1032.3,435.3 L1033.6,434.5 L1034.8,432.9 L1036.1,431.8 L1037.3,430.7 L1038.6,429.2 L1039.9,428.5 L1041.2,427.7 L1042.5,426.8 L1043.8,425.2 L1045.1,424.4 L1046.4,423.2 L1047.7,422.9 L1049.0,421.8 L1050.3,420.2 L1051.7,420.1 L1053.0,419.1 L1054.3,417.8 L1055.9,417.3 L1057.6,416.4 L1059.2,415.8 L1060.8,415.7 L1062.5,414.8 L1064.1,414.4 L1065.8,414.0 L1067.4,413.3 L1069.0,413.2 L1070.7,412.7 L1072.3,412.6 L1074.0,411.8 L1076.0,411.3 L1077.9,410.6 L1079.9,410.2 L1081.9,409.4 L1083.8,408.7 L1085.8,408.7 L1087.8,409.2 L1089.7,409.4 L1091.7,409.7 L1093.6,409.8 L1095.5,410.1 L1097.5,410.6 L1099.5,411.1 L1101.4,412.3 L1103.4,412.7 L1105.4,413.7 L1107.3,413.9 L1109.3,415.1 L1111.3,415.3 L1113.2,414.9 L1115.2,415.4 L1117.2,416.4 L1119.1,416.3 L1121.1,417.1 L1123.1,416.9 L1125.0,417.0 L1127.0,417.8 L1129.0,418.3 L1130.9,418.2 L1132.9,418.3 L1134.9,418.7 L1136.8,419.5 L1138.8,419.4 L1140.8,419.0 L1142.7,419.3 L1144.7,419.3 L1146.7,419.8 L1148.6,420.9 L1150.6,420.9 L1152.6,421.7 L1154.5,422.1 L1156.5,422.3 L1158.5,423.1 L1160.4,422.9 L1162.4,423.7 L1164.4,423.6 L1166.3,424.2 L1168.3,424.3 L1170.3,425.0 L1172.2,426.3 L1174.2,426.8 L1176.2,427.0 L1178.1,428.2 L1180.1,428.2 L1182.1,429.2 L1184.0,430.5 L1186.0,431.1 L1188.0,431.4 L1189.9,433.0 L1191.9,433.1 L1193.5,433.7 L1195.2,434.6 L1196.8,434.7 L1198.4,435.2 L1200.1,435.5 L1201.7,436.0 L1203.3,436.6 L1205.0,436.5 L1206.6,436.9 L1208.2,436.9 L1209.9,437.1 L1211.5,437.7 L1213.1,437.2 L1214.7,437.3 L1216.2,437.5 L1217.8,436.8 L1219.4,436.7 L1221.0,437.0" fill="none" stroke="#e86c66" stroke-width="0.8"/>
<path d="M1031.1,437 L1167.3,477 L1170.3,471.7 L1172.2,473.1 L1175.2,469.8 L1178.1,471.7 L1182.1,468.8 L1186,470.8 L1189.9,462.9 L1192.9,463.9 L1195.8,457 L1198.8,458 L1201.7,451.1 L1204.7,452.1 L1206.6,445.2 L1209.6,441.3 L1211.5,439.3 L1214.5,435.4 L1217.4,437.3 L1221,437" fill="none" stroke="#22b5bf" stroke-width="1.1"/>
<rect x="1167.3" y="408.8" width="27.5" height="17" fill="#e3e3e3"/>
<text x="1174.00" y="412.60" font-size="3.2" text-anchor="middle" fill="#222" font-weight="bold">pvalue</text>
<text x="1188.00" y="412.60" font-size="3.2" text-anchor="middle" fill="#222" font-weight="bold">p.adjust</text>
<text x="1181.00" y="418.80" font-size="2.8" text-anchor="middle" fill="#222" >1.0e-10  1.4e-08</text>
<text x="1181.00" y="424.60" font-size="2.8" text-anchor="middle" fill="#222" >1.9e-06  3.2e-05</text>
<text x="1166.30" y="418.80" font-size="2.8" text-anchor="end" fill="#e86c66" >immune response</text>
<text x="1166.30" y="424.60" font-size="2.8" text-anchor="end" fill="#22b5bf" >glycolysis</text>
<text x="1029.50" y="416.58" font-size="3.0" text-anchor="end" fill="#4d4d4d" >0.4</text>
<text x="1029.50" y="438.30" font-size="3.0" text-anchor="end" fill="#4d4d4d" >0.0</text>
<text x="1029.50" y="460.02" font-size="3.0" text-anchor="end" fill="#4d4d4d" >-0.4</text>
<text x="1029.50" y="481.74" font-size="3.0" text-anchor="end" fill="#4d4d4d" >-0.8</text>
<text x="1022.40" y="443.20" font-size="3.6" text-anchor="middle" fill="#222" font-weight="bold" transform="rotate(-90 1022.4 443.2)">Running Enrichment Score</text>
<text x="1022.40" y="514.00" font-size="3.6" text-anchor="middle" fill="#222" font-weight="bold" transform="rotate(-90 1022.4 514.0)">Ranked List Metric</text>
<text x="1079.90" y="533.50" font-size="3.2" text-anchor="middle" fill="#4d4d4d" >100</text>
<text x="1130.00" y="533.50" font-size="3.2" text-anchor="middle" fill="#4d4d4d" >200</text>
<text x="1179.00" y="533.50" font-size="3.2" text-anchor="middle" fill="#4d4d4d" >300</text>
<text x="1029.50" y="505.00" font-size="3.0" text-anchor="end" fill="#4d4d4d" >4</text>
<text x="1029.50" y="515.40" font-size="3.0" text-anchor="end" fill="#4d4d4d" >2</text>
<text x="1029.50" y="525.00" font-size="3.0" text-anchor="end" fill="#4d4d4d" >0</text>
<rect x="1035.7" y="575.5" width="187.7" height="93.7" fill="#ffffff"/>
<line x1="1043.70" y1="575.5" x2="1043.70" y2="669.2" stroke="#ececec" stroke-width="0.8"/>
<line x1="1065.11" y1="575.5" x2="1065.11" y2="669.2" stroke="#ececec" stroke-width="0.5"/>
<line x1="1086.52" y1="575.5" x2="1086.52" y2="669.2" stroke="#ececec" stroke-width="0.8"/>
<line x1="1107.93" y1="575.5" x2="1107.93" y2="669.2" stroke="#ececec" stroke-width="0.5"/>
<line x1="1129.34" y1="575.5" x2="1129.34" y2="669.2" stroke="#ececec" stroke-width="0.8"/>
<line x1="1150.75" y1="575.5" x2="1150.75" y2="669.2" stroke="#ececec" stroke-width="0.5"/>
<line x1="1172.16" y1="575.5" x2="1172.16" y2="669.2" stroke="#ececec" stroke-width="0.8"/>
<line x1="1193.57" y1="575.5" x2="1193.57" y2="669.2" stroke="#ececec" stroke-width="0.5"/>
<line x1="1214.98" y1="575.5" x2="1214.98" y2="669.2" stroke="#ececec" stroke-width="0.8"/>
<line x1="1035.7" y1="664.60" x2="1223.4" y2="664.60" stroke="#ececec" stroke-width="0.8"/>
<line x1="1035.7" y1="654.06" x2="1223.4" y2="654.06" stroke="#ececec" stroke-width="0.5"/>
<line x1="1035.7" y1="643.52" x2="1223.4" y2="643.52" stroke="#ececec" stroke-width="0.8"/>
<line x1="1035.7" y1="632.99" x2="1223.4" y2="632.99" stroke="#ececec" stroke-width="0.5"/>
<line x1="1035.7" y1="622.45" x2="1223.4" y2="622.45" stroke="#ececec" stroke-width="0.8"/>
<line x1="1035.7" y1="611.91" x2="1223.4" y2="611.91" stroke="#ececec" stroke-width="0.5"/>
<line x1="1035.7" y1="601.38" x2="1223.4" y2="601.38" stroke="#ececec" stroke-width="0.8"/>
<line x1="1035.7" y1="590.84" x2="1223.4" y2="590.84" stroke="#ececec" stroke-width="0.5"/>
<line x1="1035.7" y1="580.30" x2="1223.4" y2="580.30" stroke="#ececec" stroke-width="0.8"/>
<rect x="1035.7" y="575.5" width="187.7" height="93.7" fill="none" stroke="#555" stroke-width="0.9"/>
<text x="1032.30" y="583.00" font-size="7.4" text-anchor="end" fill="#303030" >1.00</text>
<line x1="1033.9" y1="580.30" x2="1035.7" y2="580.30" stroke="#555" stroke-width="0.7"/>
<text x="1032.30" y="604.08" font-size="7.4" text-anchor="end" fill="#303030" >0.75</text>
<line x1="1033.9" y1="601.38" x2="1035.7" y2="601.38" stroke="#555" stroke-width="0.7"/>
<text x="1032.30" y="625.15" font-size="7.4" text-anchor="end" fill="#303030" >0.50</text>
<line x1="1033.9" y1="622.45" x2="1035.7" y2="622.45" stroke="#555" stroke-width="0.7"/>
<text x="1032.30" y="646.23" font-size="7.4" text-anchor="end" fill="#303030" >0.25</text>
<line x1="1033.9" y1="643.52" x2="1035.7" y2="643.52" stroke="#555" stroke-width="0.7"/>
<text x="1032.30" y="667.30" font-size="7.4" text-anchor="end" fill="#303030" >0.00</text>
<line x1="1033.9" y1="664.60" x2="1035.7" y2="664.60" stroke="#555" stroke-width="0.7"/>
<text x="1043.70" y="677.70" font-size="7.4" text-anchor="middle" fill="#303030" >0</text>
<line x1="1043.70" y1="669.2" x2="1043.70" y2="671.0" stroke="#555" stroke-width="0.7"/>
<text x="1086.52" y="677.70" font-size="7.4" text-anchor="middle" fill="#303030" >1000</text>
<line x1="1086.52" y1="669.2" x2="1086.52" y2="671.0" stroke="#555" stroke-width="0.7"/>
<text x="1129.34" y="677.70" font-size="7.4" text-anchor="middle" fill="#303030" >2000</text>
<line x1="1129.34" y1="669.2" x2="1129.34" y2="671.0" stroke="#555" stroke-width="0.7"/>
<text x="1172.16" y="677.70" font-size="7.4" text-anchor="middle" fill="#303030" >3000</text>
<line x1="1172.16" y1="669.2" x2="1172.16" y2="671.0" stroke="#555" stroke-width="0.7"/>
<text x="1214.98" y="677.70" font-size="7.4" text-anchor="middle" fill="#303030" >4000</text>
<line x1="1214.98" y1="669.2" x2="1214.98" y2="671.0" stroke="#555" stroke-width="0.7"/>
<path d="M1043.7,622.5 L1177.3,622.5 M1077.0,622.5 L1077.0,664.6 M1177.5,622.5 L1177.5,664.6" stroke="#333" stroke-width="0.9" stroke-dasharray="2,2" fill="none"/>
<path d="M1043.70,580.30 H1046.27 V581.56 H1050.77 V582.58 H1059.63 V584.35 H1066.69 V585.27 H1069.39 V586.62 H1071.10 V587.89 H1073.76 V590.58 H1076.41 V592.35 H1086.18 V592.35 H1091.49 V594.13 H1096.80 V597.67 H1102.11 V599.44 H1112.73 V601.21 H1114.48 V604.75 H1125.10 V606.52 H1132.17 V608.29 H1135.72 V611.91 H1148.10 V612.76 H1151.65 V616.30 H1152.46 V620.76 H1176.40 V620.76 H1177.30 V628.35 H1182.61 V628.35 H1183.46 V635.85 H1200.29 V635.85" fill="none" stroke="#1f4f99" stroke-width="1.6"/>
<path d="M1048.2,581.6 H1052.0 M1050.1,579.6 V583.6" stroke="#1f4f99" stroke-width="1.0"/>
<path d="M1050.4,582.6 H1054.2 M1052.3,580.6 V584.6" stroke="#1f4f99" stroke-width="1.0"/>
<path d="M1052.9,582.6 H1056.7 M1054.8,580.6 V584.6" stroke="#1f4f99" stroke-width="1.0"/>
<path d="M1055.9,582.6 H1059.7 M1057.8,580.6 V584.6" stroke="#1f4f99" stroke-width="1.0"/>
<path d="M1058.1,584.3 H1061.9 M1060.0,582.3 V586.3" stroke="#1f4f99" stroke-width="1.0"/>
<path d="M1059.8,584.3 H1063.6 M1061.7,582.3 V586.3" stroke="#1f4f99" stroke-width="1.0"/>
<path d="M1061.9,584.3 H1065.7 M1063.8,582.3 V586.3" stroke="#1f4f99" stroke-width="1.0"/>
<path d="M1064.1,584.3 H1067.9 M1066.0,582.3 V586.3" stroke="#1f4f99" stroke-width="1.0"/>
<path d="M1065.8,585.3 H1069.6 M1067.7,583.3 V587.3" stroke="#1f4f99" stroke-width="1.0"/>
<path d="M1076.1,592.4 H1079.9 M1078.0,590.4 V594.4" stroke="#1f4f99" stroke-width="1.0"/>
<path d="M1078.2,592.4 H1082.0 M1080.1,590.4 V594.4" stroke="#1f4f99" stroke-width="1.0"/>
<path d="M1080.3,592.4 H1084.1 M1082.2,590.4 V594.4" stroke="#1f4f99" stroke-width="1.0"/>
<path d="M1082.9,592.4 H1086.7 M1084.8,590.4 V594.4" stroke="#1f4f99" stroke-width="1.0"/>
<path d="M1088.9,592.4 H1092.7 M1090.8,590.4 V594.4" stroke="#1f4f99" stroke-width="1.0"/>
<path d="M1091.0,594.1 H1094.8 M1092.9,592.1 V596.1" stroke="#1f4f99" stroke-width="1.0"/>
<path d="M1095.3,597.7 H1099.1 M1097.2,595.7 V599.7" stroke="#1f4f99" stroke-width="1.0"/>
<path d="M1097.5,597.7 H1101.3 M1099.4,595.7 V599.7" stroke="#1f4f99" stroke-width="1.0"/>
<path d="M1101.7,599.4 H1105.5 M1103.6,597.4 V601.4" stroke="#1f4f99" stroke-width="1.0"/>
<path d="M1103.9,599.4 H1107.7 M1105.8,597.4 V601.4" stroke="#1f4f99" stroke-width="1.0"/>
<path d="M1106.0,599.4 H1109.8 M1107.9,597.4 V601.4" stroke="#1f4f99" stroke-width="1.0"/>
<path d="M1108.2,599.4 H1112.0 M1110.1,597.4 V601.4" stroke="#1f4f99" stroke-width="1.0"/>
<path d="M1114.6,604.7 H1118.4 M1116.5,602.7 V606.7" stroke="#1f4f99" stroke-width="1.0"/>
<path d="M1116.7,604.7 H1120.5 M1118.6,602.7 V606.7" stroke="#1f4f99" stroke-width="1.0"/>
<path d="M1118.9,604.7 H1122.7 M1120.8,602.7 V606.7" stroke="#1f4f99" stroke-width="1.0"/>
<path d="M1125.3,606.5 H1129.1 M1127.2,604.5 V608.5" stroke="#1f4f99" stroke-width="1.0"/>
<path d="M1127.4,606.5 H1131.2 M1129.3,604.5 V608.5" stroke="#1f4f99" stroke-width="1.0"/>
<path d="M1136.0,611.9 H1139.8 M1137.9,609.9 V613.9" stroke="#1f4f99" stroke-width="1.0"/>
<path d="M1140.3,611.9 H1144.1 M1142.2,609.9 V613.9" stroke="#1f4f99" stroke-width="1.0"/>
<path d="M1142.4,611.9 H1146.2 M1144.3,609.9 V613.9" stroke="#1f4f99" stroke-width="1.0"/>
<path d="M1144.6,611.9 H1148.4 M1146.5,609.9 V613.9" stroke="#1f4f99" stroke-width="1.0"/>
<path d="M1146.7,612.8 H1150.5 M1148.6,610.8 V614.8" stroke="#1f4f99" stroke-width="1.0"/>
<path d="M1157.4,620.8 H1161.2 M1159.3,618.8 V622.8" stroke="#1f4f99" stroke-width="1.0"/>
<path d="M1159.6,620.8 H1163.4 M1161.5,618.8 V622.8" stroke="#1f4f99" stroke-width="1.0"/>
<path d="M1185.2,635.9 H1189.0 M1187.1,633.9 V637.9" stroke="#1f4f99" stroke-width="1.0"/>
<path d="M1189.5,635.9 H1193.3 M1191.4,633.9 V637.9" stroke="#1f4f99" stroke-width="1.0"/>
<path d="M1198.1,635.9 H1201.9 M1200.0,633.9 V637.9" stroke="#1f4f99" stroke-width="1.0"/>
<path d="M1043.70,580.30 H1045.41 V581.99 H1048.11 V586.20 H1050.12 V588.73 H1052.56 V592.95 H1054.40 V596.32 H1056.07 V600.53 H1057.83 V603.90 H1059.63 V606.43 H1063.18 V609.81 H1065.97 V612.33 H1068.49 V614.86 H1071.10 V616.55 H1073.80 V618.24 H1076.97 V622.45 H1078.81 V624.98 H1080.87 V626.66 H1083.52 V628.35 H1086.18 V630.04 H1093.24 V631.72 H1096.80 V633.41 H1103.86 V637.62 H1109.17 V638.47 H1114.48 V641.84 H1118.04 V644.37 H1120.78 V645.21 H1148.99 V645.21 H1149.85 V654.48 H1151.65 V654.48 H1151.99 V664.60" fill="none" stroke="#d01c1c" stroke-width="1.6"/>
<path d="M1042.7,580.3 H1046.5 M1044.6,578.3 V582.3" stroke="#d01c1c" stroke-width="1.0"/>
<path d="M1044.4,582.0 H1048.2 M1046.3,580.0 V584.0" stroke="#d01c1c" stroke-width="1.0"/>
<path d="M1046.9,586.2 H1050.7 M1048.8,584.2 V588.2" stroke="#d01c1c" stroke-width="1.0"/>
<path d="M1049.1,588.7 H1052.9 M1051.0,586.7 V590.7" stroke="#d01c1c" stroke-width="1.0"/>
<path d="M1051.6,592.9 H1055.4 M1053.5,590.9 V594.9" stroke="#d01c1c" stroke-width="1.0"/>
<path d="M1053.4,596.3 H1057.2 M1055.3,594.3 V598.3" stroke="#d01c1c" stroke-width="1.0"/>
<path d="M1054.6,600.5 H1058.4 M1056.5,598.5 V602.5" stroke="#d01c1c" stroke-width="1.0"/>
<path d="M1056.8,603.9 H1060.6 M1058.7,601.9 V605.9" stroke="#d01c1c" stroke-width="1.0"/>
<path d="M1058.9,606.4 H1062.7 M1060.8,604.4 V608.4" stroke="#d01c1c" stroke-width="1.0"/>
<path d="M1060.2,606.4 H1064.0 M1062.1,604.4 V608.4" stroke="#d01c1c" stroke-width="1.0"/>
<path d="M1062.4,609.8 H1066.2 M1064.3,607.8 V611.8" stroke="#d01c1c" stroke-width="1.0"/>
<path d="M1065.8,612.3 H1069.6 M1067.7,610.3 V614.3" stroke="#d01c1c" stroke-width="1.0"/>
<path d="M1068.3,614.9 H1072.1 M1070.2,612.9 V616.9" stroke="#d01c1c" stroke-width="1.0"/>
<path d="M1070.9,616.5 H1074.7 M1072.8,614.5 V618.5" stroke="#d01c1c" stroke-width="1.0"/>
<path d="M1073.5,618.2 H1077.3 M1075.4,616.2 V620.2" stroke="#d01c1c" stroke-width="1.0"/>
<path d="M1076.1,622.5 H1079.9 M1078.0,620.5 V624.5" stroke="#d01c1c" stroke-width="1.0"/>
<path d="M1080.3,626.7 H1084.1 M1082.2,624.7 V628.7" stroke="#d01c1c" stroke-width="1.0"/>
<path d="M1082.5,628.4 H1086.3 M1084.4,626.4 V630.4" stroke="#d01c1c" stroke-width="1.0"/>
<path d="M1086.8,630.0 H1090.6 M1088.7,628.0 V632.0" stroke="#d01c1c" stroke-width="1.0"/>
<path d="M1088.9,630.0 H1092.7 M1090.8,628.0 V632.0" stroke="#d01c1c" stroke-width="1.0"/>
<path d="M1097.5,633.4 H1101.3 M1099.4,631.4 V635.4" stroke="#d01c1c" stroke-width="1.0"/>
<path d="M1099.6,633.4 H1103.4 M1101.5,631.4 V635.4" stroke="#d01c1c" stroke-width="1.0"/>
<path d="M1106.0,637.6 H1109.8 M1107.9,635.6 V639.6" stroke="#d01c1c" stroke-width="1.0"/>
<path d="M1108.2,638.5 H1112.0 M1110.1,636.5 V640.5" stroke="#d01c1c" stroke-width="1.0"/>
<path d="M1114.6,641.8 H1118.4 M1116.5,639.8 V643.8" stroke="#d01c1c" stroke-width="1.0"/>
<path d="M1116.7,644.4 H1120.5 M1118.6,642.4 V646.4" stroke="#d01c1c" stroke-width="1.0"/>
<path d="M1125.3,645.2 H1129.1 M1127.2,643.2 V647.2" stroke="#d01c1c" stroke-width="1.0"/>
<path d="M1127.4,645.2 H1131.2 M1129.3,643.2 V647.2" stroke="#d01c1c" stroke-width="1.0"/>
<path d="M1129.6,645.2 H1133.4 M1131.5,643.2 V647.2" stroke="#d01c1c" stroke-width="1.0"/>
<path d="M1131.7,645.2 H1135.5 M1133.6,643.2 V647.2" stroke="#d01c1c" stroke-width="1.0"/>
<path d="M1136.0,645.2 H1139.8 M1137.9,643.2 V647.2" stroke="#d01c1c" stroke-width="1.0"/>
<path d="M1146.7,645.2 H1150.5 M1148.6,643.2 V647.2" stroke="#d01c1c" stroke-width="1.0"/>
<text x="1047.30" y="651.60" font-size="9.4" text-anchor="start" fill="#222" textLength="40.7" lengthAdjust="spacingAndGlyphs">p &lt; 0.0001</text>
</svg></body></html>
